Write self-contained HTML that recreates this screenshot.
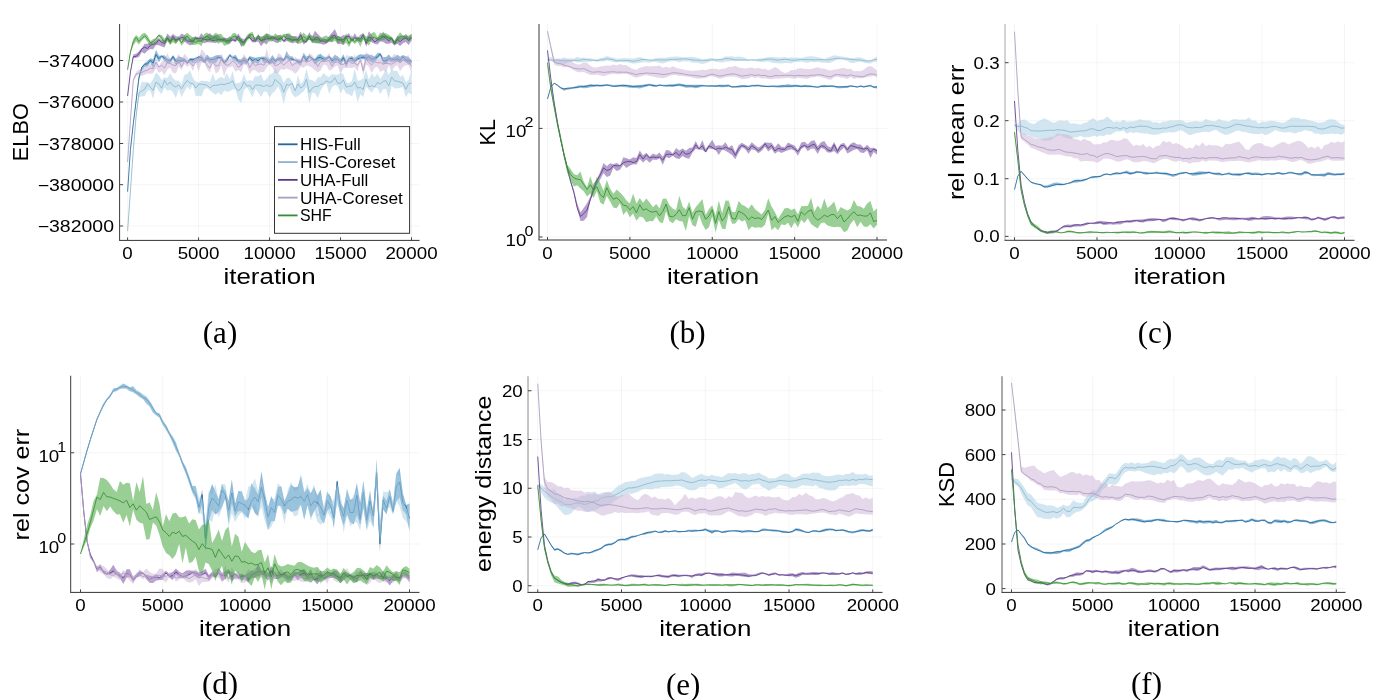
<!DOCTYPE html>
<html><head><meta charset="utf-8"><title>figure</title>
<style>
html,body{margin:0;padding:0;background:#fff;}
svg{display:block;filter:blur(0.35px);font-family:"Liberation Sans",sans-serif;fill:#000;}
text{fill:#000;}
</style></head><body>
<svg width="1376" height="700" viewBox="0 0 1376 700">
<rect width="1376" height="700" fill="#fff"/>
<path d="M127.60 24V240.4 M198.57 24V240.4 M269.55 24V240.4 M340.52 24V240.4 M411.50 24V240.4 M119.6 60.50H419.6 M119.6 102.00H419.6 M119.6 143.50H419.6 M119.6 184.70H419.6 M119.6 226.00H419.6" stroke="#000" stroke-opacity="0.05" stroke-width="0.9" fill="none"/>
<polygon points="127.60,191.38 130.44,148.78 133.28,122.80 136.12,97.92 138.96,75.17 141.79,66.40 144.63,63.08 147.47,61.10 150.31,58.36 153.15,59.15 155.99,49.67 158.83,55.73 161.67,55.50 164.51,55.14 167.35,58.27 170.19,58.81 173.02,55.00 175.86,59.09 178.70,56.25 181.54,57.29 184.38,58.16 187.22,60.99 190.06,57.94 192.90,58.12 195.74,57.99 198.57,56.46 201.41,54.76 204.25,58.83 207.09,54.52 209.93,57.44 212.77,57.00 215.61,55.53 218.45,54.95 221.29,55.45 224.13,61.53 226.96,57.62 229.80,53.64 232.64,56.59 235.48,54.82 238.32,59.18 241.16,59.26 244.00,56.67 246.84,59.98 249.68,56.10 252.52,57.09 255.35,57.80 258.19,57.05 261.03,56.66 263.87,56.50 266.71,57.00 269.55,59.13 272.39,55.11 275.23,58.97 278.07,57.09 280.91,56.76 283.75,58.82 286.58,50.92 289.42,56.32 292.26,56.21 295.10,59.84 297.94,58.93 300.78,60.91 303.62,52.86 306.46,56.71 309.30,55.10 312.13,57.87 314.97,58.81 317.81,54.91 320.65,53.81 323.49,56.57 326.33,57.06 329.17,55.38 332.01,57.97 334.85,54.99 337.69,56.15 340.52,59.02 343.36,54.18 346.20,60.71 349.04,57.12 351.88,55.90 354.72,58.34 357.56,55.59 360.40,54.29 363.24,54.67 366.08,54.35 368.91,54.39 371.75,55.39 374.59,56.60 377.43,52.97 380.27,52.67 383.11,57.30 385.95,56.91 388.79,54.47 391.63,57.79 394.47,57.05 397.30,54.72 400.14,56.73 402.98,54.95 405.82,56.18 408.66,57.37 411.50,59.96 411.50,63.50 408.66,64.65 405.82,62.06 402.98,59.53 400.14,62.55 397.30,61.67 394.47,61.68 391.63,62.41 388.79,61.02 385.95,64.32 383.11,63.84 380.27,55.72 377.43,59.02 374.59,61.77 371.75,62.72 368.91,60.53 366.08,59.97 363.24,59.34 360.40,59.17 357.56,60.40 354.72,62.82 351.88,62.01 349.04,60.41 346.20,67.59 343.36,60.82 340.52,65.12 337.69,60.85 334.85,62.25 332.01,63.81 329.17,58.66 326.33,60.32 323.49,62.37 320.65,59.93 317.81,62.20 314.97,64.78 312.13,60.22 309.30,58.25 306.46,63.25 303.62,58.00 300.78,65.49 297.94,64.07 295.10,60.59 292.26,60.82 289.42,60.65 286.58,58.40 283.75,61.57 280.91,62.78 278.07,60.65 275.23,64.11 272.39,63.16 269.55,64.55 266.71,62.54 263.87,63.37 261.03,58.82 258.19,63.95 255.35,62.58 252.52,64.11 249.68,59.85 246.84,64.60 244.00,63.21 241.16,65.87 238.32,63.55 235.48,61.11 232.64,59.62 229.80,55.84 226.96,62.35 224.13,64.57 221.29,60.02 218.45,58.67 215.61,63.59 212.77,61.80 209.93,63.71 207.09,60.83 204.25,63.33 201.41,61.28 198.57,60.49 195.74,60.89 192.90,63.61 190.06,61.35 187.22,63.86 184.38,61.56 181.54,61.98 178.70,63.55 175.86,65.17 173.02,58.93 170.19,63.82 167.35,63.42 164.51,61.28 161.67,57.43 158.83,62.51 155.99,56.84 153.15,68.38 150.31,62.38 147.47,66.56 144.63,66.73 141.79,71.04 138.96,80.30 136.12,102.98 133.28,124.76 130.44,149.89 127.60,191.98" fill="#1f78b4" fill-opacity="0.5" stroke="none"/>
<polyline points="127.60,191.70 130.44,149.56 133.28,123.87 136.12,100.77 138.96,77.49 141.79,67.27 144.63,64.27 147.47,63.78 150.31,60.16 153.15,63.11 155.99,54.42 158.83,58.75 161.67,55.87 164.51,58.26 167.35,59.83 170.19,60.94 173.02,56.49 175.86,61.32 178.70,60.54 181.54,61.29 184.38,59.76 187.22,63.34 190.06,59.38 192.90,59.79 195.74,58.37 198.57,56.84 201.41,57.65 204.25,61.66 207.09,58.14 209.93,59.81 212.77,59.48 215.61,58.79 218.45,57.39 221.29,57.62 224.13,62.37 226.96,60.20 229.80,55.46 232.64,57.66 235.48,57.61 238.32,61.28 241.16,61.47 244.00,60.29 246.84,62.37 249.68,57.36 252.52,60.68 255.35,59.12 258.19,60.78 261.03,58.23 263.87,58.79 266.71,59.83 269.55,62.65 272.39,58.38 275.23,61.05 278.07,59.17 280.91,58.91 283.75,60.12 286.58,55.84 289.42,58.72 292.26,59.15 295.10,60.21 297.94,61.51 300.78,61.84 303.62,56.07 306.46,60.65 309.30,56.01 312.13,58.25 314.97,60.28 317.81,57.83 320.65,57.33 323.49,59.13 326.33,58.86 329.17,56.54 332.01,60.79 334.85,58.85 337.69,59.29 340.52,61.57 343.36,57.62 346.20,63.86 349.04,58.71 351.88,58.25 354.72,61.44 357.56,58.83 360.40,58.02 363.24,56.98 366.08,58.28 368.91,56.61 371.75,59.39 374.59,58.37 377.43,56.92 380.27,54.12 383.11,60.57 385.95,61.11 388.79,58.44 391.63,59.27 394.47,59.29 397.30,58.70 400.14,60.55 402.98,56.65 405.82,60.03 408.66,60.11 411.50,61.57" fill="none" stroke="#23679b" stroke-opacity="1" stroke-width="0.85" stroke-linejoin="round"/>
<polygon points="127.60,230.87 130.44,190.61 133.28,149.47 136.12,113.32 138.96,90.51 141.79,81.84 144.63,82.29 147.47,81.90 150.31,83.56 153.15,79.36 155.99,72.44 158.83,75.27 161.67,79.93 164.51,77.14 167.35,78.30 170.19,73.24 173.02,78.24 175.86,80.85 178.70,80.41 181.54,84.82 184.38,74.84 187.22,74.37 190.06,70.18 192.90,77.71 195.74,81.51 198.57,82.39 201.41,80.59 204.25,80.99 207.09,81.04 209.93,82.07 212.77,73.64 215.61,80.72 218.45,78.17 221.29,76.85 224.13,78.47 226.96,73.06 229.80,79.23 232.64,70.95 235.48,83.58 238.32,82.94 241.16,81.62 244.00,73.92 246.84,81.56 249.68,79.94 252.52,81.01 255.35,76.10 258.19,76.45 261.03,73.89 263.87,81.32 266.71,78.55 269.55,74.80 272.39,73.57 275.23,68.81 278.07,73.27 280.91,75.67 283.75,82.68 286.58,78.18 289.42,77.87 292.26,81.43 295.10,89.33 297.94,75.03 300.78,83.94 303.62,80.79 306.46,68.56 309.30,79.55 312.13,80.08 314.97,82.02 317.81,77.32 320.65,77.31 323.49,73.00 326.33,75.63 329.17,77.11 332.01,74.00 334.85,74.84 337.69,74.53 340.52,73.10 343.36,74.11 346.20,82.15 349.04,83.05 351.88,80.91 354.72,68.16 357.56,80.64 360.40,80.33 363.24,78.23 366.08,69.69 368.91,79.72 371.75,73.25 374.59,77.24 377.43,73.43 380.27,78.81 383.11,74.68 385.95,69.24 388.79,75.08 391.63,69.51 394.47,71.12 397.30,70.75 400.14,77.00 402.98,74.86 405.82,82.25 408.66,79.87 411.50,69.78 411.50,94.66 408.66,92.86 405.82,97.30 402.98,87.05 400.14,87.71 397.30,88.47 394.47,88.29 391.63,85.69 388.79,99.05 385.95,88.71 383.11,89.22 380.27,94.34 377.43,88.06 374.59,88.01 371.75,92.51 368.91,90.05 366.08,86.61 363.24,97.08 360.40,94.60 357.56,102.30 354.72,89.35 351.88,96.61 349.04,94.34 346.20,93.52 343.36,88.48 340.52,93.36 337.69,85.99 334.85,84.96 332.01,87.25 329.17,93.97 326.33,83.32 323.49,85.81 320.65,90.19 317.81,97.97 314.97,93.20 312.13,92.46 309.30,103.45 306.46,87.07 303.62,91.49 300.78,93.63 297.94,96.00 295.10,97.23 292.26,94.34 289.42,86.75 286.58,92.11 283.75,103.95 280.91,92.72 278.07,86.60 275.23,90.82 272.39,93.28 269.55,97.44 266.71,91.86 263.87,91.63 261.03,97.07 258.19,92.44 255.35,88.94 252.52,97.48 249.68,91.67 246.84,87.14 244.00,89.93 241.16,103.23 238.32,99.21 235.48,89.77 232.64,89.25 229.80,91.26 226.96,91.71 224.13,90.40 221.29,95.15 218.45,92.39 215.61,94.76 212.77,92.67 209.93,90.13 207.09,87.97 204.25,89.35 201.41,96.39 198.57,95.62 195.74,96.38 192.90,84.61 190.06,89.95 187.22,86.61 184.38,91.39 181.54,96.96 178.70,88.91 175.86,97.92 173.02,92.30 170.19,89.79 167.35,90.84 164.51,87.59 161.67,93.88 158.83,91.19 155.99,86.12 153.15,98.79 150.31,90.52 147.47,90.38 144.63,96.18 141.79,96.14 138.96,97.52 136.12,117.88 133.28,151.78 130.44,190.89 127.60,231.06" fill="#a6cee3" fill-opacity="0.5" stroke="none"/>
<polyline points="127.60,231.00 130.44,190.66 133.28,150.29 136.12,116.14 138.96,92.75 141.79,90.94 144.63,89.35 147.47,83.89 150.31,87.20 153.15,90.34 155.99,82.05 158.83,84.13 161.67,88.28 164.51,80.34 167.35,85.09 170.19,81.97 173.02,85.71 175.86,86.93 178.70,84.80 181.54,88.74 184.38,84.13 187.22,80.41 190.06,83.24 192.90,83.54 195.74,88.07 198.57,84.30 201.41,84.01 204.25,84.72 207.09,85.16 209.93,88.12 212.77,85.67 215.61,85.10 218.45,85.13 221.29,84.12 224.13,84.79 226.96,83.50 229.80,82.96 232.64,80.81 235.48,87.25 238.32,91.01 241.16,88.08 244.00,81.78 246.84,86.04 249.68,85.39 252.52,89.74 255.35,85.27 258.19,84.96 261.03,85.45 263.87,86.52 266.71,84.94 269.55,86.58 272.39,85.50 275.23,79.32 278.07,82.25 280.91,84.39 283.75,92.28 286.58,84.50 289.42,85.25 292.26,83.15 295.10,90.68 297.94,83.91 300.78,88.05 303.62,86.00 306.46,79.22 309.30,92.45 312.13,88.24 314.97,86.39 317.81,86.55 320.65,84.36 323.49,83.92 326.33,80.84 329.17,82.48 332.01,81.47 334.85,77.73 337.69,83.28 340.52,83.38 343.36,79.81 346.20,87.25 349.04,86.11 351.88,86.07 354.72,82.17 357.56,88.13 360.40,87.36 363.24,89.47 366.08,79.13 368.91,87.02 371.75,85.55 374.59,86.83 377.43,82.45 380.27,84.03 383.11,81.41 385.95,80.65 388.79,85.79 391.63,77.02 394.47,80.76 397.30,81.29 400.14,82.16 402.98,83.20 405.82,89.19 408.66,83.73 411.50,83.20" fill="none" stroke="#8db6cc" stroke-opacity="1" stroke-width="0.85" stroke-linejoin="round"/>
<polygon points="127.60,95.52 130.44,70.83 133.28,54.47 136.12,53.66 138.96,51.16 141.79,47.93 144.63,43.67 147.47,43.73 150.31,42.52 153.15,42.79 155.99,41.01 158.83,38.01 161.67,40.02 164.51,40.13 167.35,33.45 170.19,36.47 173.02,33.98 175.86,36.12 178.70,36.91 181.54,33.40 184.38,35.09 187.22,37.90 190.06,39.26 192.90,37.58 195.74,36.84 198.57,37.71 201.41,32.95 204.25,37.55 207.09,35.36 209.93,32.92 212.77,36.15 215.61,35.10 218.45,34.95 221.29,38.12 224.13,37.14 226.96,38.49 229.80,36.13 232.64,38.45 235.48,36.90 238.32,33.56 241.16,37.94 244.00,39.15 246.84,36.98 249.68,33.43 252.52,38.08 255.35,37.19 258.19,35.39 261.03,36.41 263.87,36.08 266.71,33.41 269.55,35.77 272.39,35.39 275.23,36.68 278.07,35.21 280.91,34.52 283.75,39.59 286.58,33.18 289.42,34.91 292.26,36.02 295.10,35.91 297.94,36.67 300.78,31.58 303.62,39.86 306.46,38.79 309.30,31.97 312.13,36.90 314.97,30.80 317.81,34.11 320.65,36.65 323.49,39.78 326.33,39.54 329.17,35.93 332.01,32.65 334.85,29.04 337.69,35.74 340.52,36.92 343.36,35.07 346.20,35.74 349.04,33.09 351.88,38.94 354.72,33.02 357.56,37.89 360.40,34.65 363.24,33.05 366.08,39.86 368.91,31.36 371.75,35.00 374.59,38.50 377.43,37.46 380.27,37.44 383.11,31.53 385.95,35.25 388.79,36.62 391.63,37.84 394.47,41.14 397.30,35.68 400.14,37.32 402.98,36.93 405.82,33.74 408.66,37.20 411.50,33.41 411.50,40.69 408.66,45.00 405.82,42.11 402.98,43.21 400.14,45.96 397.30,43.77 394.47,45.43 391.63,42.76 388.79,43.85 385.95,43.78 383.11,41.73 380.27,41.53 377.43,44.41 374.59,43.77 371.75,42.14 368.91,40.74 366.08,46.71 363.24,36.56 360.40,41.12 357.56,41.38 354.72,39.20 351.88,41.54 349.04,38.99 346.20,38.28 343.36,44.93 340.52,43.67 337.69,44.37 334.85,37.65 332.01,41.44 329.17,41.95 326.33,43.75 323.49,44.86 320.65,43.73 317.81,43.56 314.97,42.20 312.13,43.16 309.30,38.02 306.46,42.33 303.62,44.53 300.78,38.81 297.94,44.07 295.10,42.18 292.26,43.54 289.42,41.37 286.58,41.22 283.75,42.29 280.91,38.85 278.07,43.13 275.23,42.61 272.39,40.71 269.55,40.06 266.71,44.62 263.87,42.71 261.03,46.14 258.19,41.43 255.35,42.33 252.52,42.60 249.68,38.88 246.84,39.49 244.00,44.73 241.16,46.88 238.32,39.47 235.48,42.16 232.64,40.75 229.80,43.15 226.96,43.96 224.13,41.61 221.29,42.58 218.45,41.33 215.61,43.13 212.77,42.51 209.93,42.53 207.09,42.27 204.25,43.18 201.41,42.03 198.57,41.32 195.74,40.25 192.90,44.32 190.06,45.41 187.22,43.87 184.38,41.49 181.54,39.98 178.70,40.61 175.86,43.44 173.02,39.76 170.19,44.61 167.35,40.11 164.51,47.54 161.67,46.58 158.83,45.21 155.99,45.08 153.15,49.27 150.31,49.05 147.47,50.81 144.63,53.65 141.79,51.93 138.96,56.90 136.12,57.87 133.28,58.03 130.44,72.29 127.60,96.51" fill="#6a3d9a" fill-opacity="0.5" stroke="none"/>
<polyline points="127.60,96.00 130.44,71.97 133.28,56.70 136.12,56.36 138.96,53.85 141.79,48.99 144.63,47.15 147.47,48.56 150.31,45.21 153.15,44.31 155.99,43.65 158.83,39.68 161.67,42.65 164.51,43.22 167.35,37.83 170.19,41.54 173.02,36.44 175.86,39.93 178.70,39.04 181.54,37.39 184.38,37.96 187.22,41.04 190.06,41.36 192.90,40.95 195.74,38.26 198.57,38.58 201.41,37.95 204.25,39.45 207.09,39.86 209.93,39.41 212.77,40.72 215.61,40.19 218.45,39.73 221.29,39.85 224.13,39.29 226.96,41.11 229.80,40.86 232.64,39.87 235.48,40.54 238.32,36.30 241.16,42.03 244.00,41.93 246.84,37.43 249.68,37.36 252.52,40.90 255.35,40.85 258.19,38.24 261.03,40.65 263.87,39.64 266.71,38.87 269.55,38.45 272.39,36.86 275.23,39.08 278.07,39.15 280.91,37.76 283.75,41.29 286.58,38.52 289.42,38.88 292.26,40.14 295.10,39.75 297.94,39.44 300.78,34.96 303.62,41.79 306.46,41.88 309.30,36.24 312.13,40.95 314.97,38.20 317.81,37.19 320.65,40.82 323.49,41.13 326.33,42.51 329.17,39.00 332.01,36.61 334.85,35.03 337.69,40.00 340.52,39.74 343.36,39.75 346.20,36.41 349.04,36.31 351.88,40.63 354.72,37.85 357.56,38.34 360.40,39.10 363.24,34.88 366.08,43.56 368.91,36.76 371.75,38.72 374.59,42.02 377.43,40.19 380.27,38.58 383.11,36.44 385.95,38.18 388.79,41.08 391.63,38.34 394.47,44.10 397.30,39.31 400.14,41.75 402.98,39.12 405.82,38.14 408.66,40.73 411.50,37.19" fill="none" stroke="#5a3a88" stroke-opacity="1" stroke-width="0.85" stroke-linejoin="round"/>
<polygon points="127.60,161.82 130.44,120.12 133.28,78.45 136.12,72.20 138.96,69.33 141.79,71.01 144.63,66.62 147.47,66.09 150.31,63.70 153.15,64.88 155.99,57.17 158.83,66.02 161.67,61.72 164.51,59.49 167.35,53.12 170.19,59.60 173.02,61.91 175.86,60.26 178.70,53.57 181.54,61.30 184.38,53.62 187.22,57.16 190.06,61.24 192.90,60.76 195.74,56.36 198.57,59.65 201.41,49.20 204.25,52.03 207.09,57.13 209.93,59.22 212.77,56.80 215.61,57.13 218.45,58.58 221.29,53.82 224.13,58.91 226.96,59.67 229.80,58.09 232.64,55.01 235.48,61.11 238.32,60.46 241.16,59.86 244.00,54.07 246.84,58.06 249.68,62.45 252.52,61.78 255.35,58.52 258.19,62.56 261.03,57.13 263.87,61.99 266.71,48.23 269.55,60.61 272.39,56.62 275.23,60.82 278.07,53.31 280.91,54.44 283.75,60.27 286.58,53.12 289.42,55.04 292.26,63.10 295.10,56.42 297.94,59.60 300.78,58.38 303.62,54.80 306.46,60.91 309.30,53.03 312.13,55.09 314.97,58.88 317.81,63.04 320.65,59.71 323.49,58.51 326.33,57.03 329.17,52.63 332.01,61.46 334.85,53.83 337.69,57.98 340.52,58.18 343.36,63.58 346.20,55.37 349.04,55.76 351.88,61.63 354.72,53.92 357.56,63.54 360.40,55.69 363.24,65.84 366.08,51.46 368.91,55.19 371.75,54.37 374.59,56.68 377.43,59.67 380.27,56.89 383.11,57.27 385.95,61.32 388.79,55.93 391.63,57.34 394.47,53.49 397.30,57.35 400.14,57.89 402.98,56.30 405.82,56.34 408.66,55.18 411.50,62.74 411.50,73.68 408.66,64.99 405.82,65.19 402.98,67.07 400.14,71.32 397.30,65.03 394.47,66.66 391.63,71.33 388.79,65.30 385.95,72.37 383.11,70.19 380.27,72.08 377.43,66.83 374.59,67.59 371.75,73.31 368.91,66.69 366.08,64.62 363.24,75.86 360.40,61.14 357.56,71.19 354.72,67.12 351.88,67.93 349.04,67.77 346.20,67.72 343.36,68.31 340.52,73.88 337.69,65.41 334.85,66.58 332.01,69.50 329.17,70.59 326.33,65.10 323.49,64.73 320.65,70.20 317.81,72.47 314.97,70.13 312.13,67.64 309.30,66.14 306.46,65.49 303.62,67.79 300.78,66.47 297.94,71.30 295.10,73.64 292.26,70.89 289.42,69.81 286.58,68.39 283.75,69.86 280.91,69.02 278.07,73.58 275.23,73.17 272.39,67.27 269.55,64.58 266.71,67.46 263.87,72.03 261.03,72.20 258.19,72.80 255.35,70.01 252.52,70.31 249.68,74.32 246.84,65.42 244.00,64.43 241.16,72.25 238.32,69.85 235.48,71.77 232.64,66.21 229.80,66.93 226.96,68.11 224.13,76.39 221.29,65.42 218.45,72.12 215.61,73.41 212.77,62.80 209.93,72.53 207.09,68.95 204.25,62.10 201.41,62.81 198.57,71.15 195.74,62.87 192.90,71.33 190.06,64.49 187.22,67.04 184.38,63.92 181.54,70.07 178.70,66.46 175.86,73.28 173.02,72.92 170.19,67.39 167.35,69.50 164.51,75.06 161.67,71.35 158.83,72.98 155.99,67.88 153.15,72.97 150.31,73.81 147.47,73.62 144.63,74.70 141.79,75.88 138.96,74.00 136.12,76.16 133.28,81.01 130.44,121.58 127.60,162.15" fill="#cab2d6" fill-opacity="0.5" stroke="none"/>
<polyline points="127.60,162.00 130.44,120.72 133.28,80.38 136.12,74.22 138.96,73.13 141.79,72.58 144.63,70.96 147.47,70.26 150.31,68.08 153.15,68.90 155.99,62.35 158.83,67.05 161.67,65.29 164.51,68.00 167.35,62.37 170.19,63.54 173.02,65.07 175.86,65.61 178.70,60.51 181.54,66.83 184.38,60.97 187.22,62.99 190.06,62.11 192.90,65.98 195.74,61.93 198.57,62.16 201.41,58.74 204.25,60.31 207.09,65.59 209.93,67.87 212.77,62.04 215.61,65.73 218.45,65.93 221.29,59.82 224.13,63.37 226.96,65.48 229.80,64.15 232.64,61.06 235.48,62.77 238.32,67.36 241.16,65.17 244.00,58.51 246.84,59.66 249.68,67.82 252.52,62.93 255.35,65.56 258.19,64.55 261.03,63.85 263.87,65.21 266.71,60.86 269.55,63.80 272.39,60.97 275.23,65.64 278.07,64.72 280.91,62.46 283.75,65.09 286.58,62.54 289.42,60.17 292.26,65.76 295.10,63.43 297.94,62.18 300.78,62.62 303.62,60.70 306.46,61.70 309.30,61.29 312.13,59.28 314.97,61.93 317.81,66.37 320.65,61.59 323.49,61.04 326.33,61.25 329.17,60.53 332.01,66.41 334.85,62.24 337.69,61.93 340.52,64.22 343.36,64.39 346.20,62.20 349.04,61.35 351.88,63.29 354.72,63.11 357.56,65.38 360.40,60.33 363.24,70.69 366.08,58.52 368.91,62.65 371.75,64.90 374.59,61.70 377.43,62.82 380.27,62.52 383.11,64.28 385.95,63.14 388.79,63.68 391.63,64.11 394.47,62.88 397.30,59.83 400.14,63.04 402.98,60.01 405.82,61.69 408.66,61.36 411.50,66.38" fill="none" stroke="#ac9cc0" stroke-opacity="1" stroke-width="0.85" stroke-linejoin="round"/>
<polygon points="127.60,69.35 130.44,50.71 133.28,38.78 136.12,35.05 138.96,37.83 141.79,34.00 144.63,32.74 147.47,35.17 150.31,41.02 153.15,39.02 155.99,37.95 158.83,34.50 161.67,34.91 164.51,38.71 167.35,35.97 170.19,39.35 173.02,36.86 175.86,39.53 178.70,36.03 181.54,40.96 184.38,35.12 187.22,32.65 190.06,35.24 192.90,37.49 195.74,36.35 198.57,37.43 201.41,39.19 204.25,34.08 207.09,32.40 209.93,35.15 212.77,35.21 215.61,32.83 218.45,34.20 221.29,33.68 224.13,37.96 226.96,38.54 229.80,37.62 232.64,33.34 235.48,33.04 238.32,37.65 241.16,38.01 244.00,42.48 246.84,35.23 249.68,32.90 252.52,31.87 255.35,39.96 258.19,33.90 261.03,38.26 263.87,35.04 266.71,33.22 269.55,34.35 272.39,36.91 275.23,33.28 278.07,35.38 280.91,35.96 283.75,33.80 286.58,34.12 289.42,33.08 292.26,36.48 295.10,36.99 297.94,38.71 300.78,35.85 303.62,32.55 306.46,35.65 309.30,35.02 312.13,35.45 314.97,36.82 317.81,36.69 320.65,38.13 323.49,36.50 326.33,35.56 329.17,37.59 332.01,34.00 334.85,37.11 337.69,35.69 340.52,37.08 343.36,39.09 346.20,33.13 349.04,40.09 351.88,34.89 354.72,40.26 357.56,36.22 360.40,39.16 363.24,33.50 366.08,36.61 368.91,36.71 371.75,32.89 374.59,32.06 377.43,37.07 380.27,32.43 383.11,33.72 385.95,33.36 388.79,34.63 391.63,36.74 394.47,40.43 397.30,36.46 400.14,32.14 402.98,35.49 405.82,35.85 408.66,35.48 411.50,34.18 411.50,40.01 408.66,40.83 405.82,38.31 402.98,39.22 400.14,39.80 397.30,42.50 394.47,44.44 391.63,40.12 388.79,40.83 385.95,39.01 383.11,40.05 380.27,40.68 377.43,40.44 374.59,37.83 371.75,39.77 368.91,45.82 366.08,42.09 363.24,39.64 360.40,46.82 357.56,41.60 354.72,44.07 351.88,41.40 349.04,47.08 346.20,42.81 343.36,44.98 340.52,40.93 337.69,43.79 334.85,40.67 332.01,42.61 329.17,41.06 326.33,42.46 323.49,40.88 320.65,42.50 317.81,42.89 314.97,43.62 312.13,41.68 309.30,39.52 306.46,42.01 303.62,41.60 300.78,43.55 297.94,43.46 295.10,40.78 292.26,41.72 289.42,42.82 286.58,39.10 283.75,37.50 280.91,42.15 278.07,41.70 275.23,39.02 272.39,41.48 269.55,41.38 266.71,38.63 263.87,42.49 261.03,42.23 258.19,37.49 255.35,42.55 252.52,38.16 249.68,37.09 246.84,41.51 244.00,46.59 241.16,44.75 238.32,41.68 235.48,37.71 232.64,38.85 229.80,44.04 226.96,44.66 224.13,46.01 221.29,41.15 218.45,43.99 215.61,40.63 212.77,42.10 209.93,40.65 207.09,42.03 204.25,39.23 201.41,46.23 198.57,43.92 195.74,44.78 192.90,45.11 190.06,42.02 187.22,38.27 184.38,42.25 181.54,45.81 178.70,39.90 175.86,43.90 173.02,42.36 170.19,44.83 167.35,41.15 164.51,45.40 161.67,39.79 158.83,36.79 155.99,43.83 153.15,42.83 150.31,46.39 147.47,42.09 144.63,37.88 141.79,40.46 138.96,44.52 136.12,41.43 133.28,45.56 130.44,53.83 127.60,69.99" fill="#33a02c" fill-opacity="0.5" stroke="none"/>
<polyline points="127.60,69.70 130.44,51.95 133.28,41.69 136.12,37.39 138.96,41.50 141.79,38.57 144.63,35.57 147.47,38.35 150.31,42.86 153.15,41.76 155.99,38.74 158.83,34.95 161.67,38.25 164.51,42.04 167.35,38.72 170.19,42.04 173.02,38.62 175.86,40.72 178.70,38.50 181.54,42.75 184.38,38.67 187.22,35.87 190.06,39.89 192.90,40.89 195.74,42.51 198.57,41.00 201.41,41.05 204.25,37.40 207.09,36.04 209.93,38.50 212.77,38.29 215.61,37.35 218.45,39.49 221.29,39.37 224.13,40.95 226.96,41.19 229.80,40.12 232.64,36.82 235.48,35.90 238.32,40.39 241.16,40.15 244.00,43.67 246.84,38.91 249.68,34.82 252.52,34.55 255.35,40.41 258.19,35.50 261.03,40.81 263.87,38.68 266.71,36.22 269.55,38.69 272.39,38.46 275.23,37.18 278.07,39.73 280.91,39.18 283.75,35.52 286.58,38.65 289.42,38.71 292.26,40.41 295.10,39.53 297.94,40.39 300.78,39.43 303.62,36.70 306.46,38.70 309.30,39.07 312.13,39.84 314.97,39.68 317.81,39.47 320.65,41.53 323.49,38.99 326.33,40.25 329.17,40.40 332.01,37.56 334.85,37.77 337.69,39.66 340.52,39.65 343.36,42.19 346.20,37.47 349.04,43.60 351.88,38.89 354.72,41.80 357.56,39.00 360.40,42.00 363.24,37.33 366.08,39.94 368.91,41.11 371.75,38.02 374.59,37.38 377.43,39.12 380.27,35.92 383.11,36.49 385.95,36.43 388.79,38.23 391.63,37.87 394.47,42.49 397.30,39.16 400.14,36.66 402.98,36.08 405.82,37.43 408.66,38.94 411.50,38.16" fill="none" stroke="#378c33" stroke-opacity="1" stroke-width="0.85" stroke-linejoin="round"/>
<path d="M119.6 24V240.4" stroke="#3a3a3a" stroke-width="1.0" fill="none"/>
<path d="M119.1 240.4H419.6" stroke="#333" stroke-width="1.0" fill="none"/>
<path d="M127.60 240.4v-3 M198.57 240.4v-3 M269.55 240.4v-3 M340.52 240.4v-3 M411.50 240.4v-3 M119.6 60.50h3.5 M119.6 102.00h3.5 M119.6 143.50h3.5 M119.6 184.70h3.5 M119.6 226.00h3.5" stroke="#444" stroke-width="1" fill="none"/>
<text x="127.60" y="259.00" font-size="16.24" text-anchor="middle" textLength="10.43" lengthAdjust="spacingAndGlyphs">0</text>
<text x="198.57" y="259.00" font-size="16.24" text-anchor="middle" textLength="41.74" lengthAdjust="spacingAndGlyphs">5000</text>
<text x="269.55" y="259.00" font-size="16.24" text-anchor="middle" textLength="52.17" lengthAdjust="spacingAndGlyphs">10000</text>
<text x="340.52" y="259.00" font-size="16.24" text-anchor="middle" textLength="52.17" lengthAdjust="spacingAndGlyphs">15000</text>
<text x="411.50" y="259.00" font-size="16.24" text-anchor="middle" textLength="52.17" lengthAdjust="spacingAndGlyphs">20000</text>
<text x="114.00" y="66.50" font-size="16.24" text-anchor="end" textLength="76.35" lengthAdjust="spacingAndGlyphs">−374000</text>
<text x="114.00" y="108.00" font-size="16.24" text-anchor="end" textLength="76.35" lengthAdjust="spacingAndGlyphs">−376000</text>
<text x="114.00" y="149.50" font-size="16.24" text-anchor="end" textLength="76.35" lengthAdjust="spacingAndGlyphs">−378000</text>
<text x="114.00" y="190.70" font-size="16.24" text-anchor="end" textLength="76.35" lengthAdjust="spacingAndGlyphs">−380000</text>
<text x="114.00" y="232.00" font-size="16.24" text-anchor="end" textLength="76.35" lengthAdjust="spacingAndGlyphs">−382000</text>
<text x="269.60" y="284.00" font-size="22.96" text-anchor="middle" textLength="92.19" lengthAdjust="spacingAndGlyphs">iteration</text>
<text x="28.30" y="132.20" font-size="22.96" text-anchor="middle" textLength="57.99" lengthAdjust="spacingAndGlyphs" transform="rotate(-90 28.30 132.20)">ELBO</text>
<text x="220" y="342.6" font-family="Liberation Serif" font-size="31" text-anchor="middle">(a)</text>
<path d="M547.50 24V240 M629.88 24V240 M712.25 24V240 M794.62 24V240 M877.00 24V240 M539 128.40H887 M539 237.00H887" stroke="#000" stroke-opacity="0.05" stroke-width="0.9" fill="none"/>
<polygon points="547.50,98.79 550.79,86.94 554.09,82.63 557.38,84.53 560.68,87.11 563.98,88.35 567.27,87.76 570.57,87.43 573.86,86.65 577.15,85.87 580.45,85.34 583.75,85.47 587.04,84.96 590.34,84.13 593.63,84.40 596.92,84.62 600.22,84.74 603.51,84.57 606.81,84.11 610.11,84.43 613.40,84.94 616.69,84.72 619.99,84.81 623.28,84.55 626.58,84.68 629.88,84.95 633.17,85.45 636.47,85.30 639.76,85.07 643.05,84.85 646.35,84.09 649.64,83.66 652.94,84.37 656.24,84.96 659.53,84.57 662.83,84.79 666.12,84.84 669.41,84.20 672.71,84.24 676.00,83.69 679.30,83.42 682.60,84.00 685.89,84.77 689.18,84.77 692.48,84.69 695.77,84.70 699.07,84.66 702.37,84.80 705.66,85.27 708.95,85.34 712.25,85.09 715.55,85.31 718.84,84.63 722.13,84.63 725.43,84.65 728.73,84.60 732.02,86.47 735.32,86.35 738.61,85.79 741.90,85.02 745.20,85.08 748.50,85.49 751.79,84.87 755.09,84.76 758.38,84.58 761.67,85.20 764.97,85.58 768.26,85.80 771.56,85.55 774.86,85.63 778.15,85.72 781.44,84.94 784.74,84.73 788.03,84.32 791.33,84.75 794.62,84.65 797.92,84.81 801.22,85.43 804.51,84.77 807.81,85.32 811.10,85.41 814.39,86.27 817.69,86.52 820.99,85.26 824.28,84.76 827.58,85.19 830.87,85.27 834.16,85.83 837.46,86.43 840.75,86.34 844.05,86.02 847.35,85.83 850.64,85.38 853.93,85.69 857.23,86.39 860.52,85.15 863.82,85.96 867.12,85.27 870.41,84.67 873.70,86.15 877.00,85.91 877.00,88.43 873.70,88.08 870.41,86.15 867.12,86.47 863.82,87.14 860.52,86.64 857.23,87.44 853.93,86.96 850.64,86.68 847.35,87.88 844.05,88.07 840.75,88.27 837.46,88.35 834.16,87.24 830.87,87.02 827.58,87.07 824.28,87.13 820.99,86.95 817.69,87.62 814.39,87.35 811.10,87.14 807.81,87.24 804.51,86.92 801.22,87.27 797.92,87.09 794.62,87.08 791.33,87.28 788.03,87.26 784.74,87.27 781.44,87.50 778.15,87.58 774.86,87.31 771.56,87.06 768.26,87.28 764.97,86.77 761.67,86.79 758.38,86.25 755.09,86.53 751.79,86.37 748.50,87.03 745.20,87.18 741.90,87.30 738.61,87.67 735.32,87.80 732.02,87.64 728.73,86.62 725.43,86.96 722.13,87.35 718.84,86.89 715.55,86.91 712.25,86.52 708.95,86.40 705.66,86.23 702.37,86.57 699.07,87.42 695.77,88.23 692.48,87.56 689.18,87.56 685.89,87.80 682.60,86.84 679.30,86.11 676.00,86.30 672.71,86.89 669.41,86.48 666.12,86.43 662.83,85.95 659.53,85.97 656.24,86.74 652.94,86.79 649.64,85.49 646.35,86.69 643.05,87.59 639.76,88.40 636.47,88.01 633.17,87.95 629.88,87.80 626.58,87.16 623.28,87.10 619.99,86.84 616.69,86.97 613.40,86.72 610.11,86.09 606.81,85.62 603.51,86.40 600.22,86.87 596.92,86.60 593.63,87.08 590.34,87.20 587.04,87.98 583.75,88.13 580.45,87.62 577.15,88.33 573.86,88.49 570.57,89.34 567.27,89.83 563.98,90.63 560.68,88.52 557.38,85.57 554.09,83.32 550.79,87.34 547.50,99.05" fill="#1f78b4" fill-opacity="0.5" stroke="none"/>
<polyline points="547.50,99.00 550.79,87.27 554.09,83.20 557.38,85.25 560.68,87.82 563.98,89.04 567.27,88.32 570.57,88.08 573.86,87.75 577.15,87.33 580.45,86.65 583.75,86.53 587.04,86.08 590.34,85.38 593.63,85.55 596.92,85.33 600.22,85.57 603.51,85.44 606.81,85.07 610.11,85.75 613.40,86.39 616.69,86.17 619.99,85.56 623.28,85.33 626.58,85.60 629.88,86.14 633.17,86.52 636.47,86.15 639.76,86.23 643.05,85.91 646.35,85.34 649.64,84.87 652.94,85.55 656.24,85.95 659.53,85.05 662.83,85.70 666.12,85.85 669.41,85.66 672.71,85.58 676.00,85.25 679.30,84.77 682.60,85.19 685.89,85.87 689.18,85.94 692.48,86.12 695.77,86.24 699.07,85.95 702.37,85.62 705.66,85.96 708.95,86.09 712.25,85.99 715.55,86.18 718.84,85.71 722.13,85.99 725.43,85.83 728.73,85.71 732.02,86.85 735.32,86.70 738.61,86.29 741.90,86.08 745.20,86.31 748.50,86.55 751.79,85.89 755.09,85.74 758.38,85.62 761.67,86.03 764.97,86.42 768.26,86.46 771.56,86.30 774.86,86.17 778.15,86.31 781.44,86.04 784.74,86.10 788.03,86.18 791.33,86.19 794.62,85.78 797.92,86.01 801.22,86.41 804.51,86.09 807.81,86.22 811.10,86.32 814.39,86.85 817.69,87.24 820.99,86.53 824.28,86.25 827.58,86.46 830.87,86.08 834.16,86.14 837.46,86.84 840.75,86.93 844.05,86.78 847.35,86.67 850.64,85.91 853.93,86.41 857.23,87.05 860.52,86.16 863.82,87.01 867.12,86.33 870.41,85.69 873.70,87.13 877.00,87.01" fill="none" stroke="#23679b" stroke-opacity="1" stroke-width="0.85" stroke-linejoin="round"/>
<polygon points="547.50,57.97 550.79,57.12 554.09,59.61 557.38,58.34 560.68,58.75 563.98,57.21 567.27,58.73 570.57,58.18 573.86,58.42 577.15,56.87 580.45,58.07 583.75,57.62 587.04,58.35 590.34,58.19 593.63,58.73 596.92,59.60 600.22,58.09 603.51,57.44 606.81,56.12 610.11,57.03 613.40,57.71 616.69,58.65 619.99,58.55 623.28,58.06 626.58,58.17 629.88,58.41 633.17,58.60 636.47,57.85 639.76,57.06 643.05,57.98 646.35,59.23 649.64,59.86 652.94,59.28 656.24,57.94 659.53,57.71 662.83,57.72 666.12,57.76 669.41,57.06 672.71,56.80 676.00,56.40 679.30,56.71 682.60,57.20 685.89,57.55 689.18,57.10 692.48,56.65 695.77,57.54 699.07,58.11 702.37,59.76 705.66,58.79 708.95,58.52 712.25,57.97 715.55,58.81 718.84,58.85 722.13,58.38 725.43,56.28 728.73,56.42 732.02,56.33 735.32,57.00 738.61,56.40 741.90,57.07 745.20,57.83 748.50,59.85 751.79,59.44 755.09,59.74 758.38,58.86 761.67,58.35 764.97,57.70 768.26,56.89 771.56,57.07 774.86,56.94 778.15,57.55 781.44,57.43 784.74,57.10 788.03,57.92 791.33,57.15 794.62,57.62 797.92,57.61 801.22,57.99 804.51,57.34 807.81,56.42 811.10,56.27 814.39,56.45 817.69,57.20 820.99,58.11 824.28,59.10 827.58,57.48 830.87,56.47 834.16,55.32 837.46,55.68 840.75,56.13 844.05,56.64 847.35,57.57 850.64,58.01 853.93,58.23 857.23,57.27 860.52,57.47 863.82,58.43 867.12,60.37 870.41,60.46 873.70,58.64 877.00,56.47 877.00,61.48 873.70,61.95 870.41,63.45 867.12,63.21 863.82,62.43 860.52,61.44 857.23,61.83 853.93,63.07 850.64,62.94 847.35,61.03 844.05,59.57 840.75,58.97 837.46,59.85 834.16,60.91 830.87,62.67 827.58,63.04 824.28,62.73 820.99,62.54 817.69,61.64 814.39,62.20 811.10,61.70 807.81,62.86 804.51,62.31 801.22,61.61 797.92,62.08 794.62,61.96 791.33,63.40 788.03,63.04 784.74,63.11 781.44,63.53 778.15,63.15 774.86,63.21 771.56,62.41 768.26,61.59 764.97,61.69 761.67,62.00 758.38,61.79 755.09,60.93 751.79,60.46 748.50,60.74 745.20,60.75 741.90,60.38 738.61,60.87 735.32,61.20 732.02,61.11 728.73,61.47 725.43,61.65 722.13,62.44 718.84,62.17 715.55,61.86 712.25,60.61 708.95,61.89 705.66,63.24 702.37,64.12 699.07,63.36 695.77,62.38 692.48,62.70 689.18,61.21 685.89,61.53 682.60,61.16 679.30,62.14 676.00,61.20 672.71,61.14 669.41,61.29 666.12,62.56 662.83,63.58 659.53,62.99 656.24,62.08 652.94,61.67 649.64,62.68 646.35,62.36 643.05,62.14 639.76,62.96 636.47,63.30 633.17,63.70 629.88,62.74 626.58,62.14 623.28,62.26 619.99,61.86 616.69,62.53 613.40,62.06 610.11,60.92 606.81,60.57 603.51,61.80 600.22,61.19 596.92,61.96 593.63,60.71 590.34,62.04 587.04,61.79 583.75,62.07 580.45,62.38 577.15,62.38 573.86,61.15 570.57,62.18 567.27,62.86 563.98,64.95 560.68,63.63 557.38,63.44 554.09,62.53 550.79,61.07 547.50,60.46" fill="#a6cee3" fill-opacity="0.5" stroke="none"/>
<polyline points="547.50,60.00 550.79,59.94 554.09,60.48 557.38,60.14 560.68,60.51 563.98,60.66 567.27,60.96 570.57,60.48 573.86,60.41 577.15,60.27 580.45,60.18 583.75,59.47 587.04,59.80 590.34,60.01 593.63,60.38 596.92,60.59 600.22,59.92 603.51,59.40 606.81,58.75 610.11,59.27 613.40,59.74 616.69,60.77 619.99,60.74 623.28,60.68 626.58,60.47 629.88,60.70 633.17,61.30 636.47,60.87 639.76,60.01 643.05,59.50 646.35,59.56 649.64,60.19 652.94,60.13 656.24,59.80 659.53,59.91 662.83,60.03 666.12,59.95 669.41,59.69 672.71,59.33 676.00,59.37 679.30,59.14 682.60,58.97 685.89,58.74 689.18,59.35 692.48,59.98 695.77,60.15 699.07,60.33 702.37,60.28 705.66,60.43 708.95,60.07 712.25,59.84 715.55,59.99 718.84,59.68 722.13,59.49 725.43,58.51 728.73,58.69 732.02,59.26 735.32,59.88 738.61,59.99 741.90,59.95 745.20,60.02 748.50,60.18 751.79,59.77 755.09,60.07 758.38,59.87 761.67,60.11 764.97,59.41 768.26,59.24 771.56,59.13 774.86,59.82 778.15,60.15 781.44,59.65 784.74,59.35 788.03,59.37 791.33,60.27 794.62,60.12 797.92,59.86 801.22,59.45 804.51,59.40 807.81,59.69 811.10,59.67 814.39,59.88 817.69,59.64 820.99,59.75 824.28,59.77 827.58,60.06 830.87,59.40 834.16,58.73 837.46,58.30 840.75,58.64 844.05,58.98 847.35,59.00 850.64,59.31 853.93,59.62 857.23,59.98 860.52,59.97 863.82,60.71 867.12,60.97 870.41,60.84 873.70,59.73 877.00,59.28" fill="none" stroke="#8db6cc" stroke-opacity="1" stroke-width="0.85" stroke-linejoin="round"/>
<polygon points="547.50,50.30 550.79,77.72 554.09,100.82 557.38,119.63 560.68,138.28 563.98,152.44 567.27,165.83 570.57,179.81 573.86,190.09 577.15,202.96 580.45,212.34 583.75,208.00 587.04,203.21 590.34,196.69 593.63,183.54 596.92,179.30 600.22,171.82 603.51,163.09 606.81,166.34 610.11,163.34 613.40,164.28 616.69,162.72 619.99,165.22 623.28,157.36 626.58,158.15 629.88,159.48 633.17,157.19 636.47,157.94 639.76,150.38 643.05,155.35 646.35,152.75 649.64,156.59 652.94,153.62 656.24,155.00 659.53,152.51 662.83,156.84 666.12,149.97 669.41,150.39 672.71,153.39 676.00,147.91 679.30,150.41 682.60,148.51 685.89,150.80 689.18,148.05 692.48,147.39 695.77,141.12 699.07,147.39 702.37,139.96 705.66,148.63 708.95,144.48 712.25,139.68 715.55,146.00 718.84,145.37 722.13,145.67 725.43,142.27 728.73,147.61 732.02,144.97 735.32,152.23 738.61,145.15 741.90,142.72 745.20,144.63 748.50,146.74 751.79,142.30 755.09,145.29 758.38,147.43 761.67,145.46 764.97,142.25 768.26,142.85 771.56,142.85 774.86,147.46 778.15,143.19 781.44,146.87 784.74,147.14 788.03,142.47 791.33,144.15 794.62,145.40 797.92,149.94 801.22,142.47 804.51,141.87 807.81,144.41 811.10,141.05 814.39,140.30 817.69,146.26 820.99,142.20 824.28,140.94 827.58,145.99 830.87,147.42 834.16,142.09 837.46,148.76 840.75,143.91 844.05,142.86 847.35,147.54 850.64,143.65 853.93,142.34 857.23,144.38 860.52,144.61 863.82,148.00 867.12,144.79 870.41,147.92 873.70,147.77 877.00,149.28 877.00,154.81 873.70,152.07 870.41,158.06 867.12,150.36 863.82,153.02 860.52,152.58 857.23,149.09 853.93,149.70 850.64,151.66 847.35,153.58 844.05,147.41 840.75,150.58 837.46,154.23 834.16,151.09 830.87,152.55 827.58,152.56 824.28,148.89 820.99,148.03 817.69,154.05 814.39,148.63 811.10,148.62 807.81,151.24 804.51,146.79 801.22,149.28 797.92,155.63 794.62,150.68 791.33,149.22 788.03,150.17 784.74,151.55 781.44,153.02 778.15,151.28 774.86,153.77 771.56,148.66 768.26,151.45 764.97,146.80 761.67,150.64 758.38,153.35 755.09,150.30 751.79,149.36 748.50,153.85 745.20,149.13 741.90,147.37 738.61,152.76 735.32,159.17 732.02,154.95 728.73,152.81 725.43,150.74 722.13,149.49 718.84,155.02 715.55,150.06 712.25,148.90 708.95,148.38 705.66,152.41 702.37,149.75 699.07,149.83 695.77,148.75 692.48,152.84 689.18,158.87 685.89,157.92 682.60,155.95 679.30,158.96 676.00,158.22 672.71,155.73 669.41,158.21 666.12,157.00 662.83,164.65 659.53,158.61 656.24,159.93 652.94,159.45 649.64,162.76 646.35,159.45 643.05,162.41 639.76,159.12 636.47,164.38 633.17,164.32 629.88,165.52 626.58,168.09 623.28,164.73 619.99,169.78 616.69,171.11 613.40,167.84 610.11,175.85 606.81,176.97 603.51,172.98 600.22,179.56 596.92,184.41 593.63,193.01 590.34,200.86 587.04,217.06 583.75,220.70 580.45,221.07 577.15,208.67 573.86,193.91 570.57,182.91 567.27,170.62 563.98,156.85 560.68,141.32 557.38,123.15 554.09,103.69 550.79,78.59 547.50,50.50" fill="#6a3d9a" fill-opacity="0.5" stroke="none"/>
<polyline points="547.50,50.40 550.79,78.36 554.09,102.20 557.38,121.69 560.68,139.36 563.98,154.52 567.27,168.05 570.57,181.18 573.86,192.36 577.15,207.61 580.45,216.53 583.75,213.65 587.04,210.13 590.34,199.60 593.63,189.49 596.92,180.48 600.22,174.88 603.51,167.89 606.81,170.52 610.11,169.40 613.40,165.55 616.69,165.81 619.99,165.74 623.28,162.84 626.58,161.65 629.88,161.32 633.17,162.62 636.47,161.50 639.76,154.60 643.05,159.03 646.35,154.71 649.64,157.91 652.94,156.97 656.24,157.53 659.53,156.95 662.83,160.15 666.12,154.47 669.41,154.09 672.71,154.80 676.00,152.47 679.30,155.63 682.60,151.22 685.89,154.21 689.18,153.56 692.48,150.58 695.77,144.81 699.07,148.97 702.37,145.63 705.66,151.92 708.95,145.93 712.25,147.34 715.55,149.56 718.84,148.11 722.13,148.99 725.43,147.08 728.73,148.80 732.02,149.57 735.32,155.26 738.61,148.92 741.90,145.34 745.20,146.65 748.50,149.97 751.79,145.67 755.09,148.00 758.38,150.65 761.67,148.23 764.97,143.62 768.26,148.08 771.56,145.36 774.86,150.94 778.15,148.38 781.44,149.19 784.74,149.43 788.03,146.32 791.33,146.21 794.62,148.97 797.92,151.64 801.22,146.79 804.51,145.52 807.81,147.28 811.10,145.45 814.39,144.14 817.69,149.63 820.99,145.74 824.28,146.36 827.58,149.81 830.87,151.08 834.16,144.68 837.46,151.44 840.75,145.57 844.05,145.65 847.35,149.84 850.64,145.59 853.93,146.43 857.23,147.70 860.52,148.15 863.82,149.16 867.12,147.93 870.41,152.29 873.70,148.94 877.00,150.99" fill="none" stroke="#5a3a88" stroke-opacity="1" stroke-width="0.85" stroke-linejoin="round"/>
<polygon points="547.50,30.98 550.79,44.43 554.09,58.18 557.38,59.61 560.68,59.52 563.98,59.60 567.27,58.66 570.57,60.22 573.86,63.03 577.15,64.46 580.45,64.23 583.75,62.13 587.04,62.63 590.34,65.68 593.63,67.46 596.92,67.55 600.22,66.53 603.51,65.91 606.81,65.46 610.11,65.71 613.40,64.54 616.69,65.60 619.99,63.89 623.28,65.20 626.58,64.90 629.88,67.69 633.17,68.96 636.47,70.01 639.76,67.63 643.05,67.08 646.35,65.95 649.64,66.55 652.94,66.08 656.24,66.18 659.53,65.48 662.83,67.82 666.12,66.69 669.41,67.96 672.71,66.32 676.00,67.73 679.30,68.72 682.60,69.29 685.89,70.20 689.18,70.47 692.48,71.01 695.77,70.54 699.07,70.61 702.37,69.52 705.66,70.29 708.95,69.01 712.25,68.79 715.55,68.63 718.84,69.42 722.13,68.70 725.43,68.60 728.73,66.86 732.02,67.05 735.32,65.85 738.61,67.62 741.90,68.07 745.20,68.58 748.50,68.11 751.79,67.57 755.09,68.78 758.38,67.75 761.67,68.92 764.97,68.85 768.26,70.21 771.56,68.93 774.86,66.89 778.15,68.54 781.44,71.54 784.74,73.02 788.03,72.20 791.33,70.06 794.62,70.22 797.92,68.61 801.22,68.27 804.51,68.89 807.81,69.09 811.10,69.07 814.39,68.08 817.69,67.26 820.99,68.55 824.28,68.57 827.58,69.99 830.87,70.39 834.16,69.56 837.46,69.26 840.75,68.23 844.05,68.04 847.35,69.02 850.64,68.86 853.93,71.16 857.23,71.04 860.52,71.15 863.82,69.72 867.12,66.89 870.41,65.89 873.70,67.69 877.00,70.74 877.00,77.21 873.70,76.12 870.41,76.45 867.12,77.13 863.82,77.96 860.52,78.53 857.23,78.04 853.93,78.99 850.64,76.92 847.35,79.07 844.05,77.91 840.75,77.62 837.46,76.58 834.16,77.14 830.87,79.65 827.58,79.30 824.28,78.01 820.99,76.94 817.69,76.19 814.39,77.14 811.10,77.24 807.81,78.79 804.51,78.48 801.22,78.33 797.92,77.84 794.62,78.76 791.33,78.22 788.03,77.87 784.74,78.16 781.44,78.15 778.15,78.75 774.86,78.40 771.56,79.22 768.26,79.10 764.97,78.19 761.67,78.59 758.38,77.21 755.09,77.81 751.79,77.07 748.50,78.59 745.20,79.09 741.90,79.31 738.61,77.86 735.32,76.70 732.02,76.38 728.73,76.65 725.43,77.08 722.13,78.24 718.84,78.55 715.55,77.18 712.25,76.30 708.95,76.39 705.66,77.94 702.37,78.36 699.07,78.85 695.77,78.39 692.48,77.79 689.18,76.81 685.89,76.52 682.60,75.91 679.30,75.97 676.00,75.12 672.71,75.01 669.41,75.92 666.12,77.47 662.83,78.34 659.53,77.69 656.24,77.42 652.94,76.52 649.64,75.95 646.35,75.04 643.05,75.82 639.76,76.70 636.47,77.85 633.17,76.84 629.88,75.06 626.58,74.09 623.28,73.71 619.99,74.19 616.69,74.35 613.40,73.69 610.11,74.15 606.81,75.20 603.51,76.16 600.22,75.46 596.92,74.46 593.63,74.98 590.34,74.97 587.04,73.43 583.75,72.03 580.45,72.15 577.15,72.04 573.86,70.30 570.57,68.31 567.27,67.08 563.98,67.48 560.68,66.12 557.38,66.01 554.09,64.53 550.79,48.82 547.50,31.22" fill="#cab2d6" fill-opacity="0.5" stroke="none"/>
<polyline points="547.50,31.10 550.79,46.91 554.09,62.08 557.38,63.45 560.68,63.77 563.98,65.07 567.27,65.96 570.57,66.99 573.86,68.33 577.15,68.73 580.45,69.08 583.75,68.60 587.04,70.07 590.34,71.74 593.63,72.28 596.92,71.86 600.22,71.82 603.51,72.47 606.81,72.15 610.11,71.95 613.40,71.69 616.69,72.19 619.99,72.15 623.28,72.18 626.58,72.18 629.88,73.09 633.17,73.73 636.47,74.84 639.76,73.60 643.05,73.59 646.35,72.85 649.64,73.33 652.94,73.32 656.24,73.61 659.53,73.87 662.83,74.66 666.12,74.22 669.41,73.65 672.71,72.79 676.00,72.86 679.30,73.36 682.60,73.71 685.89,74.57 689.18,75.09 692.48,75.26 695.77,75.57 699.07,75.98 702.37,76.59 705.66,76.17 708.95,74.93 712.25,74.23 715.55,75.03 718.84,76.10 722.13,75.87 725.43,74.94 728.73,74.45 732.02,73.87 735.32,74.17 738.61,75.10 741.90,76.21 745.20,75.63 748.50,75.19 751.79,74.52 755.09,75.60 758.38,74.77 761.67,75.59 764.97,75.36 768.26,76.62 771.56,76.57 774.86,75.64 778.15,75.66 781.44,75.57 784.74,75.48 788.03,75.33 791.33,75.35 794.62,75.95 797.92,75.29 801.22,75.59 804.51,75.78 807.81,75.89 811.10,75.26 814.39,75.23 817.69,74.76 820.99,74.89 824.28,75.66 827.58,76.47 830.87,76.93 834.16,75.08 837.46,74.59 840.75,75.02 844.05,75.13 847.35,75.89 850.64,74.77 853.93,75.95 857.23,76.15 860.52,76.61 863.82,76.55 867.12,74.90 870.41,74.00 873.70,74.17 877.00,75.12" fill="none" stroke="#ac9cc0" stroke-opacity="1" stroke-width="0.85" stroke-linejoin="round"/>
<polygon points="547.50,62.23 550.79,85.49 554.09,102.63 557.38,121.67 560.68,134.30 563.98,150.90 567.27,164.72 570.57,169.05 573.86,174.00 577.15,175.28 580.45,171.39 583.75,181.78 587.04,187.28 590.34,176.16 593.63,186.45 596.92,176.55 600.22,182.96 603.51,190.75 606.81,180.06 610.11,188.74 613.40,193.83 616.69,189.43 619.99,192.41 623.28,196.08 626.58,200.60 629.88,203.46 633.17,193.42 636.47,203.57 639.76,198.11 643.05,202.70 646.35,198.46 649.64,202.55 652.94,207.26 656.24,203.89 659.53,208.46 662.83,198.86 666.12,198.40 669.41,205.08 672.71,208.46 676.00,210.28 679.30,195.69 682.60,206.59 685.89,209.65 689.18,201.61 692.48,212.72 695.77,207.04 699.07,203.16 702.37,198.97 705.66,214.89 708.95,209.06 712.25,205.31 715.55,215.83 718.84,200.52 722.13,213.36 725.43,200.41 728.73,200.75 732.02,212.07 735.32,212.04 738.61,201.07 741.90,204.66 745.20,206.25 748.50,208.77 751.79,204.36 755.09,209.15 758.38,211.75 761.67,214.58 764.97,209.84 768.26,198.26 771.56,206.41 774.86,211.89 778.15,218.71 781.44,213.54 784.74,208.13 788.03,208.09 791.33,209.98 794.62,208.57 797.92,214.40 801.22,206.22 804.51,205.91 807.81,206.11 811.10,197.87 814.39,211.47 817.69,205.54 820.99,209.44 824.28,198.59 827.58,208.01 830.87,205.32 834.16,201.57 837.46,212.25 840.75,207.09 844.05,208.97 847.35,210.58 850.64,208.58 853.93,199.89 857.23,205.93 860.52,206.56 863.82,208.65 867.12,203.46 870.41,200.88 873.70,211.62 877.00,208.18 877.00,224.66 873.70,228.46 870.41,224.24 867.12,227.12 863.82,226.39 860.52,221.78 857.23,227.26 853.93,219.70 850.64,223.83 847.35,230.53 844.05,232.24 840.75,227.31 837.46,226.67 834.16,227.31 830.87,226.40 827.58,225.54 824.28,222.40 820.99,223.09 817.69,228.49 814.39,226.61 811.10,223.94 807.81,218.25 804.51,223.01 801.22,219.79 797.92,227.47 794.62,222.05 791.33,228.19 788.03,222.71 784.74,225.14 781.44,224.19 778.15,230.33 774.86,227.05 771.56,230.17 768.26,213.58 764.97,224.65 761.67,227.63 758.38,227.35 755.09,227.75 751.79,226.48 748.50,230.34 745.20,220.09 741.90,221.41 738.61,219.00 735.32,223.62 732.02,223.86 728.73,213.19 725.43,229.35 722.13,228.73 718.84,219.73 715.55,232.84 712.25,216.32 708.95,227.28 705.66,230.02 702.37,224.05 699.07,214.91 695.77,226.70 692.48,225.13 689.18,215.99 685.89,231.03 682.60,221.42 679.30,220.90 676.00,219.21 672.71,223.13 669.41,221.05 666.12,211.26 662.83,223.20 659.53,221.89 656.24,216.14 652.94,221.37 649.64,221.05 646.35,222.16 643.05,217.53 639.76,216.58 636.47,220.87 633.17,213.48 629.88,217.33 626.58,210.97 623.28,214.97 619.99,203.24 616.69,208.20 613.40,207.54 610.11,201.54 606.81,195.92 603.51,204.75 600.22,202.57 596.92,191.05 593.63,197.69 590.34,193.49 587.04,196.42 583.75,191.35 580.45,188.60 577.15,185.33 573.86,186.49 570.57,180.57 567.27,173.10 563.98,157.91 560.68,141.43 557.38,126.49 554.09,109.08 550.79,91.15 547.50,66.20" fill="#33a02c" fill-opacity="0.5" stroke="none"/>
<polyline points="547.50,62.60 550.79,87.97 554.09,106.70 557.38,124.11 560.68,139.22 563.98,154.65 567.27,167.53 570.57,174.53 573.86,177.92 577.15,179.19 580.45,179.61 583.75,184.53 587.04,189.50 590.34,184.76 593.63,190.05 596.92,186.79 600.22,194.67 603.51,197.53 606.81,187.60 610.11,194.83 613.40,199.28 616.69,197.72 619.99,200.78 623.28,205.15 626.58,205.82 629.88,209.80 633.17,206.61 636.47,212.88 639.76,204.68 643.05,210.21 646.35,208.82 649.64,211.40 652.94,212.15 656.24,211.03 659.53,215.74 662.83,211.46 666.12,204.10 669.41,216.23 672.71,216.93 676.00,214.45 679.30,209.74 682.60,215.69 685.89,215.63 689.18,207.52 692.48,219.16 695.77,211.91 699.07,210.95 702.37,211.74 705.66,219.29 708.95,215.96 712.25,209.71 715.55,223.34 718.84,211.53 722.13,221.01 725.43,216.38 728.73,206.73 732.02,218.38 735.32,219.19 738.61,211.15 741.90,212.85 745.20,215.15 748.50,219.71 751.79,216.90 755.09,218.54 758.38,217.75 761.67,219.45 764.97,215.34 768.26,210.03 771.56,220.33 774.86,216.50 778.15,222.38 781.44,219.41 784.74,216.86 788.03,215.57 791.33,217.04 794.62,215.14 797.92,221.35 801.22,211.83 804.51,214.94 807.81,211.69 811.10,209.78 814.39,217.22 817.69,220.16 820.99,218.15 824.28,215.14 827.58,216.75 830.87,214.77 834.16,214.42 837.46,218.67 840.75,214.84 844.05,221.96 847.35,218.90 850.64,214.71 853.93,211.77 857.23,215.39 860.52,215.06 863.82,216.09 867.12,216.02 870.41,212.95 873.70,221.58 877.00,220.53" fill="none" stroke="#378c33" stroke-opacity="1" stroke-width="0.85" stroke-linejoin="round"/>
<path d="M539 24V240" stroke="#3a3a3a" stroke-width="1.0" fill="none"/>
<path d="M538.5 240H887" stroke="#333" stroke-width="1.0" fill="none"/>
<path d="M547.50 240v-3 M629.88 240v-3 M712.25 240v-3 M794.62 240v-3 M877.00 240v-3 M539 128.40h3.5 M539 237.00h3.5" stroke="#444" stroke-width="1" fill="none"/>
<text x="547.50" y="259.00" font-size="16.24" text-anchor="middle" textLength="10.43" lengthAdjust="spacingAndGlyphs">0</text>
<text x="629.88" y="259.00" font-size="16.24" text-anchor="middle" textLength="41.74" lengthAdjust="spacingAndGlyphs">5000</text>
<text x="712.25" y="259.00" font-size="16.24" text-anchor="middle" textLength="52.17" lengthAdjust="spacingAndGlyphs">10000</text>
<text x="794.62" y="259.00" font-size="16.24" text-anchor="middle" textLength="52.17" lengthAdjust="spacingAndGlyphs">15000</text>
<text x="877.00" y="259.00" font-size="16.24" text-anchor="middle" textLength="52.17" lengthAdjust="spacingAndGlyphs">20000</text>
<text x="526.50" y="137.40" font-size="16.24" text-anchor="end" textLength="20.87" lengthAdjust="spacingAndGlyphs">10</text>
<text x="524.50" y="127.20" font-size="13.96" text-anchor="start" textLength="8.97" lengthAdjust="spacingAndGlyphs">2</text>
<text x="526.50" y="246.00" font-size="16.24" text-anchor="end" textLength="20.87" lengthAdjust="spacingAndGlyphs">10</text>
<text x="524.50" y="235.80" font-size="13.96" text-anchor="start" textLength="8.97" lengthAdjust="spacingAndGlyphs">0</text>
<text x="713.00" y="284.00" font-size="22.96" text-anchor="middle" textLength="92.19" lengthAdjust="spacingAndGlyphs">iteration</text>
<text x="495.50" y="132.30" font-size="22.96" text-anchor="middle" textLength="26.60" lengthAdjust="spacingAndGlyphs" transform="rotate(-90 495.50 132.30)">KL</text>
<text x="687.6" y="342.6" font-family="Liberation Serif" font-size="31" text-anchor="middle">(b)</text>
<path d="M1014.50 24V240.3 M1097.00 24V240.3 M1179.50 24V240.3 M1262.00 24V240.3 M1344.50 24V240.3 M1005.0 62.70H1354.5 M1005.0 120.70H1354.5 M1005.0 178.70H1354.5 M1005.0 236.40H1354.5" stroke="#000" stroke-opacity="0.05" stroke-width="0.9" fill="none"/>
<polygon points="1014.50,189.39 1017.80,176.16 1021.10,170.95 1024.40,174.58 1027.70,178.55 1031.00,181.47 1034.30,182.53 1037.60,183.55 1040.90,183.95 1044.20,185.52 1047.50,185.31 1050.80,184.09 1054.10,182.84 1057.40,182.60 1060.70,183.26 1064.00,183.78 1067.30,183.17 1070.60,181.92 1073.90,179.96 1077.20,179.61 1080.50,179.74 1083.80,178.96 1087.10,178.55 1090.40,176.93 1093.70,175.96 1097.00,175.98 1100.30,175.48 1103.60,173.78 1106.90,173.61 1110.20,174.54 1113.50,172.95 1116.80,172.36 1120.10,172.69 1123.40,171.69 1126.70,170.44 1130.00,171.91 1133.30,172.04 1136.60,170.75 1139.90,171.15 1143.20,171.64 1146.50,171.99 1149.80,172.42 1153.10,172.36 1156.40,171.51 1159.70,172.25 1163.00,172.56 1166.30,172.40 1169.60,173.43 1172.90,174.57 1176.20,173.88 1179.50,172.66 1182.80,172.01 1186.10,171.74 1189.40,172.89 1192.70,172.86 1196.00,172.03 1199.30,171.33 1202.60,171.49 1205.90,171.87 1209.20,171.46 1212.50,172.59 1215.80,172.80 1219.10,172.53 1222.40,173.95 1225.70,173.38 1229.00,172.19 1232.30,173.13 1235.60,173.32 1238.90,173.17 1242.20,173.51 1245.50,172.38 1248.80,171.94 1252.10,172.87 1255.40,172.51 1258.70,172.63 1262.00,173.70 1265.30,173.34 1268.60,173.13 1271.90,173.50 1275.20,172.84 1278.50,171.73 1281.80,172.73 1285.10,173.14 1288.40,171.85 1291.70,171.84 1295.00,172.82 1298.30,173.36 1301.60,172.72 1304.90,170.83 1308.20,171.79 1311.50,174.35 1314.80,174.34 1318.10,173.92 1321.40,173.78 1324.70,173.55 1328.00,172.04 1331.30,172.75 1334.60,173.63 1337.90,173.31 1341.20,173.01 1344.50,172.75 1344.50,174.68 1341.20,175.33 1337.90,175.23 1334.60,175.80 1331.30,175.28 1328.00,174.63 1324.70,176.71 1321.40,176.26 1318.10,175.80 1314.80,176.26 1311.50,175.93 1308.20,174.12 1304.90,173.88 1301.60,175.52 1298.30,175.28 1295.00,174.14 1291.70,173.29 1288.40,173.19 1285.10,174.16 1281.80,174.67 1278.50,173.64 1275.20,174.49 1271.90,175.28 1268.60,174.32 1265.30,174.64 1262.00,175.60 1258.70,175.07 1255.40,174.83 1252.10,175.28 1248.80,174.58 1245.50,173.91 1242.20,175.37 1238.90,176.24 1235.60,175.46 1232.30,175.03 1229.00,173.99 1225.70,174.47 1222.40,175.58 1219.10,175.33 1215.80,174.91 1212.50,174.21 1209.20,173.14 1205.90,174.01 1202.60,174.54 1199.30,174.94 1196.00,175.52 1192.70,175.83 1189.40,174.55 1186.10,172.99 1182.80,174.00 1179.50,174.47 1176.20,175.96 1172.90,176.93 1169.60,175.69 1166.30,174.89 1163.00,174.42 1159.70,174.08 1156.40,173.48 1153.10,173.51 1149.80,174.07 1146.50,174.84 1143.20,173.90 1139.90,172.49 1136.60,172.97 1133.30,173.96 1130.00,174.82 1126.70,173.59 1123.40,173.43 1120.10,174.44 1116.80,174.52 1113.50,175.05 1110.20,175.54 1106.90,174.47 1103.60,175.29 1100.30,176.89 1097.00,177.42 1093.70,178.36 1090.40,178.20 1087.10,179.79 1083.80,181.33 1080.50,181.74 1077.20,182.48 1073.90,182.75 1070.60,183.56 1067.30,184.12 1064.00,185.00 1060.70,185.59 1057.40,185.12 1054.10,185.38 1050.80,186.65 1047.50,187.54 1044.20,187.84 1040.90,185.77 1037.60,184.54 1034.30,183.71 1031.00,182.77 1027.70,179.49 1024.40,175.68 1021.10,171.62 1017.80,176.45 1014.50,189.78" fill="#1f78b4" fill-opacity="0.5" stroke="none"/>
<polyline points="1014.50,189.50 1017.80,176.27 1021.10,171.26 1024.40,175.17 1027.70,178.89 1031.00,182.21 1034.30,183.55 1037.60,184.21 1040.90,184.87 1044.20,186.91 1047.50,186.88 1050.80,186.03 1054.10,185.01 1057.40,184.54 1060.70,184.55 1064.00,184.40 1067.30,183.56 1070.60,182.67 1073.90,181.15 1077.20,180.62 1080.50,180.74 1083.80,180.03 1087.10,179.06 1090.40,177.41 1093.70,176.80 1097.00,176.74 1100.30,176.47 1103.60,174.89 1106.90,173.97 1110.20,174.69 1113.50,173.54 1116.80,173.04 1120.10,173.52 1123.40,172.66 1126.70,172.41 1130.00,173.69 1133.30,173.19 1136.60,172.16 1139.90,172.25 1143.20,172.97 1146.50,173.28 1149.80,173.43 1153.10,173.36 1156.40,172.89 1159.70,173.38 1163.00,173.42 1166.30,173.52 1169.60,174.33 1172.90,175.07 1176.20,174.35 1179.50,173.43 1182.80,173.03 1186.10,172.59 1189.40,173.55 1192.70,173.81 1196.00,173.74 1199.30,173.28 1202.60,172.93 1205.90,172.90 1209.20,172.38 1212.50,173.50 1215.80,173.83 1219.10,173.73 1222.40,174.62 1225.70,173.99 1229.00,173.84 1232.30,174.88 1235.60,174.64 1238.90,174.45 1242.20,174.17 1245.50,173.33 1248.80,173.38 1252.10,174.21 1255.40,174.23 1258.70,174.35 1262.00,174.78 1265.30,174.01 1268.60,173.55 1271.90,173.97 1275.20,173.67 1278.50,173.04 1281.80,173.82 1285.10,173.80 1288.40,172.85 1291.70,172.86 1295.00,173.41 1298.30,174.01 1301.60,173.89 1304.90,172.43 1308.20,172.90 1311.50,174.51 1314.80,174.86 1318.10,175.00 1321.40,174.98 1324.70,175.10 1328.00,173.84 1331.30,174.00 1334.60,174.39 1337.90,174.31 1341.20,174.50 1344.50,173.80" fill="none" stroke="#23679b" stroke-opacity="1" stroke-width="0.85" stroke-linejoin="round"/>
<polygon points="1014.50,124.72 1017.80,123.84 1021.10,120.32 1024.40,119.29 1027.70,121.61 1031.00,123.62 1034.30,124.00 1037.60,121.51 1040.90,120.27 1044.20,118.31 1047.50,119.80 1050.80,121.68 1054.10,122.67 1057.40,121.16 1060.70,120.21 1064.00,121.05 1067.30,120.20 1070.60,123.73 1073.90,123.20 1077.20,124.05 1080.50,124.41 1083.80,122.95 1087.10,122.20 1090.40,119.39 1093.70,117.99 1097.00,121.51 1100.30,119.79 1103.60,119.61 1106.90,116.48 1110.20,119.09 1113.50,122.12 1116.80,121.19 1120.10,122.04 1123.40,119.76 1126.70,121.87 1130.00,121.55 1133.30,121.21 1136.60,120.87 1139.90,118.90 1143.20,120.27 1146.50,120.39 1149.80,120.40 1153.10,122.43 1156.40,122.10 1159.70,123.47 1163.00,121.44 1166.30,121.40 1169.60,120.15 1172.90,120.56 1176.20,120.14 1179.50,120.15 1182.80,120.50 1186.10,122.84 1189.40,122.00 1192.70,121.41 1196.00,121.02 1199.30,121.64 1202.60,121.39 1205.90,118.64 1209.20,120.57 1212.50,120.92 1215.80,121.23 1219.10,118.66 1222.40,120.57 1225.70,120.88 1229.00,121.67 1232.30,119.53 1235.60,119.00 1238.90,119.76 1242.20,119.59 1245.50,119.72 1248.80,117.24 1252.10,120.38 1255.40,120.60 1258.70,123.42 1262.00,121.41 1265.30,122.03 1268.60,120.94 1271.90,120.84 1275.20,121.23 1278.50,122.06 1281.80,122.72 1285.10,122.31 1288.40,119.91 1291.70,117.52 1295.00,117.63 1298.30,117.78 1301.60,119.37 1304.90,119.06 1308.20,120.15 1311.50,120.74 1314.80,121.84 1318.10,122.80 1321.40,122.42 1324.70,121.64 1328.00,119.60 1331.30,119.17 1334.60,119.48 1337.90,121.87 1341.20,124.30 1344.50,124.91 1344.50,133.09 1341.20,135.10 1337.90,133.76 1334.60,134.08 1331.30,133.60 1328.00,134.02 1324.70,134.05 1321.40,134.69 1318.10,133.57 1314.80,133.66 1311.50,131.33 1308.20,130.98 1304.90,130.08 1301.60,131.61 1298.30,132.23 1295.00,133.44 1291.70,132.57 1288.40,132.03 1285.10,132.38 1281.80,132.10 1278.50,131.28 1275.20,130.09 1271.90,132.28 1268.60,133.93 1265.30,135.19 1262.00,133.21 1258.70,134.24 1255.40,133.94 1252.10,133.87 1248.80,133.01 1245.50,131.95 1242.20,131.75 1238.90,130.58 1235.60,130.90 1232.30,132.98 1229.00,133.92 1225.70,135.11 1222.40,133.84 1219.10,131.97 1215.80,129.86 1212.50,130.81 1209.20,132.15 1205.90,131.81 1202.60,131.89 1199.30,132.48 1196.00,133.21 1192.70,134.27 1189.40,135.22 1186.10,133.12 1182.80,130.96 1179.50,130.22 1176.20,132.10 1172.90,132.61 1169.60,132.16 1166.30,132.59 1163.00,133.03 1159.70,133.69 1156.40,134.64 1153.10,134.71 1149.80,134.25 1146.50,133.54 1143.20,133.45 1139.90,132.93 1136.60,132.30 1133.30,133.06 1130.00,131.93 1126.70,133.86 1123.40,130.61 1120.10,131.50 1116.80,131.14 1113.50,133.01 1110.20,135.02 1106.90,134.26 1103.60,136.16 1100.30,135.38 1097.00,136.67 1093.70,135.56 1090.40,137.07 1087.10,137.26 1083.80,137.46 1080.50,135.70 1077.20,137.58 1073.90,137.52 1070.60,139.06 1067.30,138.02 1064.00,137.27 1060.70,135.29 1057.40,136.12 1054.10,137.46 1050.80,140.52 1047.50,140.52 1044.20,140.76 1040.90,139.55 1037.60,138.23 1034.30,137.44 1031.00,135.94 1027.70,135.53 1024.40,134.98 1021.10,133.94 1017.80,130.85 1014.50,125.48" fill="#a6cee3" fill-opacity="0.5" stroke="none"/>
<polyline points="1014.50,125.00 1017.80,126.63 1021.10,125.98 1024.40,127.33 1027.70,128.30 1031.00,130.81 1034.30,130.80 1037.60,131.09 1040.90,131.00 1044.20,130.81 1047.50,130.46 1050.80,130.10 1054.10,130.43 1057.40,129.67 1060.70,130.05 1064.00,130.24 1067.30,131.30 1070.60,132.09 1073.90,131.84 1077.20,131.37 1080.50,130.93 1083.80,131.00 1087.10,130.29 1090.40,128.91 1093.70,128.91 1097.00,130.45 1100.30,130.59 1103.60,129.03 1106.90,127.62 1110.20,127.48 1113.50,128.21 1116.80,127.53 1120.10,129.10 1123.40,127.47 1126.70,128.78 1130.00,127.00 1133.30,127.62 1136.60,126.78 1139.90,126.10 1143.20,126.32 1146.50,126.39 1149.80,127.36 1153.10,128.74 1156.40,128.69 1159.70,128.83 1163.00,128.00 1166.30,128.21 1169.60,127.10 1172.90,126.64 1176.20,125.26 1179.50,124.80 1182.80,124.94 1186.10,127.02 1189.40,127.55 1192.70,127.89 1196.00,127.36 1199.30,127.63 1202.60,126.94 1205.90,125.41 1209.20,125.77 1212.50,125.43 1215.80,126.34 1219.10,126.61 1222.40,127.66 1225.70,128.13 1229.00,127.24 1232.30,125.97 1235.60,124.20 1238.90,124.31 1242.20,125.04 1245.50,126.02 1248.80,126.08 1252.10,126.97 1255.40,127.16 1258.70,127.85 1262.00,127.51 1265.30,127.93 1268.60,127.25 1271.90,126.65 1275.20,126.50 1278.50,127.23 1281.80,128.11 1285.10,127.79 1288.40,126.83 1291.70,126.04 1295.00,126.40 1298.30,126.18 1301.60,126.35 1304.90,126.38 1308.20,126.19 1311.50,126.58 1314.80,126.73 1318.10,128.64 1321.40,128.99 1324.70,128.83 1328.00,127.44 1331.30,126.18 1334.60,126.12 1337.90,126.71 1341.20,128.19 1344.50,128.00" fill="none" stroke="#8db6cc" stroke-opacity="1" stroke-width="0.85" stroke-linejoin="round"/>
<polygon points="1014.50,100.82 1017.80,149.91 1021.10,185.03 1024.40,201.42 1027.70,213.44 1031.00,221.60 1034.30,224.92 1037.60,228.23 1040.90,230.20 1044.20,230.73 1047.50,231.34 1050.80,231.22 1054.10,230.82 1057.40,229.79 1060.70,227.94 1064.00,225.39 1067.30,224.60 1070.60,224.87 1073.90,224.17 1077.20,224.10 1080.50,224.57 1083.80,223.49 1087.10,222.23 1090.40,222.74 1093.70,222.83 1097.00,221.17 1100.30,220.75 1103.60,221.16 1106.90,221.61 1110.20,222.41 1113.50,222.80 1116.80,221.22 1120.10,221.33 1123.40,221.25 1126.70,220.37 1130.00,220.15 1133.30,219.85 1136.60,219.69 1139.90,219.50 1143.20,219.36 1146.50,218.83 1149.80,218.37 1153.10,217.94 1156.40,218.21 1159.70,218.94 1163.00,219.24 1166.30,218.79 1169.60,217.56 1172.90,216.90 1176.20,217.67 1179.50,218.76 1182.80,219.06 1186.10,218.67 1189.40,217.68 1192.70,217.23 1196.00,217.78 1199.30,219.00 1202.60,218.79 1205.90,217.92 1209.20,217.27 1212.50,216.93 1215.80,217.95 1219.10,218.49 1222.40,217.57 1225.70,217.27 1229.00,217.92 1232.30,217.87 1235.60,217.40 1238.90,217.68 1242.20,217.72 1245.50,217.86 1248.80,217.54 1252.10,216.73 1255.40,217.53 1258.70,218.22 1262.00,216.53 1265.30,216.09 1268.60,215.92 1271.90,216.46 1275.20,217.25 1278.50,217.57 1281.80,217.48 1285.10,216.86 1288.40,216.49 1291.70,216.45 1295.00,216.89 1298.30,217.06 1301.60,217.06 1304.90,216.29 1308.20,216.95 1311.50,218.52 1314.80,218.15 1318.10,216.56 1321.40,217.49 1324.70,218.28 1328.00,217.32 1331.30,216.47 1334.60,216.10 1337.90,217.14 1341.20,216.53 1344.50,216.24 1344.50,218.49 1341.20,218.54 1337.90,219.52 1334.60,218.39 1331.30,218.02 1328.00,219.75 1324.70,220.90 1321.40,219.77 1318.10,218.52 1314.80,220.04 1311.50,220.80 1308.20,219.56 1304.90,219.36 1301.60,218.45 1298.30,217.96 1295.00,218.99 1291.70,219.54 1288.40,219.59 1285.10,219.94 1281.80,219.52 1278.50,219.14 1275.20,219.81 1271.90,219.12 1268.60,219.40 1265.30,220.10 1262.00,219.53 1258.70,219.58 1255.40,219.68 1252.10,220.40 1248.80,221.00 1245.50,219.64 1242.20,219.11 1238.90,219.69 1235.60,220.25 1232.30,220.17 1229.00,219.92 1225.70,219.74 1222.40,220.26 1219.10,220.52 1215.80,219.17 1212.50,218.75 1209.20,218.90 1205.90,218.86 1202.60,220.70 1199.30,221.47 1196.00,220.49 1192.70,220.45 1189.40,219.58 1186.10,220.41 1182.80,221.41 1179.50,220.32 1176.20,220.16 1172.90,220.05 1169.60,219.54 1166.30,221.31 1163.00,222.16 1159.70,220.34 1156.40,220.23 1153.10,221.02 1149.80,221.37 1146.50,221.59 1143.20,222.48 1139.90,222.17 1136.60,221.51 1133.30,222.31 1130.00,222.71 1126.70,222.42 1123.40,223.31 1120.10,224.39 1116.80,224.26 1113.50,224.77 1110.20,224.32 1106.90,224.84 1103.60,224.93 1100.30,223.49 1097.00,224.06 1093.70,224.14 1090.40,223.47 1087.10,224.69 1083.80,225.93 1080.50,226.48 1077.20,226.38 1073.90,226.77 1070.60,227.45 1067.30,227.31 1064.00,227.64 1060.70,229.18 1057.40,231.98 1054.10,233.25 1050.80,233.44 1047.50,234.08 1044.20,232.86 1040.90,231.97 1037.60,229.54 1034.30,226.05 1031.00,222.84 1027.70,214.51 1024.40,202.07 1021.10,185.42 1017.80,150.25 1014.50,101.24" fill="#6a3d9a" fill-opacity="0.5" stroke="none"/>
<polyline points="1014.50,101.00 1017.80,150.02 1021.10,185.20 1024.40,201.85 1027.70,214.02 1031.00,222.11 1034.30,225.54 1037.60,228.89 1040.90,230.83 1044.20,231.53 1047.50,232.44 1050.80,232.23 1054.10,231.83 1057.40,230.59 1060.70,228.12 1064.00,226.05 1067.30,226.32 1070.60,226.38 1073.90,225.10 1077.20,224.81 1080.50,225.02 1083.80,224.26 1087.10,223.76 1090.40,223.29 1093.70,223.15 1097.00,222.80 1100.30,222.57 1103.60,223.30 1106.90,223.03 1110.20,222.59 1113.50,222.98 1116.80,222.46 1120.10,222.01 1123.40,221.54 1126.70,221.31 1130.00,221.42 1133.30,220.90 1136.60,220.43 1139.90,221.08 1143.20,221.05 1146.50,220.03 1149.80,219.74 1153.10,220.09 1156.40,219.73 1159.70,219.27 1163.00,220.08 1166.30,219.85 1169.60,218.58 1172.90,218.39 1176.20,218.57 1179.50,219.27 1182.80,220.13 1186.10,219.55 1189.40,218.56 1192.70,218.83 1196.00,219.40 1199.30,219.98 1202.60,219.53 1205.90,218.68 1209.20,218.19 1212.50,217.71 1215.80,218.38 1219.10,218.67 1222.40,217.85 1225.70,217.77 1229.00,218.10 1232.30,218.11 1235.60,218.36 1238.90,218.57 1242.20,218.93 1245.50,219.06 1248.80,219.11 1252.10,218.45 1255.40,218.34 1258.70,218.95 1262.00,218.56 1265.30,218.66 1268.60,218.47 1271.90,218.47 1275.20,218.74 1278.50,218.32 1281.80,218.78 1285.10,218.62 1288.40,218.20 1291.70,218.37 1295.00,217.97 1298.30,217.65 1301.60,217.81 1304.90,217.53 1308.20,217.81 1311.50,219.39 1314.80,218.97 1318.10,217.68 1321.40,218.48 1324.70,219.40 1328.00,218.70 1331.30,217.12 1334.60,217.05 1337.90,218.20 1341.20,217.94 1344.50,217.81" fill="none" stroke="#5a3a88" stroke-opacity="1" stroke-width="0.85" stroke-linejoin="round"/>
<polygon points="1014.50,31.56 1017.80,87.99 1021.10,133.89 1024.40,133.49 1027.70,135.88 1031.00,135.95 1034.30,138.58 1037.60,138.58 1040.90,139.23 1044.20,138.46 1047.50,138.04 1050.80,136.69 1054.10,136.66 1057.40,132.97 1060.70,134.52 1064.00,133.98 1067.30,134.81 1070.60,135.86 1073.90,138.86 1077.20,139.24 1080.50,140.95 1083.80,138.80 1087.10,140.30 1090.40,141.37 1093.70,144.43 1097.00,144.19 1100.30,144.23 1103.60,142.24 1106.90,142.36 1110.20,140.05 1113.50,139.92 1116.80,140.96 1120.10,140.48 1123.40,138.55 1126.70,138.51 1130.00,141.90 1133.30,146.02 1136.60,144.65 1139.90,145.99 1143.20,144.11 1146.50,147.49 1149.80,145.77 1153.10,148.74 1156.40,145.96 1159.70,145.52 1163.00,140.63 1166.30,142.62 1169.60,141.24 1172.90,144.04 1176.20,143.11 1179.50,144.48 1182.80,146.28 1186.10,149.10 1189.40,147.61 1192.70,148.46 1196.00,144.23 1199.30,146.34 1202.60,142.33 1205.90,146.30 1209.20,144.60 1212.50,145.42 1215.80,145.29 1219.10,145.90 1222.40,147.61 1225.70,143.86 1229.00,144.15 1232.30,143.58 1235.60,142.48 1238.90,141.53 1242.20,144.68 1245.50,149.33 1248.80,150.11 1252.10,145.70 1255.40,143.84 1258.70,143.01 1262.00,143.44 1265.30,145.92 1268.60,146.35 1271.90,147.77 1275.20,145.87 1278.50,144.07 1281.80,142.27 1285.10,142.14 1288.40,144.48 1291.70,143.08 1295.00,141.86 1298.30,140.77 1301.60,141.62 1304.90,143.98 1308.20,148.07 1311.50,146.53 1314.80,148.49 1318.10,145.91 1321.40,149.82 1324.70,145.08 1328.00,144.37 1331.30,141.73 1334.60,142.92 1337.90,141.17 1341.20,142.73 1344.50,141.03 1344.50,160.71 1341.20,160.60 1337.90,160.68 1334.60,160.72 1331.30,160.40 1328.00,159.23 1324.70,160.15 1321.40,161.43 1318.10,161.74 1314.80,162.61 1311.50,163.42 1308.20,163.74 1304.90,161.51 1301.60,159.96 1298.30,160.58 1295.00,161.72 1291.70,162.01 1288.40,161.05 1285.10,159.66 1281.80,159.72 1278.50,160.00 1275.20,160.68 1271.90,160.29 1268.60,160.69 1265.30,160.72 1262.00,160.46 1258.70,160.30 1255.40,161.11 1252.10,161.86 1248.80,162.60 1245.50,161.82 1242.20,161.07 1238.90,160.64 1235.60,161.05 1232.30,160.95 1229.00,161.34 1225.70,161.40 1222.40,162.30 1219.10,161.18 1215.80,160.41 1212.50,160.70 1209.20,160.19 1205.90,161.65 1202.60,160.31 1199.30,162.26 1196.00,162.20 1192.70,162.61 1189.40,163.74 1186.10,162.00 1182.80,162.01 1179.50,160.39 1176.20,161.73 1172.90,161.24 1169.60,159.84 1166.30,158.64 1163.00,159.05 1159.70,160.26 1156.40,162.37 1153.10,163.19 1149.80,162.02 1146.50,161.29 1143.20,161.08 1139.90,162.09 1136.60,162.27 1133.30,162.24 1130.00,160.30 1126.70,159.33 1123.40,160.20 1120.10,161.38 1116.80,161.61 1113.50,160.26 1110.20,158.94 1106.90,158.38 1103.60,158.70 1100.30,161.23 1097.00,162.83 1093.70,161.62 1090.40,161.27 1087.10,161.07 1083.80,160.94 1080.50,161.57 1077.20,158.34 1073.90,158.18 1070.60,156.39 1067.30,156.41 1064.00,155.79 1060.70,154.73 1057.40,154.43 1054.10,154.73 1050.80,154.67 1047.50,154.39 1044.20,153.02 1040.90,151.81 1037.60,150.41 1034.30,149.05 1031.00,147.64 1027.70,144.38 1024.40,141.75 1021.10,139.01 1017.80,92.01 1014.50,31.86" fill="#cab2d6" fill-opacity="0.5" stroke="none"/>
<polyline points="1014.50,31.70 1017.80,90.22 1021.10,137.08 1024.40,139.44 1027.70,141.79 1031.00,144.31 1034.30,145.28 1037.60,146.68 1040.90,147.47 1044.20,148.02 1047.50,149.75 1050.80,150.03 1054.10,150.34 1057.40,149.42 1060.70,149.95 1064.00,151.60 1067.30,152.19 1070.60,152.42 1073.90,152.96 1077.20,153.48 1080.50,154.35 1083.80,154.27 1087.10,153.49 1090.40,155.25 1093.70,155.48 1097.00,157.48 1100.30,155.56 1103.60,154.22 1106.90,153.31 1110.20,154.14 1113.50,155.31 1116.80,156.55 1120.10,156.08 1123.40,155.66 1126.70,155.50 1130.00,156.75 1133.30,157.26 1136.60,156.87 1139.90,156.61 1143.20,156.51 1146.50,156.87 1149.80,158.21 1153.10,158.78 1156.40,158.70 1159.70,155.96 1163.00,155.85 1166.30,155.33 1169.60,156.49 1172.90,157.00 1176.20,157.55 1179.50,157.38 1182.80,158.76 1186.10,158.23 1189.40,158.93 1192.70,157.36 1196.00,157.87 1199.30,158.42 1202.60,157.84 1205.90,158.53 1209.20,157.63 1212.50,157.66 1215.80,157.49 1219.10,158.04 1222.40,158.98 1225.70,158.31 1229.00,158.22 1232.30,157.77 1235.60,157.91 1238.90,156.50 1242.20,157.38 1245.50,157.85 1248.80,158.86 1252.10,157.23 1255.40,157.06 1258.70,157.00 1262.00,157.69 1265.30,157.43 1268.60,157.77 1271.90,157.16 1275.20,157.35 1278.50,156.18 1281.80,156.78 1285.10,157.08 1288.40,157.74 1291.70,158.18 1295.00,157.54 1298.30,157.81 1301.60,157.39 1304.90,158.86 1308.20,159.74 1311.50,159.87 1314.80,159.47 1318.10,159.04 1321.40,157.77 1324.70,156.81 1328.00,156.22 1331.30,157.86 1334.60,157.78 1337.90,157.59 1341.20,158.09 1344.50,158.37" fill="none" stroke="#ac9cc0" stroke-opacity="1" stroke-width="0.85" stroke-linejoin="round"/>
<polygon points="1014.50,131.29 1017.80,157.86 1021.10,188.13 1024.40,204.21 1027.70,213.53 1031.00,220.91 1034.30,223.80 1037.60,225.68 1040.90,229.28 1044.20,231.78 1047.50,232.34 1050.80,230.60 1054.10,230.44 1057.40,231.53 1060.70,232.41 1064.00,232.21 1067.30,230.55 1070.60,230.39 1073.90,231.42 1077.20,231.89 1080.50,232.12 1083.80,232.36 1087.10,231.78 1090.40,231.30 1093.70,231.72 1097.00,231.87 1100.30,231.99 1103.60,232.02 1106.90,232.06 1110.20,232.38 1113.50,231.87 1116.80,231.78 1120.10,231.51 1123.40,231.16 1126.70,231.33 1130.00,231.44 1133.30,231.34 1136.60,231.66 1139.90,232.76 1143.20,232.51 1146.50,231.59 1149.80,230.81 1153.10,230.87 1156.40,231.07 1159.70,231.12 1163.00,231.15 1166.30,230.67 1169.60,230.34 1172.90,230.93 1176.20,232.18 1179.50,232.08 1182.80,231.60 1186.10,231.99 1189.40,231.45 1192.70,231.86 1196.00,231.86 1199.30,232.10 1202.60,232.27 1205.90,231.76 1209.20,232.04 1212.50,231.60 1215.80,231.39 1219.10,231.44 1222.40,231.66 1225.70,231.49 1229.00,231.28 1232.30,232.36 1235.60,232.29 1238.90,231.55 1242.20,231.86 1245.50,232.21 1248.80,231.99 1252.10,231.77 1255.40,231.51 1258.70,230.98 1262.00,231.56 1265.30,231.77 1268.60,231.44 1271.90,231.79 1275.20,232.33 1278.50,232.17 1281.80,231.78 1285.10,232.00 1288.40,231.90 1291.70,231.60 1295.00,231.58 1298.30,231.11 1301.60,231.40 1304.90,231.42 1308.20,230.88 1311.50,230.67 1314.80,230.04 1318.10,230.70 1321.40,231.95 1324.70,231.38 1328.00,231.43 1331.30,232.02 1334.60,231.13 1337.90,231.38 1341.20,232.71 1344.50,232.17 1344.50,233.81 1341.20,234.36 1337.90,233.76 1334.60,233.41 1331.30,233.95 1328.00,233.53 1324.70,233.02 1321.40,233.15 1318.10,232.22 1314.80,231.74 1311.50,232.46 1308.20,232.35 1304.90,232.12 1301.60,232.13 1298.30,231.76 1295.00,232.75 1291.70,233.03 1288.40,233.45 1285.10,233.43 1281.80,233.13 1278.50,233.26 1275.20,233.40 1271.90,233.34 1268.60,232.77 1265.30,232.96 1262.00,233.44 1258.70,233.12 1255.40,233.63 1252.10,233.73 1248.80,233.24 1245.50,233.12 1242.20,233.19 1238.90,233.45 1235.60,233.85 1232.30,233.88 1229.00,233.64 1225.70,233.72 1222.40,233.46 1219.10,233.81 1215.80,233.83 1212.50,233.09 1209.20,233.30 1205.90,233.98 1202.60,233.61 1199.30,232.91 1196.00,232.38 1192.70,232.40 1189.40,233.43 1186.10,234.02 1182.80,233.56 1179.50,233.31 1176.20,233.46 1172.90,232.65 1169.60,232.62 1166.30,233.34 1163.00,233.02 1159.70,233.02 1156.40,232.97 1153.10,233.00 1149.80,233.09 1146.50,233.16 1143.20,233.75 1139.90,233.60 1136.60,232.89 1133.30,232.90 1130.00,233.32 1126.70,233.24 1123.40,232.60 1120.10,233.24 1116.80,233.54 1113.50,232.80 1110.20,232.73 1106.90,232.93 1103.60,233.38 1100.30,233.25 1097.00,232.79 1093.70,232.95 1090.40,233.20 1087.10,233.13 1083.80,233.28 1080.50,233.60 1077.20,233.41 1073.90,232.67 1070.60,232.42 1067.30,232.57 1064.00,232.84 1060.70,233.00 1057.40,232.27 1054.10,231.73 1050.80,232.20 1047.50,234.03 1044.20,232.98 1040.90,231.39 1037.60,229.36 1034.30,227.82 1031.00,225.27 1027.70,216.71 1024.40,206.77 1021.10,192.59 1017.80,161.90 1014.50,133.93" fill="#33a02c" fill-opacity="0.5" stroke="none"/>
<polyline points="1014.50,132.00 1017.80,159.99 1021.10,190.17 1024.40,204.88 1027.70,216.02 1031.00,223.95 1034.30,226.01 1037.60,227.97 1040.90,230.07 1044.20,232.01 1047.50,232.65 1050.80,231.38 1054.10,231.39 1057.40,232.15 1060.70,232.88 1064.00,232.48 1067.30,231.53 1070.60,231.50 1073.90,231.92 1077.20,232.69 1080.50,232.82 1083.80,232.48 1087.10,232.18 1090.40,231.93 1093.70,232.18 1097.00,232.26 1100.30,232.60 1103.60,232.52 1106.90,232.25 1110.20,232.52 1113.50,232.50 1116.80,232.70 1120.10,232.56 1123.40,232.31 1126.70,232.27 1130.00,232.23 1133.30,232.10 1136.60,232.33 1139.90,232.96 1143.20,232.63 1146.50,232.10 1149.80,231.90 1153.10,231.84 1156.40,231.89 1159.70,232.11 1163.00,232.30 1166.30,232.00 1169.60,231.79 1172.90,232.24 1176.20,232.63 1179.50,232.64 1182.80,232.34 1186.10,232.52 1189.40,232.44 1192.70,231.98 1196.00,231.98 1199.30,232.22 1202.60,232.55 1205.90,232.83 1209.20,232.55 1212.50,232.23 1215.80,232.39 1219.10,232.42 1222.40,232.67 1225.70,233.09 1229.00,232.96 1232.30,233.11 1235.60,232.72 1238.90,232.12 1242.20,232.28 1245.50,232.40 1248.80,232.44 1252.10,232.78 1255.40,232.44 1258.70,231.88 1262.00,232.31 1265.30,232.19 1268.60,232.28 1271.90,232.56 1275.20,232.48 1278.50,232.60 1281.80,232.06 1285.10,232.30 1288.40,232.94 1291.70,232.47 1295.00,231.80 1298.30,231.55 1301.60,232.01 1304.90,232.00 1308.20,231.73 1311.50,231.53 1314.80,231.11 1318.10,231.54 1321.40,232.34 1324.70,232.18 1328.00,232.45 1331.30,232.83 1334.60,232.31 1337.90,232.70 1341.20,233.38 1344.50,232.59" fill="none" stroke="#378c33" stroke-opacity="1" stroke-width="0.85" stroke-linejoin="round"/>
<path d="M1005.0 24V240.3" stroke="#a8a8a8" stroke-width="1.0" fill="none"/>
<path d="M1004.5 240.3H1354.5" stroke="#333" stroke-width="1.0" fill="none"/>
<path d="M1014.50 240.3v-3 M1097.00 240.3v-3 M1179.50 240.3v-3 M1262.00 240.3v-3 M1344.50 240.3v-3 M1005.0 62.70h3.5 M1005.0 120.70h3.5 M1005.0 178.70h3.5 M1005.0 236.40h3.5" stroke="#444" stroke-width="1" fill="none"/>
<text x="1014.50" y="259.00" font-size="16.24" text-anchor="middle" textLength="10.43" lengthAdjust="spacingAndGlyphs">0</text>
<text x="1097.00" y="259.00" font-size="16.24" text-anchor="middle" textLength="41.74" lengthAdjust="spacingAndGlyphs">5000</text>
<text x="1179.50" y="259.00" font-size="16.24" text-anchor="middle" textLength="52.17" lengthAdjust="spacingAndGlyphs">10000</text>
<text x="1262.00" y="259.00" font-size="16.24" text-anchor="middle" textLength="52.17" lengthAdjust="spacingAndGlyphs">15000</text>
<text x="1344.50" y="259.00" font-size="16.24" text-anchor="middle" textLength="52.17" lengthAdjust="spacingAndGlyphs">20000</text>
<text x="999.60" y="68.70" font-size="16.24" text-anchor="end" textLength="26.08" lengthAdjust="spacingAndGlyphs">0.3</text>
<text x="999.60" y="126.70" font-size="16.24" text-anchor="end" textLength="26.08" lengthAdjust="spacingAndGlyphs">0.2</text>
<text x="999.60" y="184.70" font-size="16.24" text-anchor="end" textLength="26.08" lengthAdjust="spacingAndGlyphs">0.1</text>
<text x="999.60" y="242.40" font-size="16.24" text-anchor="end" textLength="26.08" lengthAdjust="spacingAndGlyphs">0.0</text>
<text x="1179.75" y="284.00" font-size="22.96" text-anchor="middle" textLength="92.19" lengthAdjust="spacingAndGlyphs">iteration</text>
<text x="964.30" y="132.30" font-size="22.96" text-anchor="middle" textLength="135.39" lengthAdjust="spacingAndGlyphs" transform="rotate(-90 964.30 132.30)">rel mean err</text>
<text x="1155" y="342.6" font-family="Liberation Serif" font-size="31" text-anchor="middle">(c)</text>
<path d="M80.50 375.75V592.4 M162.75 375.75V592.4 M245.00 375.75V592.4 M327.25 375.75V592.4 M409.50 375.75V592.4 M70.7 452.75H419.5 M70.7 544.00H419.5" stroke="#000" stroke-opacity="0.05" stroke-width="0.9" fill="none"/>
<polygon points="80.50,473.78 83.79,461.49 87.08,450.27 90.37,438.54 93.66,428.14 96.95,418.73 100.24,410.68 103.53,403.24 106.82,398.42 110.11,394.73 113.40,388.44 116.69,388.05 119.98,385.93 123.27,383.62 126.56,385.23 129.85,387.48 133.14,386.40 136.43,390.53 139.72,392.13 143.01,395.03 146.30,396.66 149.59,400.96 152.88,406.62 156.17,412.68 159.46,413.81 162.75,420.67 166.04,425.26 169.33,432.75 172.62,436.83 175.91,442.44 179.20,453.03 182.49,461.72 185.78,467.45 189.07,476.43 192.36,486.00 195.65,486.07 198.94,503.52 202.23,489.44 205.52,532.29 208.81,493.99 212.10,483.99 215.39,491.57 218.68,498.92 221.97,483.79 225.26,490.98 228.55,500.86 231.84,479.26 235.13,503.49 238.42,491.11 241.71,491.58 245.00,500.81 248.29,499.11 251.58,483.34 254.87,489.45 258.16,494.51 261.45,471.34 264.74,492.35 268.03,507.53 271.32,496.35 274.61,502.60 277.90,486.95 281.19,486.20 284.48,501.08 287.77,493.55 291.06,484.38 294.35,487.36 297.64,486.78 300.93,476.08 304.22,492.40 307.51,488.07 310.80,493.20 314.09,486.65 317.38,495.59 320.67,489.48 323.96,510.72 327.25,492.09 330.54,496.17 333.83,507.04 337.12,479.81 340.41,502.12 343.70,508.03 346.99,489.38 350.28,499.77 353.57,498.21 356.86,482.92 360.15,502.64 363.44,481.04 366.73,510.60 370.02,490.47 373.31,513.71 376.60,459.87 379.89,527.62 383.18,495.51 386.47,500.68 389.76,488.87 393.05,504.33 396.34,473.81 399.63,467.70 402.92,493.48 406.21,504.85 409.50,504.02 409.50,531.10 406.21,514.88 402.92,509.53 399.63,497.44 396.34,501.57 393.05,513.74 389.76,502.22 386.47,514.18 383.18,509.44 379.89,551.52 376.60,485.20 373.31,528.11 370.02,512.63 366.73,529.05 363.44,507.79 360.15,524.61 356.86,514.72 353.57,524.50 350.28,521.89 346.99,514.41 343.70,525.84 340.41,515.84 337.12,498.83 333.83,528.28 330.54,507.62 327.25,510.81 323.96,523.57 320.67,518.95 317.38,505.89 314.09,511.41 310.80,517.85 307.51,505.21 304.22,519.38 300.93,504.46 297.64,510.03 294.35,511.13 291.06,511.74 287.77,508.38 284.48,514.57 281.19,506.35 277.90,505.59 274.61,521.29 271.32,521.05 268.03,529.84 264.74,513.15 261.45,496.62 258.16,516.23 254.87,513.30 251.58,505.69 248.29,518.51 245.00,514.88 241.71,511.25 238.42,511.36 235.13,515.91 231.84,502.62 228.55,523.13 225.26,498.60 221.97,507.04 218.68,512.15 215.39,514.40 212.10,510.14 208.81,522.30 205.52,551.18 202.23,504.42 198.94,514.70 195.65,498.35 192.36,492.47 189.07,482.85 185.78,473.40 182.49,465.66 179.20,456.32 175.91,450.13 172.62,442.44 169.33,435.26 166.04,429.67 162.75,424.61 159.46,417.53 156.17,415.25 152.88,412.23 149.59,406.22 146.30,403.31 143.01,398.85 139.72,396.99 136.43,394.28 133.14,392.26 129.85,390.96 126.56,388.56 123.27,388.35 119.98,388.73 116.69,391.01 113.40,391.69 110.11,397.13 106.82,400.56 103.53,406.52 100.24,413.19 96.95,420.23 93.66,430.00 90.37,440.13 87.08,451.43 83.79,462.69 80.50,473.85" fill="#1f78b4" fill-opacity="0.5" stroke="none"/>
<polyline points="80.50,473.80 83.79,462.05 87.08,450.37 90.37,439.66 93.66,429.38 96.95,419.25 100.24,411.88 103.53,405.00 106.82,400.01 110.11,396.04 113.40,390.61 116.69,388.97 119.98,387.18 123.27,386.74 126.56,386.70 129.85,388.39 133.14,389.97 136.43,392.62 139.72,394.25 143.01,397.63 146.30,399.31 149.59,402.80 152.88,408.46 156.17,413.07 159.46,415.17 162.75,422.65 166.04,426.31 169.33,433.52 172.62,439.20 175.91,446.47 179.20,454.22 182.49,462.62 185.78,470.27 189.07,479.16 192.36,489.11 195.65,493.83 198.94,507.38 202.23,494.61 205.52,538.20 208.81,507.56 212.10,497.95 215.39,501.69 218.68,506.22 221.97,489.97 225.26,494.88 228.55,510.55 231.84,492.85 235.13,511.22 238.42,501.91 241.71,503.56 245.00,505.05 248.29,509.43 251.58,501.34 254.87,497.18 258.16,501.85 261.45,487.32 264.74,499.96 268.03,517.15 271.32,507.59 274.61,512.47 277.90,495.35 281.19,499.16 284.48,506.13 287.77,501.37 291.06,499.71 294.35,496.86 297.64,498.14 300.93,496.68 304.22,501.43 307.51,494.39 310.80,505.75 314.09,501.38 317.38,502.58 320.67,506.93 323.96,515.27 327.25,500.66 330.54,505.69 333.83,517.82 337.12,481.48 340.41,507.71 343.70,516.27 346.99,500.39 350.28,512.53 353.57,512.50 356.86,495.42 360.15,519.50 363.44,492.31 366.73,520.22 370.02,500.82 373.31,515.91 376.60,472.85 379.89,544.03 383.18,500.05 386.47,508.61 389.76,496.44 393.05,511.34 396.34,486.17 399.63,481.99 402.92,503.43 406.21,506.35 409.50,518.54" fill="none" stroke="#23679b" stroke-opacity="1" stroke-width="0.85" stroke-linejoin="round"/>
<polygon points="80.50,473.77 83.79,461.43 87.08,450.00 90.37,438.59 93.66,428.28 96.95,418.47 100.24,410.67 103.53,403.26 106.82,398.54 110.11,394.36 113.40,389.09 116.69,388.05 119.98,385.79 123.27,383.67 126.56,385.55 129.85,387.15 133.14,386.12 136.43,390.12 139.72,391.97 143.01,394.21 146.30,396.60 149.59,400.50 152.88,406.14 156.17,412.04 159.46,412.78 162.75,419.82 166.04,425.08 169.33,431.09 172.62,435.70 175.91,442.29 179.20,451.95 182.49,460.91 185.78,466.31 189.07,475.85 192.36,485.43 195.65,486.19 198.94,497.56 202.23,497.73 205.52,521.25 208.81,490.05 212.10,495.38 215.39,484.03 218.68,500.96 221.97,484.13 225.26,484.29 228.55,502.99 231.84,488.25 235.13,506.55 238.42,493.86 241.71,490.47 245.00,501.91 248.29,486.71 251.58,485.29 254.87,478.45 258.16,490.91 261.45,480.60 264.74,498.08 268.03,506.22 271.32,500.95 274.61,498.36 277.90,483.24 281.19,486.84 284.48,507.03 287.77,490.11 291.06,481.80 294.35,491.41 297.64,490.52 300.93,473.69 304.22,491.70 307.51,483.70 310.80,495.19 314.09,483.73 317.38,507.87 320.67,495.00 323.96,505.60 327.25,490.65 330.54,502.31 333.83,499.30 337.12,483.39 340.41,494.90 343.70,512.80 346.99,488.33 350.28,502.95 353.57,494.75 356.86,490.79 360.15,507.11 363.44,481.21 366.73,510.18 370.02,497.20 373.31,509.82 376.60,458.79 379.89,521.16 383.18,491.51 386.47,492.31 389.76,490.66 393.05,501.83 396.34,472.46 399.63,476.45 402.92,499.48 406.21,509.51 409.50,501.16 409.50,529.00 406.21,521.46 402.92,518.22 399.63,506.48 396.34,500.86 393.05,515.10 389.76,507.17 386.47,508.95 383.18,508.50 379.89,546.38 376.60,485.19 373.31,527.20 370.02,520.97 366.73,530.91 363.44,508.78 360.15,530.74 356.86,522.52 353.57,521.94 350.28,526.70 346.99,514.48 343.70,532.99 340.41,511.71 337.12,504.58 333.83,522.32 330.54,517.26 327.25,511.60 323.96,521.70 320.67,524.81 317.38,521.87 314.09,509.66 310.80,521.02 307.51,503.34 304.22,519.46 300.93,502.60 297.64,515.20 294.35,516.52 291.06,509.86 287.77,507.85 284.48,523.66 281.19,508.96 277.90,504.12 274.61,519.28 271.32,526.82 268.03,530.13 264.74,520.74 261.45,506.96 258.16,514.33 254.87,503.62 251.58,509.23 248.29,508.21 245.00,519.03 241.71,512.20 238.42,516.07 235.13,522.30 231.84,513.02 228.55,526.86 225.26,496.07 221.97,508.81 218.68,517.38 215.39,508.36 212.10,522.45 208.81,518.91 205.52,542.34 202.23,515.59 198.94,511.10 195.65,499.55 192.36,492.84 189.07,483.21 185.78,473.25 182.49,466.06 179.20,456.53 175.91,450.74 172.62,442.30 169.33,434.94 166.04,430.60 162.75,424.92 159.46,417.67 156.17,415.80 152.88,412.70 149.59,406.74 146.30,404.08 143.01,399.05 139.72,397.59 136.43,394.66 133.14,392.34 129.85,391.21 126.56,389.37 123.27,388.49 119.98,388.92 116.69,391.17 113.40,392.27 110.11,396.87 106.82,400.79 103.53,406.32 100.24,413.11 96.95,420.09 93.66,430.13 90.37,440.18 87.08,451.08 83.79,462.63 80.50,473.86" fill="#a6cee3" fill-opacity="0.5" stroke="none"/>
<polyline points="80.50,473.80 83.79,462.00 87.08,450.11 90.37,439.63 93.66,429.43 96.95,419.11 100.24,411.85 103.53,404.88 106.82,400.06 110.11,395.70 113.40,391.08 116.69,389.18 119.98,387.24 123.27,386.69 126.56,387.30 129.85,388.48 133.14,389.77 136.43,392.58 139.72,394.51 143.01,397.24 146.30,399.73 149.59,402.92 152.88,408.56 156.17,413.08 159.46,414.78 162.75,422.38 166.04,426.81 169.33,432.58 172.62,438.61 175.91,446.67 179.20,453.84 182.49,462.54 185.78,469.65 189.07,479.11 192.36,489.03 195.65,494.23 198.94,502.90 202.23,504.74 205.52,528.88 208.81,504.00 212.10,509.65 215.39,495.13 218.68,509.73 221.97,491.98 225.26,490.26 228.55,513.73 231.84,502.21 235.13,515.68 238.42,505.51 241.71,503.10 245.00,508.16 248.29,497.98 251.58,502.89 254.87,487.57 258.16,499.71 261.45,496.54 264.74,507.10 268.03,516.91 271.32,512.97 274.61,509.25 277.90,492.92 281.19,500.28 284.48,513.94 287.77,499.32 291.06,497.19 294.35,502.00 297.64,502.65 300.93,493.43 304.22,501.90 307.51,491.66 310.80,508.29 314.09,498.63 317.38,516.38 320.67,512.15 323.96,512.11 327.25,500.48 330.54,512.91 333.83,510.95 337.12,487.52 340.41,502.26 343.70,522.34 346.99,500.16 350.28,516.23 353.57,509.29 356.86,503.85 360.15,523.76 363.44,493.26 366.73,520.87 370.02,508.48 373.31,514.39 376.60,472.24 379.89,537.45 383.18,498.00 386.47,501.60 389.76,499.66 393.05,510.36 396.34,485.40 399.63,490.99 402.92,510.44 406.21,511.67 409.50,515.89" fill="none" stroke="#8db6cc" stroke-opacity="0.45" stroke-width="0.85" stroke-linejoin="round"/>
<polygon points="80.50,473.50 83.79,511.62 87.08,541.11 90.37,553.20 93.66,560.35 96.95,567.39 100.24,564.21 103.53,570.46 106.82,573.54 110.11,569.49 113.40,564.75 116.69,570.69 119.98,572.87 123.27,576.71 126.56,569.32 129.85,569.16 133.14,577.00 136.43,573.56 139.72,570.85 143.01,572.55 146.30,575.12 149.59,575.74 152.88,576.06 156.17,574.34 159.46,577.01 162.75,573.30 166.04,570.83 169.33,573.92 172.62,572.04 175.91,568.53 179.20,571.72 182.49,573.35 185.78,570.82 189.07,570.17 192.36,570.64 195.65,570.69 198.94,572.16 202.23,571.15 205.52,568.75 208.81,574.95 212.10,571.72 215.39,573.62 218.68,567.86 221.97,573.02 225.26,571.42 228.55,568.96 231.84,574.06 235.13,573.34 238.42,574.59 241.71,573.83 245.00,575.48 248.29,573.26 251.58,570.36 254.87,571.85 258.16,563.51 261.45,570.46 264.74,570.29 268.03,574.16 271.32,565.94 274.61,571.85 277.90,575.01 281.19,573.87 284.48,571.72 287.77,574.38 291.06,575.75 294.35,571.32 297.64,572.37 300.93,570.24 304.22,568.85 307.51,574.59 310.80,568.94 314.09,578.08 317.38,575.10 320.67,570.30 323.96,576.96 327.25,571.19 330.54,574.13 333.83,570.35 337.12,571.04 340.41,576.38 343.70,572.55 346.99,571.64 350.28,574.67 353.57,575.56 356.86,576.54 360.15,570.24 363.44,573.02 366.73,572.93 370.02,573.13 373.31,572.11 376.60,573.59 379.89,575.47 383.18,570.57 386.47,575.56 389.76,577.86 393.05,574.40 396.34,572.93 399.63,577.29 402.92,571.65 406.21,572.58 409.50,575.37 409.50,581.89 406.21,578.13 402.92,577.02 399.63,581.76 396.34,580.25 393.05,581.07 389.76,585.54 386.47,581.28 383.18,579.30 379.89,579.36 376.60,578.88 373.31,580.06 370.02,576.58 366.73,579.07 363.44,579.57 360.15,575.57 356.86,582.44 353.57,580.77 350.28,579.39 346.99,577.01 343.70,579.96 340.41,582.90 337.12,579.22 333.83,577.80 330.54,577.88 327.25,578.43 323.96,579.48 320.67,578.41 317.38,584.41 314.09,580.74 310.80,577.69 307.51,580.11 304.22,575.73 300.93,577.40 297.64,580.50 294.35,576.34 291.06,579.81 287.77,581.03 284.48,576.38 281.19,577.49 277.90,578.98 274.61,578.99 271.32,572.90 268.03,580.65 264.74,577.12 261.45,573.53 258.16,575.87 254.87,577.70 251.58,577.68 248.29,582.55 245.00,580.06 241.71,579.40 238.42,578.92 235.13,578.33 231.84,581.22 228.55,572.54 225.26,578.76 221.97,581.77 218.68,573.77 215.39,577.40 212.10,576.59 208.81,580.95 205.52,574.10 202.23,575.56 198.94,578.52 195.65,576.87 192.36,574.03 189.07,575.49 185.78,578.19 182.49,578.18 179.20,577.50 175.91,575.02 172.62,580.11 169.33,577.41 166.04,573.38 162.75,579.66 159.46,579.88 156.17,580.44 152.88,582.89 149.59,582.81 146.30,579.18 143.01,573.72 139.72,576.18 136.43,577.44 133.14,582.19 129.85,575.99 126.56,577.77 123.27,583.97 119.98,578.26 116.69,574.62 113.40,573.60 110.11,574.32 106.82,574.93 103.53,573.63 100.24,568.83 96.95,572.16 93.66,562.77 90.37,556.19 87.08,542.45 83.79,512.78 80.50,474.44" fill="#6a3d9a" fill-opacity="0.5" stroke="none"/>
<polyline points="80.50,473.80 83.79,511.95 87.08,541.58 90.37,554.81 93.66,561.27 96.95,569.04 100.24,567.12 103.53,572.03 106.82,573.99 110.11,573.03 113.40,570.99 116.69,574.17 119.98,576.20 123.27,577.68 126.56,573.52 129.85,574.35 133.14,579.73 136.43,576.99 139.72,572.63 143.01,573.25 146.30,576.42 149.59,579.30 152.88,577.85 156.17,577.47 159.46,577.46 162.75,576.33 166.04,572.93 169.33,576.27 172.62,575.74 175.91,571.83 179.20,574.65 182.49,576.70 185.78,576.07 189.07,574.66 192.36,572.54 195.65,573.10 198.94,575.13 202.23,574.66 205.52,572.86 208.81,576.76 212.10,574.27 215.39,576.50 218.68,573.21 221.97,575.51 225.26,575.65 228.55,572.09 231.84,576.76 235.13,573.79 238.42,577.58 241.71,576.27 245.00,576.08 248.29,579.58 251.58,574.88 254.87,573.47 258.16,571.44 261.45,572.18 264.74,574.51 268.03,576.46 271.32,570.93 274.61,575.80 277.90,575.59 281.19,574.32 284.48,574.65 287.77,577.23 291.06,577.18 294.35,574.26 297.64,577.12 300.93,574.14 304.22,573.11 307.51,576.71 310.80,573.34 314.09,579.38 317.38,578.78 320.67,574.44 323.96,578.35 327.25,576.72 330.54,575.35 333.83,574.95 337.12,576.52 340.41,579.93 343.70,576.89 346.99,574.78 350.28,576.49 353.57,577.04 356.86,578.88 360.15,574.71 363.44,575.11 366.73,575.93 370.02,574.15 373.31,577.25 376.60,574.81 379.89,576.49 383.18,576.85 386.47,578.27 389.76,580.56 393.05,576.75 396.34,577.34 399.63,578.98 402.92,574.99 406.21,575.73 409.50,578.48" fill="none" stroke="#5a3a88" stroke-opacity="1" stroke-width="0.85" stroke-linejoin="round"/>
<polygon points="80.50,473.03 83.79,511.39 87.08,539.76 90.37,556.90 93.66,560.82 96.95,565.79 100.24,565.22 103.53,565.88 106.82,569.01 110.11,574.32 113.40,572.02 116.69,569.14 119.98,575.54 123.27,569.72 126.56,573.44 129.85,572.35 133.14,575.99 136.43,574.80 139.72,569.02 143.01,571.91 146.30,568.38 149.59,572.06 152.88,573.74 156.17,573.19 159.46,568.39 162.75,568.77 166.04,575.68 169.33,572.50 172.62,572.21 175.91,576.16 179.20,572.63 182.49,573.97 185.78,572.18 189.07,575.59 192.36,571.51 195.65,569.03 198.94,573.22 202.23,574.22 205.52,573.49 208.81,575.63 212.10,571.90 215.39,568.86 218.68,568.65 221.97,575.05 225.26,565.32 228.55,575.12 231.84,567.27 235.13,573.48 238.42,571.25 241.71,577.06 245.00,574.77 248.29,569.15 251.58,571.68 254.87,567.90 258.16,569.18 261.45,571.13 264.74,572.40 268.03,571.82 271.32,576.84 274.61,571.60 277.90,571.78 281.19,568.60 284.48,575.10 287.77,572.71 291.06,574.06 294.35,572.83 297.64,573.51 300.93,576.13 304.22,575.39 307.51,575.17 310.80,572.33 314.09,575.38 317.38,567.79 320.67,578.24 323.96,570.07 327.25,575.78 330.54,571.54 333.83,572.82 337.12,571.49 340.41,573.57 343.70,571.70 346.99,567.92 350.28,573.71 353.57,575.74 356.86,570.13 360.15,573.43 363.44,573.22 366.73,576.65 370.02,575.54 373.31,571.82 376.60,571.10 379.89,574.52 383.18,572.31 386.47,580.31 389.76,574.33 393.05,576.46 396.34,570.18 399.63,576.56 402.92,572.75 406.21,569.43 409.50,574.66 409.50,582.88 406.21,577.42 402.92,578.72 399.63,582.69 396.34,577.50 393.05,583.75 389.76,577.72 386.47,583.10 383.18,580.74 379.89,583.17 376.60,581.14 373.31,577.48 370.02,582.95 366.73,585.34 363.44,578.32 360.15,579.33 356.86,580.07 353.57,583.26 350.28,578.47 346.99,577.73 343.70,580.16 340.41,579.59 337.12,582.21 333.83,580.20 330.54,574.97 327.25,583.68 323.96,578.45 320.67,584.30 317.38,575.29 314.09,579.58 310.80,582.56 307.51,581.89 304.22,582.07 300.93,581.72 297.64,579.80 294.35,580.89 291.06,580.38 287.77,582.61 284.48,579.28 281.19,576.20 277.90,576.78 274.61,578.93 271.32,583.59 268.03,577.92 264.74,578.91 261.45,577.84 258.16,577.64 254.87,576.56 251.58,579.28 248.29,577.37 245.00,582.53 241.71,583.34 238.42,579.28 235.13,579.54 231.84,573.90 228.55,582.61 225.26,578.06 221.97,581.32 218.68,577.64 215.39,576.16 212.10,578.38 208.81,581.46 205.52,582.05 202.23,582.04 198.94,586.01 195.65,579.34 192.36,581.63 189.07,582.67 185.78,580.95 182.49,577.86 179.20,579.85 175.91,581.82 172.62,574.17 169.33,577.16 166.04,582.53 162.75,579.98 159.46,576.30 156.17,579.43 152.88,581.45 149.59,581.19 146.30,577.36 143.01,579.23 139.72,576.77 136.43,578.21 133.14,584.03 129.85,580.74 126.56,576.57 123.27,575.92 119.98,580.29 116.69,578.27 113.40,576.81 110.11,579.19 106.82,578.03 103.53,574.35 100.24,572.09 96.95,569.83 93.66,563.33 90.37,557.78 87.08,541.92 83.79,512.82 80.50,474.31" fill="#cab2d6" fill-opacity="0.5" stroke="none"/>
<polyline points="80.50,473.80 83.79,511.98 87.08,540.90 90.37,557.33 93.66,562.15 96.95,567.55 100.24,569.57 103.53,570.73 106.82,571.83 110.11,574.85 113.40,575.30 116.69,574.11 119.98,577.30 123.27,572.63 126.56,576.05 129.85,576.92 133.14,579.09 136.43,576.18 139.72,574.74 143.01,576.58 146.30,575.28 149.59,576.32 152.88,577.42 156.17,575.74 159.46,575.22 162.75,576.29 166.04,576.21 169.33,574.27 172.62,573.65 175.91,578.17 179.20,577.15 182.49,576.58 185.78,576.71 189.07,578.79 192.36,576.52 195.65,574.93 198.94,577.80 202.23,577.15 205.52,578.71 208.81,578.84 212.10,575.23 215.39,574.21 218.68,572.77 221.97,578.03 225.26,571.30 228.55,579.10 231.84,571.95 235.13,575.90 238.42,576.62 241.71,579.54 245.00,577.24 248.29,573.08 251.58,577.27 254.87,571.79 258.16,575.37 261.45,574.18 264.74,574.99 268.03,573.35 271.32,578.88 274.61,576.06 277.90,573.71 281.19,573.27 284.48,577.47 287.77,578.54 291.06,575.56 294.35,576.00 297.64,575.77 300.93,577.80 304.22,578.18 307.51,579.01 310.80,577.74 314.09,576.95 317.38,573.33 320.67,579.93 323.96,574.76 327.25,578.43 330.54,573.01 333.83,575.89 337.12,576.02 340.41,576.75 343.70,576.36 346.99,574.56 350.28,576.10 353.57,580.33 356.86,575.28 360.15,576.12 363.44,575.73 366.73,579.04 370.02,577.84 373.31,575.05 376.60,577.68 379.89,578.89 383.18,576.99 386.47,580.83 389.76,577.08 393.05,579.77 396.34,576.98 399.63,579.10 402.92,575.62 406.21,575.19 409.50,579.19" fill="none" stroke="#ac9cc0" stroke-opacity="1" stroke-width="0.85" stroke-linejoin="round"/>
<polygon points="80.50,553.78 83.79,539.05 87.08,525.23 90.37,514.77 93.66,500.75 96.95,494.57 100.24,477.65 103.53,478.07 106.82,479.99 110.11,483.95 113.40,489.20 116.69,491.98 119.98,481.00 123.27,484.81 126.56,482.67 129.85,483.34 133.14,501.10 136.43,482.10 139.72,491.94 143.01,475.96 146.30,504.02 149.59,502.40 152.88,509.75 156.17,492.19 159.46,503.72 162.75,526.52 166.04,514.37 169.33,521.22 172.62,513.58 175.91,512.65 179.20,517.25 182.49,517.33 185.78,515.94 189.07,523.46 192.36,519.26 195.65,520.00 198.94,529.62 202.23,524.69 205.52,524.67 208.81,518.91 212.10,542.99 215.39,537.30 218.68,529.45 221.97,540.95 225.26,529.89 228.55,526.57 231.84,546.55 235.13,533.78 238.42,536.87 241.71,551.74 245.00,542.01 248.29,546.92 251.58,551.66 254.87,553.28 258.16,550.28 261.45,549.80 264.74,562.38 268.03,553.89 271.32,571.18 274.61,554.12 277.90,564.22 281.19,566.51 284.48,565.83 287.77,564.00 291.06,564.97 294.35,565.75 297.64,562.20 300.93,561.85 304.22,563.39 307.51,565.48 310.80,566.96 314.09,567.82 317.38,566.83 320.67,571.06 323.96,571.04 327.25,567.42 330.54,570.09 333.83,568.46 337.12,569.47 340.41,573.72 343.70,567.63 346.99,572.75 350.28,574.03 353.57,572.12 356.86,568.08 360.15,567.97 363.44,570.25 366.73,573.48 370.02,566.89 373.31,568.64 376.60,565.12 379.89,567.23 383.18,571.82 386.47,565.25 389.76,569.29 393.05,572.29 396.34,571.20 399.63,572.37 402.92,567.72 406.21,565.97 409.50,568.69 409.50,577.94 406.21,575.53 402.92,573.75 399.63,584.93 396.34,581.10 393.05,580.97 389.76,578.54 386.47,578.05 383.18,581.78 379.89,578.94 376.60,577.19 373.31,579.38 370.02,577.90 366.73,584.32 363.44,582.70 360.15,580.57 356.86,581.89 353.57,583.37 350.28,579.97 346.99,584.45 343.70,579.45 340.41,583.52 337.12,579.67 333.83,577.83 330.54,575.81 327.25,577.41 323.96,580.68 320.67,582.02 317.38,581.51 314.09,579.94 310.80,582.44 307.51,580.82 304.22,581.01 300.93,576.34 297.64,574.68 294.35,576.16 291.06,582.44 287.77,583.34 284.48,581.33 281.19,585.29 277.90,582.05 274.61,573.16 271.32,589.45 268.03,572.60 264.74,589.79 261.45,575.00 258.16,582.11 254.87,576.92 251.58,585.91 248.29,582.52 245.00,575.60 241.71,582.09 238.42,573.90 235.13,570.63 231.84,584.71 228.55,573.52 225.26,580.09 221.97,565.67 218.68,571.90 215.39,581.12 212.10,570.83 208.81,564.09 205.52,562.39 202.23,573.63 198.94,571.33 195.65,556.79 192.36,562.07 189.07,563.00 185.78,547.52 182.49,563.75 179.20,543.81 175.91,554.31 172.62,558.89 169.33,555.23 166.04,553.06 162.75,546.45 159.46,534.76 156.17,525.53 152.88,522.58 149.59,538.92 146.30,539.86 143.01,523.57 139.72,522.68 136.43,519.74 133.14,509.85 129.85,526.41 126.56,515.12 123.27,522.65 119.98,514.37 116.69,514.38 113.40,511.08 110.11,506.40 106.82,511.20 103.53,506.07 100.24,515.96 96.95,509.25 93.66,520.19 90.37,527.94 87.08,539.77 83.79,547.32 80.50,554.10" fill="#33a02c" fill-opacity="0.5" stroke="none"/>
<polyline points="80.50,554.00 83.79,543.51 87.08,533.94 90.37,522.09 93.66,509.65 96.95,496.97 100.24,499.62 103.53,492.39 106.82,496.83 110.11,496.99 113.40,498.41 116.69,499.50 119.98,500.93 123.27,502.85 126.56,500.22 129.85,507.51 133.14,503.83 136.43,510.17 139.72,505.68 143.01,508.91 146.30,512.10 149.59,519.58 152.88,518.03 156.17,516.76 159.46,521.81 162.75,530.04 166.04,532.69 169.33,536.45 172.62,532.07 175.91,533.69 179.20,531.25 182.49,536.44 185.78,535.34 189.07,538.30 192.36,541.05 195.65,543.22 198.94,549.66 202.23,543.71 205.52,547.93 208.81,548.43 212.10,549.49 215.39,557.39 218.68,549.15 221.97,553.97 225.26,558.62 228.55,554.95 231.84,561.19 235.13,555.91 238.42,556.50 241.71,562.14 245.00,561.64 248.29,563.72 251.58,563.08 254.87,564.98 258.16,564.48 261.45,562.47 264.74,573.41 268.03,567.72 271.32,576.92 274.61,563.74 277.90,570.74 281.19,575.55 284.48,572.84 287.77,571.93 291.06,574.65 294.35,570.15 297.64,569.34 300.93,570.82 304.22,571.21 307.51,574.00 310.80,574.13 314.09,573.83 317.38,574.00 320.67,576.86 323.96,575.00 327.25,571.74 330.54,573.59 333.83,573.39 337.12,576.36 340.41,578.06 343.70,572.88 346.99,576.56 350.28,575.17 353.57,577.75 356.86,575.04 360.15,576.01 363.44,574.84 366.73,579.82 370.02,572.75 373.31,576.08 376.60,574.36 379.89,572.14 383.18,578.56 386.47,571.17 389.76,572.42 393.05,574.42 396.34,577.30 399.63,577.98 402.92,569.80 406.21,570.95 409.50,572.65" fill="none" stroke="#378c33" stroke-opacity="1" stroke-width="0.85" stroke-linejoin="round"/>
<path d="M70.7 375.75V592.4" stroke="#3a3a3a" stroke-width="1.0" fill="none"/>
<path d="M70.2 592.4H419.5" stroke="#333" stroke-width="1.0" fill="none"/>
<path d="M80.50 592.4v-3 M162.75 592.4v-3 M245.00 592.4v-3 M327.25 592.4v-3 M409.50 592.4v-3 M70.7 452.75h3.5 M70.7 544.00h3.5" stroke="#444" stroke-width="1" fill="none"/>
<text x="80.50" y="610.75" font-size="16.24" text-anchor="middle" textLength="10.43" lengthAdjust="spacingAndGlyphs">0</text>
<text x="162.75" y="610.75" font-size="16.24" text-anchor="middle" textLength="41.74" lengthAdjust="spacingAndGlyphs">5000</text>
<text x="245.00" y="610.75" font-size="16.24" text-anchor="middle" textLength="52.17" lengthAdjust="spacingAndGlyphs">10000</text>
<text x="327.25" y="610.75" font-size="16.24" text-anchor="middle" textLength="52.17" lengthAdjust="spacingAndGlyphs">15000</text>
<text x="409.50" y="610.75" font-size="16.24" text-anchor="middle" textLength="52.17" lengthAdjust="spacingAndGlyphs">20000</text>
<text x="59.30" y="461.75" font-size="16.24" text-anchor="end" textLength="20.87" lengthAdjust="spacingAndGlyphs">10</text>
<text x="57.30" y="451.55" font-size="13.96" text-anchor="start" textLength="8.97" lengthAdjust="spacingAndGlyphs">1</text>
<text x="59.30" y="553.00" font-size="16.24" text-anchor="end" textLength="20.87" lengthAdjust="spacingAndGlyphs">10</text>
<text x="57.30" y="542.80" font-size="13.96" text-anchor="start" textLength="8.97" lengthAdjust="spacingAndGlyphs">0</text>
<text x="245.10" y="635.50" font-size="22.96" text-anchor="middle" textLength="92.19" lengthAdjust="spacingAndGlyphs">iteration</text>
<text x="29.30" y="484.60" font-size="22.96" text-anchor="middle" textLength="111.65" lengthAdjust="spacingAndGlyphs" transform="rotate(-90 29.30 484.60)">rel cov err</text>
<text x="220" y="694.4" font-family="Liberation Serif" font-size="31" text-anchor="middle">(d)</text>
<path d="M537.75 376.25V592.4 M621.50 376.25V592.4 M705.25 376.25V592.4 M789.00 376.25V592.4 M872.75 376.25V592.4 M528 390.75H882.5 M528 439.50H882.5 M528 488.25H882.5 M528 537.00H882.5 M528 585.75H882.5" stroke="#000" stroke-opacity="0.05" stroke-width="0.9" fill="none"/>
<polygon points="537.75,549.72 541.10,537.68 544.45,533.50 547.80,538.70 551.15,544.49 554.50,548.85 557.85,548.03 561.20,549.84 564.55,552.62 567.90,553.80 571.25,552.53 574.60,553.21 577.95,553.62 581.30,552.26 584.65,552.04 588.00,552.54 591.35,551.62 594.70,549.91 598.05,549.20 601.40,547.37 604.75,544.59 608.10,543.56 611.45,543.33 614.80,541.85 618.15,539.00 621.50,538.56 624.85,538.77 628.20,537.61 631.55,535.81 634.90,535.41 638.25,535.26 641.60,534.12 644.95,532.16 648.30,531.45 651.65,531.38 655.00,530.64 658.35,531.98 661.70,531.31 665.05,529.91 668.40,531.05 671.75,530.86 675.10,530.55 678.45,531.23 681.80,531.37 685.15,530.72 688.50,529.85 691.85,529.86 695.20,529.39 698.55,529.88 701.90,529.34 705.25,528.28 708.60,529.50 711.95,530.29 715.30,529.70 718.65,530.58 722.00,531.64 725.35,530.62 728.70,530.18 732.05,530.21 735.40,529.90 738.75,529.89 742.10,530.54 745.45,530.38 748.80,530.14 752.15,530.47 755.50,531.33 758.85,530.80 762.20,528.60 765.55,528.57 768.90,529.47 772.25,529.62 775.60,529.47 778.95,530.36 782.30,530.87 785.65,530.65 789.00,531.62 792.35,530.65 795.70,528.19 799.05,528.46 802.40,529.84 805.75,531.56 809.10,531.72 812.45,530.27 815.80,529.92 819.15,530.67 822.50,529.55 825.85,528.58 829.20,528.68 832.55,528.86 835.90,529.76 839.25,529.50 842.60,529.11 845.95,529.99 849.30,531.56 852.65,531.92 856.00,530.82 859.35,529.46 862.70,529.06 866.05,529.74 869.40,530.05 872.75,528.82 872.75,531.25 869.40,531.92 866.05,531.64 862.70,531.31 859.35,531.69 856.00,532.52 852.65,533.38 849.30,533.07 845.95,532.05 842.60,530.69 839.25,530.80 835.90,531.50 832.55,530.45 829.20,530.50 825.85,531.31 822.50,531.97 819.15,532.15 815.80,531.62 812.45,531.73 809.10,532.73 805.75,532.56 802.40,531.78 799.05,531.24 795.70,530.95 792.35,532.50 789.00,532.71 785.65,532.70 782.30,532.89 778.95,531.50 775.60,531.53 772.25,531.52 768.90,530.86 765.55,530.56 762.20,530.67 758.85,532.20 755.50,532.45 752.15,532.28 748.80,532.20 745.45,532.46 742.10,532.58 738.75,531.81 735.40,531.53 732.05,531.10 728.70,531.42 725.35,532.85 722.00,533.31 718.65,531.55 715.30,531.71 711.95,533.81 708.60,532.08 705.25,530.20 701.90,530.91 698.55,531.20 695.20,531.62 691.85,531.64 688.50,531.31 685.15,531.81 681.80,532.28 678.45,532.69 675.10,531.78 671.75,531.82 668.40,532.25 665.05,532.01 661.70,533.21 658.35,532.81 655.00,531.80 651.65,533.26 648.30,533.76 644.95,534.71 641.60,534.75 638.25,535.54 634.90,536.98 631.55,538.07 628.20,540.32 624.85,540.69 621.50,540.22 618.15,540.79 614.80,543.40 611.45,545.36 608.10,545.50 604.75,546.40 601.40,549.25 598.05,550.87 594.70,551.91 591.35,553.35 588.00,553.42 584.65,552.89 581.30,554.25 577.95,555.58 574.60,554.84 571.25,554.33 567.90,554.78 564.55,553.91 561.20,551.75 557.85,549.65 554.50,551.02 551.15,546.21 547.80,539.91 544.45,534.39 541.10,538.03 537.75,550.00" fill="#1f78b4" fill-opacity="0.5" stroke="none"/>
<polyline points="537.75,549.80 541.10,537.86 544.45,534.03 547.80,539.49 551.15,545.17 554.50,549.73 557.85,549.05 561.20,550.94 564.55,553.22 567.90,554.32 571.25,553.68 574.60,553.75 577.95,554.40 581.30,553.58 584.65,552.62 588.00,552.93 591.35,552.22 594.70,550.59 598.05,549.59 601.40,548.10 604.75,545.57 608.10,544.51 611.45,544.24 614.80,542.70 618.15,540.20 621.50,539.63 624.85,539.42 628.20,538.26 631.55,536.92 634.90,536.60 638.25,535.40 641.60,534.36 644.95,533.34 648.30,532.43 651.65,531.97 655.00,531.04 658.35,532.26 661.70,532.03 665.05,530.99 668.40,531.84 671.75,531.35 675.10,530.77 678.45,531.46 681.80,531.50 685.15,531.49 688.50,530.85 691.85,531.14 695.20,530.86 698.55,530.62 701.90,530.54 705.25,529.59 708.60,530.89 711.95,532.19 715.30,530.97 718.65,531.12 722.00,532.16 725.35,531.76 728.70,531.28 732.05,530.97 735.40,530.90 738.75,531.28 742.10,532.01 745.45,531.09 748.80,530.76 752.15,531.35 755.50,531.56 758.85,531.35 762.20,530.10 765.55,529.96 768.90,530.05 772.25,530.31 775.60,530.79 778.95,530.95 782.30,531.66 785.65,532.18 789.00,532.52 792.35,531.40 795.70,529.39 799.05,529.91 802.40,531.06 805.75,532.28 809.10,532.44 812.45,531.07 815.80,531.08 819.15,531.75 822.50,530.69 825.85,529.76 829.20,529.18 832.55,529.34 835.90,530.56 839.25,530.36 842.60,530.10 845.95,530.78 849.30,531.70 852.65,532.06 856.00,531.68 859.35,530.87 862.70,530.25 866.05,530.69 869.40,530.95 872.75,529.83" fill="none" stroke="#23679b" stroke-opacity="1" stroke-width="0.85" stroke-linejoin="round"/>
<polygon points="537.75,484.63 541.10,483.91 544.45,487.56 547.80,489.15 551.15,490.07 554.50,489.05 557.85,493.80 561.20,495.71 564.55,499.99 567.90,497.86 571.25,499.53 574.60,497.82 577.95,497.89 581.30,495.55 584.65,495.72 588.00,493.88 591.35,494.38 594.70,493.49 598.05,494.20 601.40,492.74 604.75,492.19 608.10,492.92 611.45,491.55 614.80,489.33 618.15,485.62 621.50,484.51 624.85,482.32 628.20,481.75 631.55,480.91 634.90,480.91 638.25,478.73 641.60,477.71 644.95,477.09 648.30,476.48 651.65,475.85 655.00,473.68 658.35,473.61 661.70,473.15 665.05,474.53 668.40,474.07 671.75,475.03 675.10,474.84 678.45,474.25 681.80,472.01 685.15,472.59 688.50,474.80 691.85,477.91 695.20,476.51 698.55,474.79 701.90,474.09 705.25,475.64 708.60,476.10 711.95,474.84 715.30,476.06 718.65,476.17 722.00,477.13 725.35,474.90 728.70,473.09 732.05,473.53 735.40,473.09 738.75,474.34 742.10,473.17 745.45,473.31 748.80,474.80 752.15,473.96 755.50,473.69 758.85,472.40 762.20,474.76 765.55,476.04 768.90,478.42 772.25,478.27 775.60,478.33 778.95,476.25 782.30,474.55 785.65,473.42 789.00,474.61 792.35,476.96 795.70,477.63 799.05,476.09 802.40,473.82 805.75,473.46 809.10,473.69 812.45,472.59 815.80,472.66 819.15,472.85 822.50,475.23 825.85,476.25 829.20,475.89 832.55,475.80 835.90,474.87 839.25,474.59 842.60,475.27 845.95,473.93 849.30,473.84 852.65,471.98 856.00,474.21 859.35,474.19 862.70,474.62 866.05,473.74 869.40,475.68 872.75,475.44 872.75,486.44 869.40,485.63 866.05,484.46 862.70,484.03 859.35,483.95 856.00,485.71 852.65,485.31 849.30,485.93 845.95,485.49 842.60,485.98 839.25,486.37 835.90,489.90 832.55,490.51 829.20,490.62 825.85,490.07 822.50,488.21 819.15,487.96 815.80,485.09 812.45,486.42 809.10,485.82 805.75,485.80 802.40,485.09 799.05,487.08 795.70,488.02 792.35,488.14 789.00,487.43 785.65,486.10 782.30,485.51 778.95,484.99 775.60,487.67 772.25,488.54 768.90,490.95 765.55,488.25 762.20,487.23 758.85,483.70 755.50,484.19 752.15,484.72 748.80,487.77 745.45,489.56 742.10,488.35 738.75,485.80 735.40,483.02 732.05,484.32 728.70,485.27 725.35,486.93 722.00,488.04 718.65,488.47 715.30,484.63 711.95,484.10 708.60,484.10 705.25,487.00 701.90,486.65 698.55,487.53 695.20,490.25 691.85,490.50 688.50,489.89 685.15,488.10 681.80,486.66 678.45,485.62 675.10,485.68 671.75,486.64 668.40,486.79 665.05,487.37 661.70,487.02 658.35,488.45 655.00,488.36 651.65,489.44 648.30,489.24 644.95,488.66 641.60,489.80 638.25,491.64 634.90,492.66 631.55,493.99 628.20,492.63 624.85,494.99 621.50,496.50 618.15,498.96 614.80,500.82 611.45,503.54 608.10,505.11 604.75,506.39 601.40,506.92 598.05,508.85 594.70,510.53 591.35,511.24 588.00,512.19 584.65,510.70 581.30,507.86 577.95,506.85 574.60,509.13 571.25,513.15 567.90,514.72 564.55,515.00 561.20,511.41 557.85,507.76 554.50,503.96 551.15,502.45 547.80,500.61 544.45,497.73 541.10,492.25 537.75,485.45" fill="#a6cee3" fill-opacity="0.5" stroke="none"/>
<polyline points="537.75,485.00 541.10,487.88 544.45,491.41 547.80,494.02 551.15,496.32 554.50,498.34 557.85,500.50 561.20,501.82 564.55,504.35 567.90,504.55 571.25,504.66 574.60,503.16 577.95,502.97 581.30,503.56 584.65,504.53 588.00,503.59 591.35,502.39 594.70,500.88 598.05,500.44 601.40,497.94 604.75,497.21 608.10,496.59 611.45,496.87 614.80,495.06 618.15,493.48 621.50,491.29 624.85,489.83 628.20,487.91 631.55,487.95 634.90,487.31 638.25,486.80 641.60,485.57 644.95,484.45 648.30,483.50 651.65,482.70 655.00,481.66 658.35,481.09 661.70,481.06 665.05,480.70 668.40,480.76 671.75,480.75 675.10,480.28 678.45,480.44 681.80,479.90 685.15,481.20 688.50,482.08 691.85,482.55 695.20,481.86 698.55,480.46 701.90,479.96 705.25,480.47 708.60,479.66 711.95,480.37 715.30,480.64 718.65,481.53 722.00,481.43 725.35,481.18 728.70,480.57 732.05,479.61 735.40,479.46 738.75,480.18 742.10,481.05 745.45,480.55 748.80,481.18 752.15,480.22 755.50,479.94 758.85,478.82 762.20,480.13 765.55,481.06 768.90,482.35 772.25,481.84 775.60,481.46 778.95,480.50 782.30,480.59 785.65,480.95 789.00,481.40 792.35,480.97 795.70,480.65 799.05,479.67 802.40,478.81 805.75,478.49 809.10,479.07 812.45,479.99 815.80,480.01 819.15,480.71 822.50,481.24 825.85,481.99 829.20,482.23 832.55,481.86 835.90,481.55 839.25,480.33 842.60,480.44 845.95,479.93 849.30,480.54 852.65,479.43 856.00,480.30 859.35,479.34 862.70,479.76 866.05,478.81 869.40,479.42 872.75,479.62" fill="none" stroke="#8db6cc" stroke-opacity="1" stroke-width="0.85" stroke-linejoin="round"/>
<polygon points="537.75,456.31 541.10,509.85 544.45,545.03 547.80,560.57 551.15,571.26 554.50,577.70 557.85,580.13 561.20,581.52 564.55,582.41 567.90,583.36 571.25,582.20 574.60,581.42 577.95,582.21 581.30,584.03 584.65,583.78 588.00,580.99 591.35,581.02 594.70,580.13 598.05,578.11 601.40,579.25 604.75,579.03 608.10,577.11 611.45,577.31 614.80,578.14 618.15,578.60 621.50,577.43 624.85,576.52 628.20,575.28 631.55,574.29 634.90,574.46 638.25,575.10 641.60,575.10 644.95,575.41 648.30,575.78 651.65,575.43 655.00,575.19 658.35,574.23 661.70,574.76 665.05,575.58 668.40,575.60 671.75,574.33 675.10,573.93 678.45,574.78 681.80,574.82 685.15,574.51 688.50,574.76 691.85,575.46 695.20,573.88 698.55,573.30 701.90,573.26 705.25,572.30 708.60,572.66 711.95,572.89 715.30,572.75 718.65,573.02 722.00,572.99 725.35,573.96 728.70,573.80 732.05,572.62 735.40,572.84 738.75,573.10 742.10,572.84 745.45,572.85 748.80,574.32 752.15,574.62 755.50,574.02 758.85,572.66 762.20,571.90 765.55,573.19 768.90,574.04 772.25,572.71 775.60,572.41 778.95,574.30 782.30,574.36 785.65,574.15 789.00,573.48 792.35,573.34 795.70,574.32 799.05,572.85 802.40,572.04 805.75,572.63 809.10,572.44 812.45,572.09 815.80,572.05 819.15,572.54 822.50,572.26 825.85,572.57 829.20,572.79 832.55,572.01 835.90,572.65 839.25,573.07 842.60,572.31 845.95,573.85 849.30,573.24 852.65,572.46 856.00,572.92 859.35,572.01 862.70,572.47 866.05,571.47 869.40,571.10 872.75,571.37 872.75,574.21 869.40,574.00 866.05,573.84 862.70,574.33 859.35,574.68 856.00,574.73 852.65,573.56 849.30,574.89 845.95,575.09 842.60,573.70 839.25,574.54 835.90,574.79 832.55,575.05 829.20,574.95 825.85,573.59 822.50,573.53 819.15,574.71 815.80,574.95 812.45,574.80 809.10,574.50 805.75,574.61 802.40,574.72 799.05,576.77 795.70,577.66 792.35,576.14 789.00,576.16 785.65,575.68 782.30,575.54 778.95,575.80 775.60,574.31 772.25,574.96 768.90,575.99 765.55,574.50 762.20,573.53 758.85,574.96 755.50,575.94 752.15,575.98 748.80,577.13 745.45,577.07 742.10,576.53 738.75,576.00 735.40,575.93 732.05,576.59 728.70,576.22 725.35,575.80 722.00,576.40 718.65,576.53 715.30,575.57 711.95,574.52 708.60,573.56 705.25,574.17 701.90,576.33 698.55,575.84 695.20,576.18 691.85,577.94 688.50,576.17 685.15,575.75 681.80,576.28 678.45,577.27 675.10,576.71 671.75,576.50 668.40,578.32 665.05,577.66 661.70,577.16 658.35,576.48 655.00,576.08 651.65,577.33 648.30,577.18 644.95,577.10 641.60,577.98 638.25,577.64 634.90,577.25 631.55,576.36 628.20,576.23 624.85,577.35 621.50,579.49 618.15,581.11 614.80,580.01 611.45,578.83 608.10,579.40 604.75,580.53 601.40,581.41 598.05,581.53 594.70,582.64 591.35,583.04 588.00,582.65 584.65,585.56 581.30,585.78 577.95,584.57 574.60,584.14 571.25,584.36 567.90,584.90 564.55,584.11 561.20,582.63 557.85,580.76 554.50,578.52 551.15,571.60 547.80,560.81 544.45,545.33 541.10,510.12 537.75,456.77" fill="#6a3d9a" fill-opacity="0.5" stroke="none"/>
<polyline points="537.75,456.60 541.10,510.01 544.45,545.22 547.80,560.77 551.15,571.47 554.50,578.13 557.85,580.56 561.20,582.28 564.55,583.51 567.90,584.08 571.25,583.15 574.60,582.96 577.95,583.79 581.30,584.80 584.65,584.26 588.00,581.56 591.35,581.19 594.70,580.89 598.05,579.59 601.40,580.08 604.75,580.24 608.10,578.42 611.45,577.88 614.80,578.81 618.15,579.18 621.50,577.86 624.85,576.93 628.20,576.07 631.55,575.84 634.90,575.96 638.25,576.42 641.60,576.79 644.95,576.53 648.30,576.25 651.65,576.57 655.00,575.91 658.35,575.32 661.70,576.14 665.05,576.26 668.40,576.59 671.75,575.77 675.10,575.43 678.45,575.97 681.80,575.76 685.15,575.59 688.50,575.78 691.85,576.08 695.20,575.05 698.55,574.82 701.90,575.10 705.25,573.69 708.60,573.05 711.95,573.61 715.30,574.26 718.65,574.89 722.00,574.82 725.35,574.74 728.70,574.66 732.05,574.67 735.40,574.46 738.75,574.69 742.10,575.10 745.45,575.51 748.80,576.17 752.15,575.82 755.50,575.64 758.85,574.32 762.20,573.07 765.55,573.73 768.90,574.98 772.25,574.22 775.60,573.61 778.95,574.91 782.30,574.73 785.65,575.31 789.00,575.28 792.35,574.68 795.70,575.64 799.05,574.64 802.40,573.64 805.75,574.06 809.10,573.99 812.45,573.73 815.80,573.76 819.15,573.59 822.50,572.95 825.85,573.36 829.20,573.95 832.55,573.78 835.90,574.07 839.25,573.92 842.60,573.09 845.95,574.31 849.30,573.80 852.65,572.85 856.00,573.81 859.35,573.74 862.70,573.61 866.05,572.40 869.40,572.84 872.75,573.39" fill="none" stroke="#5a3a88" stroke-opacity="1" stroke-width="0.85" stroke-linejoin="round"/>
<polygon points="537.75,383.57 541.10,437.94 544.45,477.16 547.80,482.08 551.15,482.09 554.50,483.65 557.85,486.23 561.20,486.32 564.55,488.47 567.90,487.51 571.25,490.15 574.60,490.62 577.95,490.79 581.30,490.61 584.65,492.64 588.00,491.80 591.35,492.46 594.70,491.44 598.05,494.82 601.40,495.03 604.75,492.77 608.10,491.38 611.45,493.34 614.80,495.85 618.15,496.78 621.50,494.88 624.85,494.71 628.20,492.60 631.55,496.40 634.90,498.96 638.25,500.26 641.60,495.70 644.95,493.81 648.30,494.91 651.65,498.05 655.00,496.61 658.35,499.12 661.70,498.87 665.05,499.67 668.40,497.88 671.75,500.80 675.10,505.47 678.45,501.42 681.80,498.82 685.15,493.76 688.50,498.88 691.85,497.59 695.20,499.04 698.55,497.38 701.90,497.25 705.25,498.18 708.60,499.68 711.95,499.07 715.30,497.16 718.65,496.28 722.00,496.44 725.35,498.94 728.70,496.37 732.05,497.41 735.40,492.06 738.75,492.69 742.10,492.92 745.45,496.54 748.80,498.20 752.15,497.09 755.50,495.56 758.85,497.00 762.20,496.07 765.55,496.79 768.90,496.50 772.25,497.21 775.60,497.59 778.95,496.43 782.30,499.27 785.65,500.34 789.00,500.33 792.35,496.96 795.70,497.10 799.05,494.05 802.40,495.69 805.75,492.79 809.10,495.34 812.45,496.31 815.80,499.23 819.15,499.15 822.50,498.02 825.85,498.55 829.20,500.30 832.55,501.42 835.90,500.41 839.25,498.40 842.60,497.18 845.95,494.55 849.30,493.88 852.65,492.91 856.00,494.91 859.35,495.57 862.70,499.02 866.05,497.38 869.40,499.24 872.75,497.64 872.75,514.77 869.40,514.38 866.05,514.57 862.70,513.95 859.35,513.96 856.00,513.14 852.65,515.11 849.30,516.67 845.95,515.70 842.60,514.56 839.25,513.79 835.90,515.30 832.55,514.78 829.20,514.32 825.85,512.95 822.50,512.57 819.15,512.72 815.80,513.16 812.45,513.85 809.10,514.37 805.75,514.65 802.40,514.33 799.05,514.36 795.70,514.21 792.35,515.05 789.00,514.59 785.65,513.61 782.30,513.29 778.95,513.51 775.60,512.73 772.25,513.84 768.90,514.16 765.55,515.99 762.20,513.98 758.85,513.14 755.50,512.65 752.15,514.68 748.80,516.16 745.45,517.00 742.10,516.13 738.75,516.13 735.40,514.22 732.05,512.57 728.70,511.29 725.35,513.11 722.00,515.11 718.65,515.39 715.30,515.35 711.95,515.53 708.60,515.17 705.25,513.10 701.90,513.41 698.55,513.46 695.20,515.29 691.85,513.94 688.50,511.91 685.15,511.60 681.80,511.99 678.45,514.52 675.10,514.64 671.75,513.95 668.40,513.09 665.05,512.92 661.70,513.26 658.35,515.95 655.00,515.30 651.65,514.72 648.30,511.27 644.95,512.38 641.60,512.55 638.25,513.17 634.90,512.91 631.55,512.64 628.20,512.99 624.85,513.12 621.50,512.32 618.15,512.94 614.80,511.81 611.45,513.77 608.10,513.98 604.75,515.56 601.40,515.38 598.05,513.69 594.70,511.86 591.35,511.14 588.00,511.66 584.65,511.67 581.30,510.65 577.95,510.81 574.60,509.73 571.25,508.45 567.90,507.61 564.55,506.25 561.20,506.62 557.85,503.82 554.50,504.05 551.15,499.62 547.80,496.59 544.45,488.19 541.10,446.24 537.75,383.89" fill="#cab2d6" fill-opacity="0.5" stroke="none"/>
<polyline points="537.75,383.70 541.10,441.18 544.45,481.70 547.80,489.02 551.15,491.16 554.50,493.86 557.85,494.31 561.20,496.03 564.55,497.81 567.90,498.41 571.25,499.04 574.60,500.06 577.95,500.96 581.30,501.53 584.65,501.71 588.00,501.39 591.35,502.03 594.70,502.88 598.05,504.81 601.40,505.44 604.75,504.99 608.10,504.61 611.45,504.90 614.80,505.24 618.15,506.00 621.50,506.53 624.85,507.27 628.20,508.06 631.55,508.47 634.90,508.83 638.25,508.68 641.60,508.30 644.95,507.94 648.30,507.85 651.65,508.87 655.00,508.87 658.35,508.95 661.70,508.24 665.05,508.44 668.40,508.90 671.75,509.07 675.10,509.69 678.45,509.62 681.80,509.17 685.15,508.27 688.50,508.18 691.85,509.31 695.20,510.96 698.55,509.73 701.90,509.48 705.25,509.27 708.60,510.99 711.95,511.00 715.30,510.38 718.65,509.73 722.00,509.03 725.35,508.43 728.70,507.94 732.05,509.34 735.40,510.03 738.75,511.05 742.10,510.77 745.45,511.44 748.80,511.02 752.15,510.24 755.50,509.05 758.85,509.46 762.20,509.77 765.55,510.56 768.90,509.23 772.25,509.28 775.60,508.60 778.95,510.22 782.30,510.42 785.65,511.11 789.00,510.58 792.35,511.01 795.70,510.63 799.05,510.37 802.40,510.28 805.75,509.87 809.10,510.50 812.45,511.22 815.80,510.89 819.15,510.12 822.50,509.35 825.85,510.36 829.20,511.60 832.55,511.24 835.90,511.12 839.25,509.79 842.60,510.58 845.95,511.00 849.30,511.61 852.65,510.08 856.00,508.56 859.35,509.42 862.70,509.66 866.05,510.87 869.40,511.24 872.75,511.63" fill="none" stroke="#ac9cc0" stroke-opacity="1" stroke-width="0.85" stroke-linejoin="round"/>
<polygon points="537.75,485.02 541.10,519.02 544.45,545.43 547.80,560.68 551.15,571.07 554.50,575.59 557.85,576.62 561.20,579.81 564.55,582.02 567.90,582.63 571.25,583.41 574.60,584.38 577.95,585.40 581.30,584.59 584.65,583.38 588.00,583.19 591.35,583.94 594.70,584.35 598.05,584.02 601.40,583.63 604.75,583.68 608.10,584.44 611.45,584.94 614.80,584.51 618.15,583.59 621.50,584.03 624.85,584.84 628.20,584.54 631.55,583.68 634.90,583.63 638.25,584.33 641.60,584.08 644.95,583.60 648.30,584.42 651.65,584.28 655.00,583.91 658.35,584.25 661.70,584.39 665.05,584.71 668.40,584.56 671.75,584.07 675.10,584.03 678.45,584.09 681.80,583.78 685.15,584.01 688.50,583.67 691.85,583.81 695.20,583.66 698.55,583.68 701.90,584.72 705.25,584.66 708.60,583.98 711.95,583.98 715.30,584.29 718.65,584.32 722.00,584.46 725.35,584.04 728.70,584.09 732.05,584.33 735.40,584.11 738.75,583.74 742.10,584.24 745.45,584.55 748.80,584.54 752.15,584.72 755.50,583.91 758.85,584.11 762.20,584.62 765.55,584.04 768.90,583.88 772.25,583.98 775.60,584.45 778.95,584.33 782.30,584.24 785.65,584.81 789.00,584.77 792.35,584.63 795.70,584.08 799.05,584.05 802.40,584.08 805.75,583.64 809.10,583.87 812.45,584.23 815.80,584.51 819.15,584.56 822.50,584.68 825.85,584.84 829.20,584.47 832.55,584.73 835.90,584.64 839.25,583.89 842.60,584.43 845.95,584.89 849.30,584.41 852.65,583.60 856.00,583.95 859.35,584.78 862.70,585.03 866.05,584.53 869.40,584.60 872.75,584.45 872.75,585.52 869.40,585.66 866.05,585.96 862.70,586.21 859.35,585.96 856.00,585.60 852.65,585.41 849.30,586.07 845.95,586.61 842.60,585.87 839.25,585.14 835.90,585.70 832.55,586.14 829.20,585.63 825.85,585.63 822.50,585.93 819.15,586.16 815.80,585.98 812.45,585.59 809.10,585.62 805.75,585.40 802.40,585.32 799.05,585.34 795.70,585.28 792.35,586.12 789.00,586.51 785.65,586.09 782.30,585.77 778.95,585.99 775.60,585.87 772.25,585.59 768.90,585.72 765.55,586.03 762.20,585.72 758.85,585.33 755.50,585.35 752.15,585.84 748.80,586.09 745.45,585.78 742.10,585.15 738.75,584.89 735.40,585.84 732.05,586.51 728.70,586.26 725.35,585.29 722.00,585.41 718.65,585.72 715.30,585.99 711.95,585.84 708.60,585.20 705.25,585.42 701.90,586.02 698.55,585.92 695.20,585.49 691.85,585.86 688.50,586.37 685.15,586.36 681.80,585.83 678.45,585.16 675.10,585.06 671.75,585.33 668.40,585.75 665.05,586.10 661.70,585.75 658.35,585.94 655.00,585.64 651.65,585.26 648.30,585.69 644.95,585.38 641.60,585.67 638.25,585.83 634.90,585.61 631.55,586.10 628.20,586.34 624.85,586.19 621.50,585.71 618.15,585.23 614.80,585.53 611.45,585.81 608.10,585.26 604.75,585.56 601.40,585.95 598.05,585.49 594.70,585.17 591.35,585.10 588.00,584.84 584.65,584.71 581.30,585.81 577.95,586.97 574.60,586.41 571.25,586.79 567.90,586.69 564.55,585.37 561.20,584.52 557.85,583.38 554.50,582.24 551.15,575.52 547.80,563.91 544.45,549.80 541.10,524.08 537.75,489.15" fill="#33a02c" fill-opacity="0.5" stroke="none"/>
<polyline points="537.75,485.40 541.10,520.01 544.45,548.03 547.80,562.64 551.15,572.70 554.50,578.10 557.85,580.14 561.20,582.32 564.55,583.98 567.90,584.88 571.25,584.78 574.60,585.33 577.95,585.85 581.30,584.82 584.65,584.26 588.00,584.39 591.35,584.36 594.70,584.70 598.05,585.11 601.40,584.89 604.75,584.82 608.10,585.03 611.45,585.07 614.80,584.98 618.15,584.84 621.50,585.17 624.85,585.44 628.20,585.25 631.55,584.99 634.90,584.98 638.25,585.11 641.60,584.66 644.95,584.66 648.30,585.31 651.65,585.05 655.00,584.86 658.35,584.85 661.70,585.12 665.05,585.48 668.40,584.89 671.75,584.46 675.10,584.63 678.45,585.06 681.80,585.22 685.15,585.18 688.50,585.01 691.85,585.00 695.20,584.75 698.55,584.85 701.90,585.12 705.25,585.05 708.60,585.09 711.95,585.17 715.30,584.93 718.65,584.95 722.00,585.31 725.35,584.88 728.70,584.98 732.05,585.04 735.40,584.92 738.75,584.58 742.10,584.57 745.45,584.91 748.80,585.20 752.15,585.56 755.50,585.06 758.85,584.94 762.20,585.21 765.55,584.96 768.90,584.92 772.25,584.88 775.60,584.97 778.95,584.97 782.30,585.01 785.65,585.41 789.00,585.52 792.35,585.20 795.70,584.64 799.05,584.85 802.40,584.80 805.75,584.74 809.10,585.04 812.45,585.11 815.80,585.26 819.15,585.21 822.50,585.28 825.85,585.52 829.20,585.36 832.55,585.31 835.90,585.32 839.25,584.86 842.60,585.12 845.95,585.63 849.30,585.02 852.65,584.39 856.00,584.60 859.35,584.88 862.70,585.13 866.05,584.99 869.40,585.24 872.75,585.35" fill="none" stroke="#378c33" stroke-opacity="1" stroke-width="0.85" stroke-linejoin="round"/>
<path d="M528 376.25V592.4" stroke="#8a8a8a" stroke-width="1.0" fill="none"/>
<path d="M527.5 592.4H882.5" stroke="#333" stroke-width="1.0" fill="none"/>
<path d="M537.75 592.4v-3 M621.50 592.4v-3 M705.25 592.4v-3 M789.00 592.4v-3 M872.75 592.4v-3 M528 390.75h3.5 M528 439.50h3.5 M528 488.25h3.5 M528 537.00h3.5 M528 585.75h3.5" stroke="#444" stroke-width="1" fill="none"/>
<text x="537.75" y="610.75" font-size="16.24" text-anchor="middle" textLength="10.43" lengthAdjust="spacingAndGlyphs">0</text>
<text x="621.50" y="610.75" font-size="16.24" text-anchor="middle" textLength="41.74" lengthAdjust="spacingAndGlyphs">5000</text>
<text x="705.25" y="610.75" font-size="16.24" text-anchor="middle" textLength="52.17" lengthAdjust="spacingAndGlyphs">10000</text>
<text x="789.00" y="610.75" font-size="16.24" text-anchor="middle" textLength="52.17" lengthAdjust="spacingAndGlyphs">15000</text>
<text x="872.75" y="610.75" font-size="16.24" text-anchor="middle" textLength="52.17" lengthAdjust="spacingAndGlyphs">20000</text>
<text x="522.80" y="396.75" font-size="16.24" text-anchor="end" textLength="20.87" lengthAdjust="spacingAndGlyphs">20</text>
<text x="522.80" y="445.50" font-size="16.24" text-anchor="end" textLength="20.87" lengthAdjust="spacingAndGlyphs">15</text>
<text x="522.80" y="494.25" font-size="16.24" text-anchor="end" textLength="20.87" lengthAdjust="spacingAndGlyphs">10</text>
<text x="522.80" y="543.00" font-size="16.24" text-anchor="end" textLength="10.43" lengthAdjust="spacingAndGlyphs">5</text>
<text x="522.80" y="591.75" font-size="16.24" text-anchor="end" textLength="10.43" lengthAdjust="spacingAndGlyphs">0</text>
<text x="705.25" y="635.50" font-size="22.96" text-anchor="middle" textLength="92.19" lengthAdjust="spacingAndGlyphs">iteration</text>
<text x="491.40" y="483.80" font-size="22.96" text-anchor="middle" textLength="176.31" lengthAdjust="spacingAndGlyphs" transform="rotate(-90 491.40 483.80)">energy distance</text>
<text x="683.2" y="694.6" font-family="Liberation Serif" font-size="31" text-anchor="middle">(e)</text>
<path d="M1011.50 376.25V592.4 M1092.69 376.25V592.4 M1173.88 376.25V592.4 M1255.06 376.25V592.4 M1336.25 376.25V592.4 M1002 410.00H1345.5 M1002 454.60H1345.5 M1002 499.25H1345.5 M1002 544.00H1345.5 M1002 588.60H1345.5" stroke="#000" stroke-opacity="0.05" stroke-width="0.9" fill="none"/>
<polygon points="1011.50,541.98 1014.75,532.13 1018.00,529.38 1021.24,533.57 1024.49,537.05 1027.74,543.28 1030.98,546.27 1034.23,547.30 1037.48,548.15 1040.73,549.88 1043.97,551.65 1047.22,551.71 1050.47,552.12 1053.72,551.68 1056.96,551.09 1060.21,550.69 1063.46,549.86 1066.71,549.16 1069.95,548.56 1073.20,547.59 1076.45,546.28 1079.70,544.78 1082.94,541.84 1086.19,539.56 1089.44,538.98 1092.69,536.76 1095.93,535.43 1099.18,534.04 1102.43,530.91 1105.68,528.50 1108.92,527.24 1112.17,526.10 1115.42,524.23 1118.67,522.31 1121.91,519.98 1125.16,518.66 1128.41,519.30 1131.66,518.18 1134.90,518.37 1138.15,518.55 1141.40,519.37 1144.65,520.29 1147.89,519.67 1151.14,519.67 1154.39,519.10 1157.64,518.76 1160.88,518.74 1164.13,518.94 1167.38,520.38 1170.63,521.07 1173.88,521.38 1177.12,520.98 1180.37,520.60 1183.62,519.63 1186.87,519.83 1190.11,519.96 1193.36,520.17 1196.61,520.74 1199.86,519.73 1203.10,520.80 1206.35,520.38 1209.60,520.45 1212.85,520.82 1216.09,519.80 1219.34,521.39 1222.59,521.79 1225.84,520.36 1229.08,520.18 1232.33,520.08 1235.58,519.77 1238.83,519.83 1242.07,519.34 1245.32,520.56 1248.57,519.82 1251.82,518.26 1255.06,519.45 1258.31,519.97 1261.56,519.39 1264.81,519.19 1268.05,521.60 1271.30,521.96 1274.55,519.58 1277.80,519.40 1281.04,520.05 1284.29,519.77 1287.54,520.83 1290.78,520.89 1294.03,519.60 1297.28,519.19 1300.53,519.64 1303.78,519.78 1307.02,520.61 1310.27,521.95 1313.52,521.06 1316.76,520.35 1320.01,519.52 1323.26,519.00 1326.51,519.86 1329.76,521.27 1333.00,522.14 1336.25,521.64 1336.25,522.94 1333.00,523.32 1329.76,523.23 1326.51,522.22 1323.26,521.17 1320.01,521.84 1316.76,522.94 1313.52,524.11 1310.27,524.37 1307.02,522.57 1303.78,521.88 1300.53,522.09 1297.28,521.45 1294.03,521.07 1290.78,522.62 1287.54,523.45 1284.29,522.29 1281.04,522.93 1277.80,522.63 1274.55,522.28 1271.30,524.27 1268.05,523.73 1264.81,521.30 1261.56,520.92 1258.31,521.79 1255.06,522.12 1251.82,521.00 1248.57,522.07 1245.32,522.39 1242.07,520.45 1238.83,521.03 1235.58,522.28 1232.33,522.37 1229.08,522.14 1225.84,522.26 1222.59,523.45 1219.34,523.36 1216.09,522.85 1212.85,523.63 1209.60,523.09 1206.35,523.58 1203.10,523.53 1199.86,522.84 1196.61,523.66 1193.36,522.70 1190.11,522.53 1186.87,521.85 1183.62,521.03 1180.37,521.99 1177.12,522.68 1173.88,522.33 1170.63,521.82 1167.38,522.09 1164.13,521.73 1160.88,521.20 1157.64,520.55 1154.39,521.32 1151.14,522.18 1147.89,521.89 1144.65,522.39 1141.40,522.34 1138.15,521.60 1134.90,520.63 1131.66,520.46 1128.41,521.04 1125.16,520.04 1121.91,521.23 1118.67,522.93 1115.42,524.69 1112.17,527.88 1108.92,529.63 1105.68,530.98 1102.43,533.07 1099.18,534.86 1095.93,536.32 1092.69,538.70 1089.44,541.47 1086.19,542.10 1082.94,544.44 1079.70,547.30 1076.45,548.63 1073.20,549.76 1069.95,551.82 1066.71,551.93 1063.46,551.42 1060.21,553.18 1056.96,554.05 1053.72,554.03 1050.47,554.20 1047.22,553.98 1043.97,553.28 1040.73,551.58 1037.48,550.29 1034.23,549.22 1030.98,547.65 1027.74,545.15 1024.49,539.10 1021.24,534.78 1018.00,530.17 1014.75,532.34 1011.50,542.06" fill="#1f78b4" fill-opacity="0.5" stroke="none"/>
<polyline points="1011.50,542.00 1014.75,532.26 1018.00,529.98 1021.24,534.41 1024.49,538.29 1027.74,543.90 1030.98,546.45 1034.23,548.57 1037.48,550.14 1040.73,551.28 1043.97,552.72 1047.22,552.74 1050.47,552.91 1053.72,552.38 1056.96,551.80 1060.21,551.78 1063.46,550.69 1066.71,550.09 1069.95,549.99 1073.20,548.88 1076.45,547.74 1079.70,546.57 1082.94,543.48 1086.19,540.58 1089.44,539.86 1092.69,537.91 1095.93,536.17 1099.18,534.71 1102.43,532.55 1105.68,530.14 1108.92,528.58 1112.17,527.00 1115.42,524.38 1118.67,522.46 1121.91,520.26 1125.16,519.16 1128.41,519.61 1131.66,519.27 1134.90,519.76 1138.15,520.39 1141.40,521.25 1144.65,521.87 1147.89,521.24 1151.14,521.05 1154.39,520.26 1157.64,519.59 1160.88,520.23 1164.13,520.59 1167.38,521.14 1170.63,521.29 1173.88,521.53 1177.12,521.67 1180.37,521.37 1183.62,520.30 1186.87,520.46 1190.11,520.89 1193.36,521.35 1196.61,521.88 1199.86,521.22 1203.10,522.06 1206.35,521.43 1209.60,521.41 1212.85,522.39 1216.09,521.90 1219.34,522.66 1222.59,522.33 1225.84,521.05 1229.08,521.26 1232.33,520.92 1235.58,520.51 1238.83,520.57 1242.07,520.30 1245.32,522.05 1248.57,521.36 1251.82,519.48 1255.06,520.85 1258.31,521.35 1261.56,520.29 1264.81,520.51 1268.05,522.64 1271.30,522.74 1274.55,520.69 1277.80,521.12 1281.04,521.78 1284.29,521.13 1287.54,522.11 1290.78,522.05 1294.03,520.55 1297.28,520.18 1300.53,520.92 1303.78,520.99 1307.02,521.48 1310.27,522.64 1313.52,522.32 1316.76,521.22 1320.01,520.74 1323.26,520.63 1326.51,520.96 1329.76,522.16 1333.00,522.59 1336.25,521.82" fill="none" stroke="#23679b" stroke-opacity="1" stroke-width="0.85" stroke-linejoin="round"/>
<polygon points="1011.50,478.27 1014.75,478.45 1018.00,479.04 1021.24,483.09 1024.49,487.85 1027.74,493.10 1030.98,494.38 1034.23,498.75 1037.48,502.68 1040.73,503.63 1043.97,504.49 1047.22,505.43 1050.47,505.19 1053.72,506.02 1056.96,507.68 1060.21,506.67 1063.46,504.48 1066.71,506.29 1069.95,505.09 1073.20,500.17 1076.45,501.98 1079.70,502.90 1082.94,502.63 1086.19,496.94 1089.44,493.44 1092.69,490.11 1095.93,490.38 1099.18,486.19 1102.43,481.62 1105.68,477.81 1108.92,473.43 1112.17,473.56 1115.42,474.31 1118.67,470.05 1121.91,464.92 1125.16,462.76 1128.41,463.55 1131.66,462.33 1134.90,463.76 1138.15,462.59 1141.40,463.71 1144.65,463.34 1147.89,462.92 1151.14,460.86 1154.39,460.44 1157.64,461.61 1160.88,462.33 1164.13,463.18 1167.38,460.32 1170.63,458.80 1173.88,459.27 1177.12,457.70 1180.37,454.00 1183.62,455.54 1186.87,459.26 1190.11,460.36 1193.36,458.17 1196.61,457.46 1199.86,457.40 1203.10,459.71 1206.35,462.16 1209.60,463.75 1212.85,464.00 1216.09,460.94 1219.34,459.60 1222.59,461.04 1225.84,457.34 1229.08,457.28 1232.33,457.27 1235.58,459.29 1238.83,460.56 1242.07,460.63 1245.32,460.48 1248.57,463.43 1251.82,462.53 1255.06,460.18 1258.31,460.05 1261.56,458.95 1264.81,459.34 1268.05,460.30 1271.30,461.38 1274.55,458.35 1277.80,456.15 1281.04,458.10 1284.29,457.30 1287.54,459.23 1290.78,460.79 1294.03,457.69 1297.28,459.51 1300.53,463.82 1303.78,460.95 1307.02,456.56 1310.27,456.32 1313.52,457.45 1316.76,460.04 1320.01,461.63 1323.26,460.94 1326.51,459.39 1329.76,462.95 1333.00,464.66 1336.25,461.92 1336.25,471.15 1333.00,472.24 1329.76,470.20 1326.51,466.42 1323.26,467.87 1320.01,470.25 1316.76,470.58 1313.52,471.64 1310.27,473.14 1307.02,470.59 1303.78,472.71 1300.53,473.03 1297.28,470.36 1294.03,468.55 1290.78,472.22 1287.54,471.75 1284.29,468.94 1281.04,471.74 1277.80,469.01 1274.55,472.24 1271.30,471.48 1268.05,472.45 1264.81,468.18 1261.56,468.14 1258.31,469.43 1255.06,470.22 1251.82,472.85 1248.57,470.91 1245.32,469.44 1242.07,467.62 1238.83,469.05 1235.58,468.25 1232.33,470.01 1229.08,469.35 1225.84,472.18 1222.59,475.76 1219.34,473.66 1216.09,471.66 1212.85,473.94 1209.60,475.20 1206.35,475.52 1203.10,474.27 1199.86,472.00 1196.61,469.52 1193.36,470.59 1190.11,472.45 1186.87,472.46 1183.62,467.88 1180.37,466.34 1177.12,470.51 1173.88,473.57 1170.63,471.52 1167.38,473.26 1164.13,472.70 1160.88,474.40 1157.64,474.03 1154.39,475.35 1151.14,474.64 1147.89,473.73 1144.65,472.69 1141.40,471.15 1138.15,470.82 1134.90,471.54 1131.66,471.04 1128.41,470.96 1125.16,472.37 1121.91,475.56 1118.67,482.32 1115.42,484.86 1112.17,484.51 1108.92,483.69 1105.68,487.87 1102.43,489.49 1099.18,495.88 1095.93,498.95 1092.69,501.30 1089.44,501.89 1086.19,506.49 1082.94,509.14 1079.70,511.58 1076.45,512.02 1073.20,514.07 1069.95,516.88 1066.71,517.31 1063.46,513.57 1060.21,517.31 1056.96,518.82 1053.72,517.33 1050.47,519.15 1047.22,518.96 1043.97,518.74 1040.73,517.43 1037.48,517.44 1034.23,512.57 1030.98,507.21 1027.74,505.47 1024.49,499.74 1021.24,493.42 1018.00,486.58 1014.75,484.26 1011.50,478.96" fill="#a6cee3" fill-opacity="0.5" stroke="none"/>
<polyline points="1011.50,478.60 1014.75,481.55 1018.00,484.31 1021.24,487.87 1024.49,493.93 1027.74,499.39 1030.98,501.29 1034.23,505.06 1037.48,508.48 1040.73,509.92 1043.97,511.81 1047.22,512.41 1050.47,511.99 1053.72,511.65 1056.96,512.78 1060.21,511.20 1063.46,508.35 1066.71,511.10 1069.95,511.59 1073.20,507.52 1076.45,507.39 1079.70,507.82 1082.94,506.74 1086.19,503.67 1089.44,498.54 1092.69,495.39 1095.93,493.53 1099.18,489.76 1102.43,485.14 1105.68,482.37 1108.92,477.63 1112.17,477.56 1115.42,478.78 1118.67,475.52 1121.91,469.99 1125.16,467.34 1128.41,467.99 1131.66,467.61 1134.90,468.34 1138.15,466.96 1141.40,467.29 1144.65,467.09 1147.89,466.52 1151.14,466.28 1154.39,466.58 1157.64,467.24 1160.88,467.65 1164.13,468.75 1167.38,467.99 1170.63,465.83 1173.88,465.46 1177.12,463.26 1180.37,459.76 1183.62,461.10 1186.87,464.22 1190.11,464.98 1193.36,463.64 1196.61,463.79 1199.86,465.33 1203.10,467.13 1206.35,467.48 1209.60,466.32 1212.85,467.28 1216.09,465.88 1219.34,466.31 1222.59,466.44 1225.84,461.80 1229.08,461.50 1232.33,463.63 1235.58,464.49 1238.83,464.33 1242.07,463.92 1245.32,463.86 1248.57,466.08 1251.82,466.03 1255.06,465.36 1258.31,466.48 1261.56,465.41 1264.81,464.28 1268.05,465.81 1271.30,465.79 1274.55,464.11 1277.80,463.70 1281.04,465.01 1284.29,465.26 1287.54,467.06 1290.78,469.01 1294.03,465.93 1297.28,466.01 1300.53,469.10 1303.78,466.99 1307.02,464.29 1310.27,466.48 1313.52,466.23 1316.76,466.15 1320.01,466.10 1323.26,464.28 1326.51,464.70 1329.76,467.96 1333.00,469.90 1336.25,467.63" fill="none" stroke="#8db6cc" stroke-opacity="1" stroke-width="0.85" stroke-linejoin="round"/>
<polygon points="1011.50,452.24 1014.75,509.88 1018.00,550.08 1021.24,564.37 1024.49,574.01 1027.74,579.28 1030.98,580.62 1034.23,582.36 1037.48,582.09 1040.73,581.28 1043.97,583.08 1047.22,583.96 1050.47,582.88 1053.72,580.75 1056.96,578.32 1060.21,577.33 1063.46,577.26 1066.71,576.83 1069.95,575.19 1073.20,573.86 1076.45,572.33 1079.70,572.63 1082.94,572.84 1086.19,570.18 1089.44,569.92 1092.69,570.14 1095.93,569.87 1099.18,570.57 1102.43,570.91 1105.68,570.33 1108.92,571.09 1112.17,571.41 1115.42,570.52 1118.67,570.83 1121.91,569.99 1125.16,569.72 1128.41,569.18 1131.66,567.74 1134.90,568.52 1138.15,569.94 1141.40,570.82 1144.65,570.43 1147.89,569.61 1151.14,569.40 1154.39,570.59 1157.64,569.89 1160.88,567.77 1164.13,568.15 1167.38,570.14 1170.63,571.03 1173.88,569.34 1177.12,569.38 1180.37,569.38 1183.62,569.26 1186.87,569.60 1190.11,568.63 1193.36,567.07 1196.61,567.04 1199.86,566.96 1203.10,565.23 1206.35,566.78 1209.60,568.77 1212.85,568.02 1216.09,567.38 1219.34,567.73 1222.59,567.49 1225.84,567.59 1229.08,566.99 1232.33,566.79 1235.58,566.88 1238.83,566.39 1242.07,566.58 1245.32,566.17 1248.57,566.43 1251.82,567.30 1255.06,567.50 1258.31,566.23 1261.56,564.95 1264.81,566.84 1268.05,568.89 1271.30,567.71 1274.55,567.05 1277.80,568.20 1281.04,567.43 1284.29,567.66 1287.54,568.08 1290.78,567.05 1294.03,566.25 1297.28,567.07 1300.53,568.38 1303.78,567.73 1307.02,567.68 1310.27,567.65 1313.52,567.84 1316.76,568.22 1320.01,567.58 1323.26,566.89 1326.51,566.72 1329.76,566.91 1333.00,566.02 1336.25,565.29 1336.25,568.39 1333.00,567.24 1329.76,567.85 1326.51,568.97 1323.26,568.37 1320.01,568.56 1316.76,569.71 1313.52,569.60 1310.27,569.34 1307.02,569.54 1303.78,569.64 1300.53,570.58 1297.28,569.94 1294.03,568.29 1290.78,567.96 1287.54,569.57 1284.29,569.82 1281.04,569.71 1277.80,570.78 1274.55,569.98 1271.30,569.08 1268.05,569.41 1264.81,569.25 1261.56,569.24 1258.31,570.23 1255.06,569.79 1251.82,568.88 1248.57,569.12 1245.32,568.94 1242.07,568.55 1238.83,568.84 1235.58,569.88 1232.33,570.24 1229.08,569.47 1225.84,569.01 1222.59,569.75 1219.34,570.18 1216.09,570.30 1212.85,570.56 1209.60,570.87 1206.35,569.44 1203.10,568.07 1199.86,570.21 1196.61,571.08 1193.36,570.34 1190.11,570.84 1186.87,571.92 1183.62,570.98 1180.37,571.74 1177.12,572.53 1173.88,572.31 1170.63,573.22 1167.38,571.39 1164.13,569.47 1160.88,569.91 1157.64,571.92 1154.39,572.77 1151.14,571.79 1147.89,571.79 1144.65,572.45 1141.40,573.09 1138.15,573.20 1134.90,571.80 1131.66,571.87 1128.41,572.37 1125.16,571.15 1121.91,572.68 1118.67,574.25 1115.42,573.92 1112.17,574.06 1108.92,573.47 1105.68,572.55 1102.43,572.91 1099.18,572.28 1095.93,572.03 1092.69,573.34 1089.44,571.93 1086.19,571.63 1082.94,574.75 1079.70,575.67 1076.45,575.67 1073.20,576.70 1069.95,576.92 1066.71,577.87 1063.46,579.50 1060.21,579.44 1056.96,579.91 1053.72,582.12 1050.47,584.94 1047.22,585.42 1043.97,584.31 1040.73,583.51 1037.48,583.73 1034.23,583.28 1030.98,581.53 1027.74,580.07 1024.49,574.39 1021.24,564.92 1018.00,550.60 1014.75,510.24 1011.50,452.55" fill="#6a3d9a" fill-opacity="0.5" stroke="none"/>
<polyline points="1011.50,452.30 1014.75,509.91 1018.00,550.16 1021.24,564.64 1024.49,574.33 1027.74,579.70 1030.98,580.80 1034.23,582.46 1037.48,582.66 1040.73,582.26 1043.97,583.74 1047.22,584.50 1050.47,583.59 1053.72,581.35 1056.96,578.98 1060.21,578.09 1063.46,578.26 1066.71,577.23 1069.95,575.71 1073.20,575.11 1076.45,574.34 1079.70,573.97 1082.94,573.29 1086.19,570.73 1089.44,571.20 1092.69,572.09 1095.93,571.06 1099.18,571.49 1102.43,571.90 1105.68,571.37 1108.92,571.87 1112.17,572.27 1115.42,572.20 1118.67,572.86 1121.91,571.50 1125.16,570.72 1128.41,571.07 1131.66,570.10 1134.90,570.60 1138.15,571.64 1141.40,572.05 1144.65,571.52 1147.89,571.02 1151.14,571.19 1154.39,571.47 1157.64,570.43 1160.88,568.78 1164.13,568.62 1167.38,570.31 1170.63,571.82 1173.88,570.60 1177.12,570.74 1180.37,570.44 1183.62,569.91 1186.87,570.28 1190.11,569.32 1193.36,569.05 1196.61,569.27 1199.86,568.79 1203.10,567.50 1206.35,568.56 1209.60,569.90 1212.85,569.46 1216.09,568.88 1219.34,568.98 1222.59,568.56 1225.84,568.45 1229.08,568.24 1232.33,567.91 1235.58,568.49 1238.83,567.97 1242.07,567.38 1245.32,567.66 1248.57,568.29 1251.82,568.20 1255.06,568.42 1258.31,567.75 1261.56,566.82 1264.81,568.26 1268.05,569.16 1271.30,568.48 1274.55,568.47 1277.80,569.08 1281.04,568.31 1284.29,568.74 1287.54,568.86 1290.78,567.65 1294.03,567.31 1297.28,568.19 1300.53,569.60 1303.78,569.26 1307.02,568.85 1310.27,568.62 1313.52,568.62 1316.76,568.98 1320.01,568.40 1323.26,567.77 1326.51,567.77 1329.76,567.57 1333.00,566.74 1336.25,566.71" fill="none" stroke="#5a3a88" stroke-opacity="1" stroke-width="0.85" stroke-linejoin="round"/>
<polygon points="1011.50,382.75 1014.75,408.55 1018.00,436.47 1021.24,466.44 1024.49,467.77 1027.74,467.08 1030.98,466.06 1034.23,465.50 1037.48,469.26 1040.73,470.89 1043.97,473.19 1047.22,471.90 1050.47,470.72 1053.72,469.98 1056.96,473.83 1060.21,477.05 1063.46,475.69 1066.71,474.30 1069.95,472.60 1073.20,471.81 1076.45,474.00 1079.70,472.89 1082.94,475.86 1086.19,474.24 1089.44,475.82 1092.69,475.49 1095.93,480.20 1099.18,479.81 1102.43,484.17 1105.68,482.63 1108.92,487.31 1112.17,484.85 1115.42,485.82 1118.67,486.35 1121.91,486.87 1125.16,483.71 1128.41,482.49 1131.66,481.24 1134.90,481.49 1138.15,481.46 1141.40,481.57 1144.65,481.12 1147.89,480.18 1151.14,480.42 1154.39,482.02 1157.64,483.47 1160.88,482.53 1164.13,483.21 1167.38,479.40 1170.63,481.51 1173.88,480.10 1177.12,486.44 1180.37,487.45 1183.62,486.71 1186.87,483.39 1190.11,483.50 1193.36,482.97 1196.61,480.42 1199.86,480.16 1203.10,481.05 1206.35,479.30 1209.60,478.40 1212.85,480.72 1216.09,483.94 1219.34,485.73 1222.59,483.37 1225.84,484.18 1229.08,484.45 1232.33,484.90 1235.58,482.46 1238.83,478.82 1242.07,480.68 1245.32,482.39 1248.57,481.53 1251.82,481.89 1255.06,483.41 1258.31,485.46 1261.56,487.20 1264.81,484.96 1268.05,485.05 1271.30,483.25 1274.55,486.13 1277.80,486.16 1281.04,483.32 1284.29,484.61 1287.54,483.15 1290.78,484.33 1294.03,483.83 1297.28,487.06 1300.53,485.43 1303.78,486.98 1307.02,487.11 1310.27,487.61 1313.52,484.19 1316.76,481.38 1320.01,481.56 1323.26,482.67 1326.51,482.22 1329.76,483.74 1333.00,481.79 1336.25,481.79 1336.25,502.30 1333.00,502.50 1329.76,502.02 1326.51,501.52 1323.26,501.40 1320.01,501.23 1316.76,501.75 1313.52,501.35 1310.27,500.66 1307.02,499.76 1303.78,500.90 1300.53,502.02 1297.28,502.04 1294.03,500.33 1290.78,500.63 1287.54,500.59 1284.29,502.16 1281.04,501.69 1277.80,502.37 1274.55,501.28 1271.30,501.63 1268.05,502.73 1264.81,503.64 1261.56,501.78 1258.31,500.22 1255.06,499.58 1251.82,500.65 1248.57,501.07 1245.32,500.85 1242.07,501.42 1238.83,499.70 1235.58,499.12 1232.33,498.76 1229.08,499.72 1225.84,501.25 1222.59,500.17 1219.34,501.44 1216.09,499.97 1212.85,499.55 1209.60,497.84 1206.35,499.18 1203.10,500.39 1199.86,500.93 1196.61,500.83 1193.36,501.83 1190.11,501.71 1186.87,501.59 1183.62,500.13 1180.37,500.45 1177.12,499.32 1173.88,498.78 1170.63,499.87 1167.38,500.56 1164.13,503.09 1160.88,502.46 1157.64,501.89 1154.39,500.66 1151.14,500.08 1147.89,499.47 1144.65,499.77 1141.40,498.98 1138.15,499.79 1134.90,499.39 1131.66,498.40 1128.41,497.17 1125.16,497.12 1121.91,500.01 1118.67,501.31 1115.42,500.48 1112.17,499.14 1108.92,499.85 1105.68,499.45 1102.43,500.31 1099.18,498.98 1095.93,497.97 1092.69,496.30 1089.44,496.77 1086.19,496.74 1082.94,496.37 1079.70,494.06 1076.45,495.28 1073.20,494.81 1069.95,494.94 1066.71,494.30 1063.46,493.12 1060.21,493.28 1056.96,490.74 1053.72,490.13 1050.47,490.50 1047.22,490.26 1043.97,489.65 1040.73,486.10 1037.48,485.03 1034.23,482.38 1030.98,480.76 1027.74,477.73 1024.49,475.34 1021.24,472.68 1018.00,442.35 1014.75,412.29 1011.50,383.05" fill="#cab2d6" fill-opacity="0.5" stroke="none"/>
<polyline points="1011.50,382.90 1014.75,410.84 1018.00,440.61 1021.24,471.16 1024.49,474.08 1027.74,476.16 1030.98,478.80 1034.23,480.04 1037.48,482.63 1040.73,483.93 1043.97,486.52 1047.22,486.98 1050.47,486.80 1053.72,486.91 1056.96,488.00 1060.21,490.31 1063.46,490.70 1066.71,491.55 1069.95,491.59 1073.20,491.39 1076.45,491.76 1079.70,491.43 1082.94,493.26 1086.19,493.72 1089.44,493.45 1092.69,492.99 1095.93,494.54 1099.18,495.96 1102.43,497.25 1105.68,496.62 1108.92,497.47 1112.17,497.11 1115.42,498.19 1118.67,498.08 1121.91,497.03 1125.16,494.30 1128.41,494.56 1131.66,495.06 1134.90,496.36 1138.15,497.28 1141.40,497.34 1144.65,497.38 1147.89,496.04 1151.14,496.36 1154.39,497.15 1157.64,498.40 1160.88,499.17 1164.13,499.88 1167.38,498.39 1170.63,497.60 1173.88,496.46 1177.12,496.41 1180.37,497.10 1183.62,496.89 1186.87,498.41 1190.11,498.32 1193.36,498.57 1196.61,497.91 1199.86,497.74 1203.10,497.37 1206.35,495.81 1209.60,494.89 1212.85,496.48 1216.09,496.64 1219.34,497.62 1222.59,496.67 1225.84,497.29 1229.08,496.72 1232.33,495.58 1235.58,496.48 1238.83,496.83 1242.07,498.31 1245.32,498.19 1248.57,497.59 1251.82,497.37 1255.06,496.46 1258.31,497.52 1261.56,498.65 1264.81,499.55 1268.05,498.19 1271.30,497.59 1274.55,497.58 1277.80,498.89 1281.04,497.81 1284.29,497.94 1287.54,497.08 1290.78,497.14 1294.03,497.62 1297.28,499.27 1300.53,498.90 1303.78,497.85 1307.02,497.08 1310.27,497.58 1313.52,498.02 1316.76,497.76 1320.01,497.80 1323.26,497.59 1326.51,497.89 1329.76,498.60 1333.00,499.33 1336.25,498.87" fill="none" stroke="#ac9cc0" stroke-opacity="1" stroke-width="0.85" stroke-linejoin="round"/>
<polygon points="1011.50,466.36 1014.75,508.32 1018.00,544.57 1021.24,561.25 1024.49,571.36 1027.74,576.36 1030.98,578.31 1034.23,579.17 1037.48,579.56 1040.73,580.97 1043.97,581.37 1047.22,581.71 1050.47,582.54 1053.72,581.45 1056.96,581.44 1060.21,582.14 1063.46,582.89 1066.71,582.91 1069.95,581.68 1073.20,581.22 1076.45,582.23 1079.70,583.28 1082.94,582.53 1086.19,582.05 1089.44,582.25 1092.69,582.79 1095.93,582.29 1099.18,581.88 1102.43,583.38 1105.68,583.77 1108.92,583.15 1112.17,582.67 1115.42,582.19 1118.67,581.93 1121.91,582.87 1125.16,583.15 1128.41,582.26 1131.66,581.97 1134.90,582.47 1138.15,583.16 1141.40,583.06 1144.65,582.67 1147.89,582.33 1151.14,582.47 1154.39,582.81 1157.64,582.51 1160.88,582.88 1164.13,582.90 1167.38,582.17 1170.63,582.08 1173.88,583.09 1177.12,583.16 1180.37,583.10 1183.62,582.88 1186.87,582.89 1190.11,583.32 1193.36,583.26 1196.61,583.32 1199.86,583.32 1203.10,582.81 1206.35,582.13 1209.60,582.38 1212.85,581.89 1216.09,581.69 1219.34,581.78 1222.59,582.99 1225.84,583.73 1229.08,582.61 1232.33,582.31 1235.58,582.34 1238.83,581.76 1242.07,582.16 1245.32,583.17 1248.57,583.84 1251.82,583.23 1255.06,582.74 1258.31,583.03 1261.56,583.32 1264.81,584.13 1268.05,582.67 1271.30,582.31 1274.55,582.72 1277.80,582.57 1281.04,583.18 1284.29,582.26 1287.54,582.32 1290.78,583.61 1294.03,582.88 1297.28,581.85 1300.53,583.00 1303.78,583.23 1307.02,583.24 1310.27,583.30 1313.52,582.90 1316.76,583.54 1320.01,583.87 1323.26,583.05 1326.51,582.26 1329.76,582.24 1333.00,582.66 1336.25,582.63 1336.25,584.62 1333.00,585.12 1329.76,584.41 1326.51,584.33 1323.26,584.22 1320.01,584.61 1316.76,585.35 1313.52,584.63 1310.27,585.04 1307.02,585.68 1303.78,584.85 1300.53,584.73 1297.28,584.60 1294.03,584.29 1290.78,584.53 1287.54,584.43 1284.29,584.36 1281.04,584.96 1277.80,585.27 1274.55,585.92 1271.30,585.58 1268.05,584.84 1264.81,585.38 1261.56,585.35 1258.31,584.97 1255.06,584.40 1251.82,584.16 1248.57,584.51 1245.32,584.98 1242.07,584.59 1238.83,584.37 1235.58,584.98 1232.33,584.05 1229.08,583.05 1225.84,584.00 1222.59,584.27 1219.34,585.09 1216.09,585.07 1212.85,583.69 1209.60,584.44 1206.35,584.63 1203.10,584.42 1199.86,584.69 1196.61,584.68 1193.36,584.82 1190.11,584.92 1186.87,584.40 1183.62,584.62 1180.37,584.72 1177.12,584.39 1173.88,584.97 1170.63,584.46 1167.38,584.57 1164.13,585.68 1160.88,584.89 1157.64,584.46 1154.39,584.73 1151.14,584.28 1147.89,584.88 1144.65,584.69 1141.40,584.89 1138.15,585.69 1134.90,585.05 1131.66,584.14 1128.41,583.95 1125.16,584.84 1121.91,584.82 1118.67,584.29 1115.42,584.68 1112.17,584.76 1108.92,584.51 1105.68,584.88 1102.43,584.82 1099.18,584.21 1095.93,584.45 1092.69,583.75 1089.44,583.72 1086.19,584.33 1082.94,584.93 1079.70,585.29 1076.45,583.88 1073.20,583.24 1069.95,583.06 1066.71,584.42 1063.46,584.90 1060.21,583.39 1056.96,583.57 1053.72,583.88 1050.47,583.77 1047.22,583.39 1043.97,584.04 1040.73,584.59 1037.48,583.52 1034.23,581.99 1030.98,581.58 1027.74,580.65 1024.49,575.41 1021.24,564.40 1018.00,547.01 1014.75,512.08 1011.50,472.31" fill="#33a02c" fill-opacity="0.5" stroke="none"/>
<polyline points="1011.50,469.50 1014.75,509.94 1018.00,544.93 1021.24,561.88 1024.49,572.88 1027.74,578.22 1030.98,579.43 1034.23,580.91 1037.48,582.39 1040.73,582.96 1043.97,582.89 1047.22,583.10 1050.47,583.53 1053.72,582.67 1056.96,582.83 1060.21,583.11 1063.46,583.57 1066.71,583.45 1069.95,582.73 1073.20,582.21 1076.45,582.64 1079.70,584.10 1082.94,583.86 1086.19,583.12 1089.44,582.61 1092.69,582.92 1095.93,583.11 1099.18,582.85 1102.43,583.90 1105.68,584.09 1108.92,583.30 1112.17,583.44 1115.42,583.41 1118.67,583.10 1121.91,583.88 1125.16,583.97 1128.41,583.06 1131.66,583.14 1134.90,583.70 1138.15,584.04 1141.40,583.91 1144.65,584.22 1147.89,584.10 1151.14,583.35 1154.39,583.82 1157.64,583.60 1160.88,583.63 1164.13,584.00 1167.38,583.52 1170.63,583.67 1173.88,583.97 1177.12,583.93 1180.37,584.18 1183.62,583.96 1186.87,583.73 1190.11,583.79 1193.36,584.06 1196.61,584.42 1199.86,584.17 1203.10,583.56 1206.35,583.36 1209.60,583.30 1212.85,582.81 1216.09,583.42 1219.34,583.29 1222.59,583.51 1225.84,583.87 1229.08,582.86 1232.33,583.11 1235.58,583.90 1238.83,583.41 1242.07,583.40 1245.32,583.58 1248.57,583.98 1251.82,584.01 1255.06,583.60 1258.31,583.89 1261.56,584.18 1264.81,584.44 1268.05,583.67 1271.30,584.20 1274.55,584.41 1277.80,583.83 1281.04,584.16 1284.29,583.61 1287.54,583.23 1290.78,583.74 1294.03,583.50 1297.28,583.41 1300.53,584.27 1303.78,584.34 1307.02,584.10 1310.27,583.94 1313.52,584.17 1316.76,584.75 1320.01,584.01 1323.26,583.18 1326.51,583.12 1329.76,583.23 1333.00,583.75 1336.25,583.82" fill="none" stroke="#378c33" stroke-opacity="1" stroke-width="0.85" stroke-linejoin="round"/>
<path d="M1002 376.25V592.4" stroke="#555" stroke-width="1.0" fill="none"/>
<path d="M1001.5 592.4H1345.5" stroke="#333" stroke-width="1.0" fill="none"/>
<path d="M1011.50 592.4v-3 M1092.69 592.4v-3 M1173.88 592.4v-3 M1255.06 592.4v-3 M1336.25 592.4v-3 M1002 410.00h3.5 M1002 454.60h3.5 M1002 499.25h3.5 M1002 544.00h3.5 M1002 588.60h3.5" stroke="#444" stroke-width="1" fill="none"/>
<text x="1011.50" y="610.75" font-size="16.24" text-anchor="middle" textLength="10.43" lengthAdjust="spacingAndGlyphs">0</text>
<text x="1092.69" y="610.75" font-size="16.24" text-anchor="middle" textLength="41.74" lengthAdjust="spacingAndGlyphs">5000</text>
<text x="1173.88" y="610.75" font-size="16.24" text-anchor="middle" textLength="52.17" lengthAdjust="spacingAndGlyphs">10000</text>
<text x="1255.06" y="610.75" font-size="16.24" text-anchor="middle" textLength="52.17" lengthAdjust="spacingAndGlyphs">15000</text>
<text x="1336.25" y="610.75" font-size="16.24" text-anchor="middle" textLength="52.17" lengthAdjust="spacingAndGlyphs">20000</text>
<text x="996.00" y="416.00" font-size="16.24" text-anchor="end" textLength="31.30" lengthAdjust="spacingAndGlyphs">800</text>
<text x="996.00" y="460.60" font-size="16.24" text-anchor="end" textLength="31.30" lengthAdjust="spacingAndGlyphs">600</text>
<text x="996.00" y="505.25" font-size="16.24" text-anchor="end" textLength="31.30" lengthAdjust="spacingAndGlyphs">400</text>
<text x="996.00" y="550.00" font-size="16.24" text-anchor="end" textLength="31.30" lengthAdjust="spacingAndGlyphs">200</text>
<text x="996.00" y="594.60" font-size="16.24" text-anchor="end" textLength="10.43" lengthAdjust="spacingAndGlyphs">0</text>
<text x="1173.75" y="635.50" font-size="22.96" text-anchor="middle" textLength="92.19" lengthAdjust="spacingAndGlyphs">iteration</text>
<text x="954.30" y="484.50" font-size="22.96" text-anchor="middle" textLength="45.19" lengthAdjust="spacingAndGlyphs" transform="rotate(-90 954.30 484.50)">KSD</text>
<text x="1146.5" y="694.4" font-family="Liberation Serif" font-size="31" text-anchor="middle">(f)</text>
<rect x="274.5" y="126.6" width="135.1" height="106.7" fill="#fff" stroke="#333" stroke-width="1"/>
<path d="M278 144.30H297.6" stroke="#23679b" stroke-width="1.8"/>
<text x="300.00" y="150.30" font-size="17.30" text-anchor="start" textLength="60.79" lengthAdjust="spacingAndGlyphs">HIS-Full</text>
<path d="M278 162.08H297.6" stroke="#8db6cc" stroke-width="1.8"/>
<text x="300.00" y="168.08" font-size="17.30" text-anchor="start" textLength="95.34" lengthAdjust="spacingAndGlyphs">HIS-Coreset</text>
<path d="M278 179.86H297.6" stroke="#5a3a88" stroke-width="1.8"/>
<text x="300.00" y="185.86" font-size="17.30" text-anchor="start" textLength="68.31" lengthAdjust="spacingAndGlyphs">UHA-Full</text>
<path d="M278 197.64H297.6" stroke="#ac9cc0" stroke-width="1.8"/>
<text x="300.00" y="203.64" font-size="17.30" text-anchor="start" textLength="102.86" lengthAdjust="spacingAndGlyphs">UHA-Coreset</text>
<path d="M278 215.42H297.6" stroke="#378c33" stroke-width="1.8"/>
<text x="300.00" y="221.42" font-size="17.30" text-anchor="start" textLength="31.78" lengthAdjust="spacingAndGlyphs">SHF</text>
</svg>
</body></html>
